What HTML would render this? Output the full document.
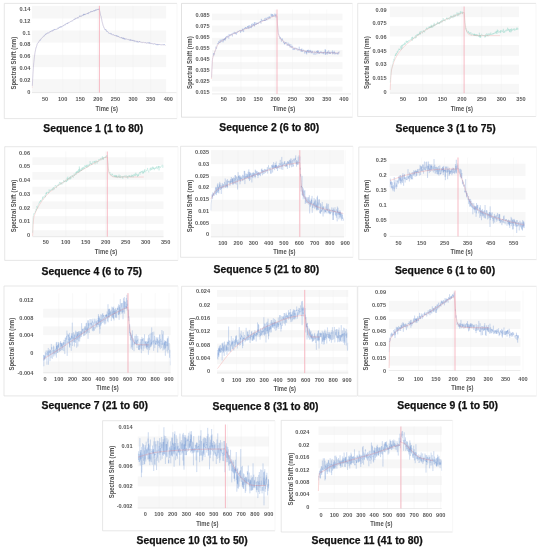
<!DOCTYPE html>
<html><head><meta charset="utf-8"><title>Sequences</title>
<style>
html,body{margin:0;padding:0;background:#fff;}
body{width:540px;height:550px;overflow:hidden;}
svg{display:block;}
.t{font-family:"Liberation Sans", Arial, sans-serif;font-size:5.60px;fill:#595959;font-weight:bold;}
.ti{font-family:"Liberation Sans", Arial, sans-serif;font-size:6.30px;fill:#505050;font-weight:bold;}
.cap{font-family:"Liberation Sans", Arial, sans-serif;font-size:10.7px;font-weight:bold;fill:#111;stroke:#111;stroke-width:0.25px;}
</style></head><body>
<svg width="540" height="550" viewBox="0 0 540 550">
<rect width="540" height="550" fill="#fff"/>
<path d="M4.3 3.4H177.0M4.3 3.4V118.6M4.3 118.6H177.0" fill="none" stroke="#dcdcdc" stroke-width="0.7"/>
<path d="M177.0 3.4V118.6" fill="none" stroke="#f3f3f3" stroke-width="0.7"/>
<rect x="32.0" y="5.80" width="134.2" height="12.70" fill="#f7f7f7"/>
<rect x="32.0" y="30.50" width="134.2" height="12.10" fill="#f7f7f7"/>
<rect x="32.0" y="54.80" width="134.2" height="12.40" fill="#f7f7f7"/>
<rect x="32.0" y="79.20" width="134.2" height="13.40" fill="#f7f7f7"/>
<line x1="62.61" y1="5.8" x2="62.61" y2="92.6" stroke="#f0f0f0" stroke-width="0.4"/>
<line x1="80.23" y1="5.8" x2="80.23" y2="92.6" stroke="#f0f0f0" stroke-width="0.4"/>
<line x1="97.84" y1="5.8" x2="97.84" y2="92.6" stroke="#f0f0f0" stroke-width="0.4"/>
<line x1="115.46" y1="5.8" x2="115.46" y2="92.6" stroke="#f0f0f0" stroke-width="0.4"/>
<line x1="133.07" y1="5.8" x2="133.07" y2="92.6" stroke="#f0f0f0" stroke-width="0.4"/>
<line x1="150.69" y1="5.8" x2="150.69" y2="92.6" stroke="#f0f0f0" stroke-width="0.4"/>
<line x1="32.0" y1="92.60" x2="176.5" y2="92.60" stroke="#d9d9d9" stroke-width="0.5"/>
<text x="30.3" y="11.02" text-anchor="end" class="t">0.14</text>
<text x="30.3" y="22.80" text-anchor="end" class="t">0.12</text>
<text x="30.3" y="34.59" text-anchor="end" class="t">0.1</text>
<text x="30.3" y="46.37" text-anchor="end" class="t">0.08</text>
<text x="30.3" y="58.16" text-anchor="end" class="t">0.06</text>
<text x="30.3" y="69.94" text-anchor="end" class="t">0.04</text>
<text x="30.3" y="81.73" text-anchor="end" class="t">0.02</text>
<text x="30.3" y="93.52" text-anchor="end" class="t">0</text>
<text x="45.00" y="101.22" text-anchor="middle" class="t">50</text>
<text x="62.61" y="101.22" text-anchor="middle" class="t">100</text>
<text x="80.23" y="101.22" text-anchor="middle" class="t">150</text>
<text x="97.84" y="101.22" text-anchor="middle" class="t">200</text>
<text x="115.46" y="101.22" text-anchor="middle" class="t">250</text>
<text x="133.07" y="101.22" text-anchor="middle" class="t">300</text>
<text x="150.69" y="101.22" text-anchor="middle" class="t">350</text>
<text x="168.30" y="101.22" text-anchor="middle" class="t">400</text>
<text x="95.55" y="111.27" class="ti" textLength="22.3" lengthAdjust="spacingAndGlyphs">Time (s)</text>
<text transform="translate(14.20 63.20) rotate(-90)" x="-26.3" y="2.27" class="ti" textLength="52.6" lengthAdjust="spacingAndGlyphs">Spectral Shift (nm)</text>
<path d="M32.30 85.90 L32.60 80.64 L32.90 74.78 L33.20 69.87 L33.50 65.63 L33.80 62.44 L34.10 59.93 L34.40 56.99 L34.70 54.91 L35.00 52.67 L35.30 51.14 L35.60 49.69 L35.90 47.73 L36.20 47.60 L36.50 46.50 L36.80 45.68 L37.10 44.10 L37.40 43.45 L37.70 43.21 L38.00 42.81 L38.30 42.58 L38.60 41.94 L38.90 41.72 L39.20 40.84 L39.50 40.83 L39.80 40.51 L40.10 39.74 L40.40 40.36 L40.70 39.56 L41.00 39.48 L41.30 38.41 L41.60 38.03 L41.90 37.86 L42.20 37.64 L42.50 37.62 L42.80 37.16 L43.10 36.59 L43.40 36.09 L43.70 35.98 L44.00 36.40 L44.30 35.32 L44.60 35.48 L44.90 35.30 L45.20 34.29 L45.50 34.67 L45.80 34.95 L46.10 33.40 L46.40 33.87 L46.70 33.75 L47.00 33.28 L47.30 33.62 L47.60 33.21 L47.90 32.48 L48.20 33.23 L48.50 33.00 L48.80 32.96 L49.10 33.00 L49.40 32.42 L49.70 32.17 L50.00 31.46 L50.30 32.08 L50.60 31.44 L50.90 31.36 L51.20 30.89 L51.50 30.86 L51.80 30.89 L52.10 31.47 L52.40 29.99 L52.70 30.07 L53.00 30.61 L53.30 30.95 L53.60 30.47 L53.90 29.34 L54.20 28.96 L54.50 29.98 L54.80 29.41 L55.10 29.13 L55.40 29.83 L55.70 29.76 L56.00 29.25 L56.30 29.16 L56.60 29.10 L56.90 29.43 L57.20 28.91 L57.50 28.74 L57.80 28.62 L58.10 27.64 L58.40 28.64 L58.70 28.37 L59.00 28.06 L59.30 26.91 L59.60 27.30 L59.90 27.74 L60.20 26.52 L60.50 27.02 L60.80 27.35 L61.10 26.26 L61.40 27.27 L61.70 26.69 L62.00 26.25 L62.30 26.27 L62.60 26.24 L62.90 25.87 L63.20 26.11 L63.50 25.23 L63.80 25.16 L64.10 25.58 L64.40 25.01 L64.70 24.48 L65.00 25.04 L65.30 25.08 L65.60 24.15 L65.90 23.61 L66.20 23.94 L66.50 23.77 L66.80 23.54 L67.10 24.06 L67.40 22.92 L67.70 23.67 L68.00 22.49 L68.30 22.52 L68.60 22.92 L68.90 22.95 L69.20 22.67 L69.50 22.30 L69.80 22.05 L70.10 21.88 L70.40 21.88 L70.70 21.41 L71.00 21.42 L71.30 21.36 L71.60 20.96 L71.90 21.09 L72.20 20.84 L72.50 21.25 L72.80 20.40 L73.10 19.93 L73.40 19.78 L73.70 19.76 L74.00 19.96 L74.30 19.29 L74.60 19.42 L74.90 19.83 L75.20 17.91 L75.50 18.33 L75.80 18.71 L76.10 18.62 L76.40 18.40 L76.70 17.98 L77.00 18.26 L77.30 17.96 L77.60 17.49 L77.90 18.53 L78.20 17.55 L78.50 17.04 L78.80 17.08 L79.10 16.89 L79.40 16.81 L79.70 15.60 L80.00 16.36 L80.30 16.82 L80.60 15.81 L80.90 16.11 L81.20 16.38 L81.50 16.21 L81.80 16.33 L82.10 14.92 L82.40 15.32 L82.70 15.20 L83.00 15.45 L83.30 15.51 L83.60 13.87 L83.90 15.25 L84.20 14.10 L84.50 14.83 L84.80 13.83 L85.10 14.37 L85.40 14.65 L85.70 13.98 L86.00 13.99 L86.30 14.11 L86.60 13.72 L86.90 13.51 L87.20 14.03 L87.50 13.71 L87.80 13.05 L88.10 14.15 L88.40 12.47 L88.70 13.18 L89.00 12.59 L89.30 12.63 L89.60 12.74 L89.90 12.43 L90.20 12.48 L90.50 11.50 L90.80 11.40 L91.10 12.13 L91.40 11.39 L91.70 11.25 L92.00 10.96 L92.30 11.95 L92.60 11.63 L92.90 11.81 L93.20 10.73 L93.50 11.00 L93.80 10.43 L94.10 11.08 L94.40 11.30 L94.70 10.20 L95.00 11.07 L95.30 10.73 L95.60 10.15 L95.90 9.32 L96.20 10.56 L96.50 9.84 L96.80 9.53 L97.10 9.81 L97.40 9.70 L97.70 10.02 L98.00 8.90 L98.30 9.64 L98.60 9.67 L98.90 9.54 L99.20 8.77 M99.30 8.50 L99.60 10.64 L99.90 11.72 L100.20 13.15 L100.50 15.07 L100.80 15.76 L101.10 16.28 L101.40 18.36 L101.70 19.06 L102.00 21.43 L102.30 22.52 L102.60 23.35 L102.90 24.62 L103.20 25.84 L103.50 26.32 L103.80 27.52 L104.10 27.59 L104.40 28.60 L104.70 29.29 L105.00 29.80 L105.30 29.30 L105.60 30.29 L105.90 29.53 L106.20 30.17 L106.50 30.12 L106.80 31.63 L107.10 31.00 L107.40 31.74 L107.70 31.91 L108.00 32.20 L108.30 32.17 L108.60 32.69 L108.90 33.49 L109.20 32.97 L109.50 33.33 L109.80 33.69 L110.10 33.38 L110.40 33.12 L110.70 33.56 L111.00 34.37 L111.30 33.43 L111.60 34.00 L111.90 34.79 L112.20 34.84 L112.50 34.66 L112.80 35.11 L113.10 34.98 L113.40 34.57 L113.70 34.54 L114.00 35.03 L114.30 35.77 L114.60 35.29 L114.90 35.27 L115.20 35.43 L115.50 35.24 L115.80 35.91 L116.10 35.59 L116.40 36.32 L116.70 35.33 L117.00 36.51 L117.30 36.22 L117.60 35.80 L117.90 36.96 L118.20 36.66 L118.50 35.97 L118.80 36.61 L119.10 37.17 L119.40 36.96 L119.70 37.54 L120.00 37.62 L120.30 37.68 L120.60 37.63 L120.90 38.12 L121.20 37.93 L121.50 37.93 L121.80 37.00 L122.10 38.28 L122.40 38.53 L122.70 37.97 L123.00 37.98 L123.30 39.03 L123.60 37.63 L123.90 38.60 L124.20 39.46 L124.50 38.20 L124.80 38.93 L125.10 39.49 L125.40 38.76 L125.70 39.11 L126.00 39.33 L126.30 38.68 L126.60 39.09 L126.90 39.32 L127.20 39.61 L127.50 39.34 L127.80 39.35 L128.10 39.09 L128.40 39.43 L128.70 40.00 L129.00 39.76 L129.30 39.45 L129.60 39.53 L129.90 41.00 L130.20 40.46 L130.50 40.33 L130.80 39.11 L131.10 40.46 L131.40 40.48 L131.70 41.03 L132.00 40.59 L132.30 40.46 L132.60 40.76 L132.90 39.84 L133.20 41.10 L133.50 40.88 L133.80 40.53 L134.10 41.41 L134.40 41.66 L134.70 40.44 L135.00 40.80 L135.30 41.24 L135.60 41.26 L135.90 41.09 L136.20 40.91 L136.50 42.21 L136.80 41.84 L137.10 41.00 L137.40 41.00 L137.70 42.27 L138.00 42.04 L138.30 42.43 L138.60 42.08 L138.90 41.46 L139.20 41.97 L139.50 41.05 L139.80 41.67 L140.10 42.00 L140.40 42.28 L140.70 41.83 L141.00 42.12 L141.30 42.39 L141.60 42.41 L141.90 42.56 L142.20 42.43 L142.50 42.26 L142.80 42.75 L143.10 42.49 L143.40 42.18 L143.70 42.30 L144.00 42.59 L144.30 42.59 L144.60 42.73 L144.90 42.71 L145.20 42.81 L145.50 42.73 L145.80 42.31 L146.10 43.02 L146.40 43.31 L146.70 43.10 L147.00 42.88 L147.30 43.17 L147.60 42.64 L147.90 42.30 L148.20 43.12 L148.50 42.76 L148.80 43.46 L149.10 42.76 L149.40 42.18 L149.70 42.85 L150.00 43.93 L150.30 43.18 L150.60 42.81 L150.90 43.09 L151.20 43.64 L151.50 43.66 L151.80 43.57 L152.10 44.13 L152.40 43.85 L152.70 43.60 L153.00 43.88 L153.30 44.34 L153.60 44.10 L153.90 44.16 L154.20 43.35 L154.50 43.77 L154.80 44.16 L155.10 43.78 L155.40 44.37 L155.70 44.22 L156.00 44.38 L156.30 43.97 L156.60 45.11 L156.90 44.62 L157.20 44.08 L157.50 44.24 L157.80 45.28 L158.10 44.14 L158.40 44.67 L158.70 44.75 L159.00 44.40 L159.30 43.96 L159.60 44.54 L159.90 44.65 L160.20 45.00 L160.50 44.90 L160.80 44.63 L161.10 45.00 L161.40 44.91 L161.70 44.82 L162.00 44.79 L162.30 44.71 L162.60 45.12 L162.90 44.46 L163.20 44.67 L163.50 44.96 L163.80 44.41 L164.10 44.86 L164.40 44.27 L164.70 44.84 L165.00 45.38 L165.30 45.41" fill="none" stroke="#4472c4" stroke-width="0.45" stroke-opacity="0.50" stroke-linejoin="round"/>
<path d="M32.30 88.00 L32.80 77.43 L33.30 68.51 L33.80 62.33 L34.30 57.64 L34.80 53.81 L35.30 50.98 L35.80 48.79 L36.30 46.92 L36.80 45.48 L37.30 44.35 L37.80 43.38 L38.30 42.45 L38.80 41.65 L39.30 40.96 L39.80 40.35 L40.30 39.78 L40.80 39.23 L41.30 38.66 L41.80 38.11 L42.30 37.58 L42.80 37.06 L43.30 36.57 L43.80 36.10 L44.30 35.65 L44.80 35.22 L45.30 34.81 L45.80 34.42 L46.30 34.07 L46.80 33.73 L47.30 33.42 L47.80 33.12 L48.30 32.84 L48.80 32.58 L49.30 32.32 L49.80 32.07 L50.30 31.83 L50.80 31.59 L51.30 31.35 L51.80 31.10 L52.30 30.85 L52.80 30.61 L53.30 30.37 L53.80 30.15 L54.30 29.92 L54.80 29.70 L55.30 29.49 L55.80 29.27 L56.30 29.06 L56.80 28.84 L57.30 28.62 L57.80 28.40 L58.30 28.17 L58.80 27.94 L59.30 27.70 L59.80 27.45 L60.30 27.20 L60.80 26.94 L61.30 26.68 L61.80 26.41 L62.30 26.14 L62.80 25.87 L63.30 25.60 L63.80 25.33 L64.30 25.05 L64.80 24.77 L65.30 24.50 L65.80 24.22 L66.30 23.94 L66.80 23.66 L67.30 23.39 L67.80 23.11 L68.30 22.83 L68.80 22.56 L69.30 22.27 L69.80 21.99 L70.30 21.71 L70.80 21.42 L71.30 21.13 L71.80 20.84 L72.30 20.56 L72.80 20.27 L73.30 19.99 L73.80 19.71 L74.30 19.43 L74.80 19.15 L75.30 18.88 L75.80 18.62 L76.30 18.36 L76.80 18.10 L77.30 17.85 L77.80 17.60 L78.30 17.36 L78.80 17.12 L79.30 16.88 L79.80 16.65 L80.30 16.41 L80.80 16.18 L81.30 15.96 L81.80 15.73 L82.30 15.51 L82.80 15.29 L83.30 15.07 L83.80 14.85 L84.30 14.64 L84.80 14.43 L85.30 14.21 L85.80 14.00 L86.30 13.79 L86.80 13.58 L87.30 13.38 L87.80 13.17 L88.30 12.97 L88.80 12.77 L89.30 12.58 L89.80 12.38 L90.30 12.19 L90.80 12.00 L91.30 11.81 L91.80 11.63 L92.30 11.44 L92.80 11.26 L93.30 11.07 L93.80 10.89 L94.30 10.70 L94.80 10.52 L95.30 10.33 L95.80 10.14 L96.30 9.96 L96.80 9.77 L97.30 9.58 L97.80 9.38 L98.30 9.19 L98.80 8.99 L99.30 8.80 M99.30 8.80 L99.80 11.20 L100.30 13.57 L100.80 15.86 L101.30 18.08 L101.80 20.23 L102.30 22.40 L102.80 24.30 L103.30 25.78 L103.80 26.99 L104.30 28.00 L104.80 28.85 L105.30 29.57 L105.80 30.17 L106.30 30.71 L106.80 31.20 L107.30 31.67 L107.80 32.06 L108.30 32.41 L108.80 32.72 L109.30 33.01 L109.80 33.29 L110.30 33.57 L110.80 33.84 L111.30 34.09 L111.80 34.34 L112.30 34.57 L112.80 34.79 L113.30 35.00 L113.80 35.20 L114.30 35.40 L114.80 35.59 L115.30 35.78 L115.80 35.96 L116.30 36.14 L116.80 36.31 L117.30 36.48 L117.80 36.64 L118.30 36.80 L118.80 36.96 L119.30 37.11 L119.80 37.26 L120.30 37.41 L120.80 37.55 L121.30 37.70 L121.80 37.84 L122.30 37.98 L122.80 38.11 L123.30 38.25 L123.80 38.39 L124.30 38.52 L124.80 38.65 L125.30 38.79 L125.80 38.92 L126.30 39.05 L126.80 39.17 L127.30 39.30 L127.80 39.43 L128.30 39.55 L128.80 39.67 L129.30 39.79 L129.80 39.91 L130.30 40.03 L130.80 40.15 L131.30 40.26 L131.80 40.37 L132.30 40.49 L132.80 40.60 L133.30 40.71 L133.80 40.81 L134.30 40.92 L134.80 41.02 L135.30 41.12 L135.80 41.22 L136.30 41.32 L136.80 41.42 L137.30 41.52 L137.80 41.61 L138.30 41.70 L138.80 41.79 L139.30 41.88 L139.80 41.97 L140.30 42.05 L140.80 42.13 L141.30 42.21 L141.80 42.29 L142.30 42.36 L142.80 42.43 L143.30 42.50 L143.80 42.57 L144.30 42.63 L144.80 42.69 L145.30 42.76 L145.80 42.82 L146.30 42.88 L146.80 42.93 L147.30 42.99 L147.80 43.05 L148.30 43.11 L148.80 43.16 L149.30 43.22 L149.80 43.27 L150.30 43.33 L150.80 43.39 L151.30 43.44 L151.80 43.50 L152.30 43.56 L152.80 43.62 L153.30 43.68 L153.80 43.74 L154.30 43.80 L154.80 43.86 L155.30 43.93 L155.80 43.99 L156.30 44.05 L156.80 44.12 L157.30 44.18 L157.80 44.24 L158.30 44.31 L158.80 44.37 L159.30 44.43 L159.80 44.49 L160.30 44.56 L160.80 44.62 L161.30 44.68 L161.80 44.75 L162.30 44.81 L162.80 44.87 L163.30 44.94 L163.80 45.00 L164.30 45.06 L164.80 45.12 L165.30 45.19" fill="none" stroke="#f07070" stroke-width="0.45" stroke-opacity="0.25"/>
<line x1="99.40" y1="5.8" x2="99.40" y2="92.6" stroke="#f5aab6" stroke-width="0.8"/>
<text x="43.3" y="131.7" class="cap" textLength="100.0" lengthAdjust="spacingAndGlyphs">Sequence 1 (1 to 80)</text>
<path d="M181.5 3.4H352.5M181.5 3.4V117.2M181.5 117.2H352.5" fill="none" stroke="#d6d6d6" stroke-width="0.7"/>
<path d="M352.5 3.4V117.2" fill="none" stroke="#f3f3f3" stroke-width="0.7"/>
<rect x="212.0" y="13.60" width="130.5" height="6.70" fill="#f7f7f7"/>
<rect x="212.0" y="25.60" width="130.5" height="6.70" fill="#f7f7f7"/>
<rect x="212.0" y="37.80" width="130.5" height="6.70" fill="#f7f7f7"/>
<rect x="212.0" y="50.00" width="130.5" height="6.70" fill="#f7f7f7"/>
<rect x="212.0" y="62.20" width="130.5" height="6.70" fill="#f7f7f7"/>
<rect x="212.0" y="74.40" width="130.5" height="6.70" fill="#f7f7f7"/>
<rect x="212.0" y="86.60" width="130.5" height="4.90" fill="#f7f7f7"/>
<line x1="240.93" y1="9.5" x2="240.93" y2="93.9" stroke="#f0f0f0" stroke-width="0.4"/>
<line x1="258.11" y1="9.5" x2="258.11" y2="93.9" stroke="#f0f0f0" stroke-width="0.4"/>
<line x1="275.29" y1="9.5" x2="275.29" y2="93.9" stroke="#f0f0f0" stroke-width="0.4"/>
<line x1="292.46" y1="9.5" x2="292.46" y2="93.9" stroke="#f0f0f0" stroke-width="0.4"/>
<line x1="309.64" y1="9.5" x2="309.64" y2="93.9" stroke="#f0f0f0" stroke-width="0.4"/>
<line x1="326.82" y1="9.5" x2="326.82" y2="93.9" stroke="#f0f0f0" stroke-width="0.4"/>
<line x1="212.0" y1="93.90" x2="351.0" y2="93.90" stroke="#d9d9d9" stroke-width="0.5"/>
<text x="209.5" y="16.52" text-anchor="end" class="t">0.085</text>
<text x="209.5" y="27.52" text-anchor="end" class="t">0.075</text>
<text x="209.5" y="38.52" text-anchor="end" class="t">0.065</text>
<text x="209.5" y="49.52" text-anchor="end" class="t">0.055</text>
<text x="209.5" y="60.52" text-anchor="end" class="t">0.045</text>
<text x="209.5" y="71.52" text-anchor="end" class="t">0.035</text>
<text x="209.5" y="82.52" text-anchor="end" class="t">0.025</text>
<text x="209.5" y="93.52" text-anchor="end" class="t">0.015</text>
<text x="223.75" y="100.52" text-anchor="middle" class="t">50</text>
<text x="240.93" y="100.52" text-anchor="middle" class="t">100</text>
<text x="258.11" y="100.52" text-anchor="middle" class="t">150</text>
<text x="275.29" y="100.52" text-anchor="middle" class="t">200</text>
<text x="292.46" y="100.52" text-anchor="middle" class="t">250</text>
<text x="309.64" y="100.52" text-anchor="middle" class="t">300</text>
<text x="326.82" y="100.52" text-anchor="middle" class="t">350</text>
<text x="344.00" y="100.52" text-anchor="middle" class="t">400</text>
<text x="272.85" y="111.27" class="ti" textLength="22.3" lengthAdjust="spacingAndGlyphs">Time (s)</text>
<text transform="translate(190.00 62.70) rotate(-90)" x="-26.3" y="2.27" class="ti" textLength="52.6" lengthAdjust="spacingAndGlyphs">Spectral Shift (nm)</text>
<path d="M211.50 77.55 L211.72 72.80 L211.94 67.97 L212.16 62.88 L212.38 59.92 L212.60 57.90 L212.82 57.49 L213.04 57.32 L213.26 54.89 L213.48 53.14 L213.70 54.46 L213.92 55.51 L214.14 53.56 L214.36 54.27 L214.58 52.46 L214.80 51.24 L215.02 51.03 L215.24 51.29 L215.46 50.30 L215.68 49.73 L215.90 46.63 L216.12 48.04 L216.34 48.76 L216.56 48.74 L216.78 47.32 L217.00 45.37 L217.22 44.87 L217.44 44.03 L217.66 43.25 L217.88 42.96 L218.10 43.86 L218.32 43.62 L218.54 44.19 L218.76 41.09 L218.98 42.84 L219.20 42.05 L219.42 42.37 L219.64 42.81 L219.86 42.10 L220.08 39.67 L220.30 42.64 L220.52 42.42 L220.74 41.76 L220.96 39.60 L221.18 39.74 L221.40 39.69 L221.62 41.22 L221.84 41.55 L222.06 42.17 L222.28 39.85 L222.50 38.86 L222.72 39.33 L222.94 40.42 L223.16 42.34 L223.38 39.16 L223.60 40.18 L223.82 39.52 L224.04 40.47 L224.26 38.06 L224.48 40.06 L224.70 38.98 L224.92 39.42 L225.14 38.02 L225.36 40.50 L225.58 36.90 L225.80 38.96 L226.02 37.18 L226.24 37.38 L226.46 36.28 L226.68 37.16 L226.90 37.40 L227.12 36.06 L227.34 36.99 L227.56 37.46 L227.78 36.45 L228.00 35.50 L228.22 35.96 L228.44 36.75 L228.66 38.16 L228.88 38.73 L229.10 33.95 L229.32 35.85 L229.54 35.98 L229.76 35.51 L229.98 36.11 L230.20 35.22 L230.42 34.07 L230.64 34.34 L230.86 35.51 L231.08 35.27 L231.30 34.54 L231.52 34.99 L231.74 33.89 L231.96 33.43 L232.18 34.84 L232.40 36.44 L232.62 33.84 L232.84 33.49 L233.06 33.80 L233.28 32.56 L233.50 33.37 L233.72 33.56 L233.94 33.93 L234.16 33.97 L234.38 31.77 L234.60 32.35 L234.82 33.84 L235.04 34.12 L235.26 32.06 L235.48 32.64 L235.70 33.98 L235.92 33.57 L236.14 32.89 L236.36 34.70 L236.58 33.51 L236.80 31.93 L237.02 32.85 L237.24 32.85 L237.46 31.59 L237.68 31.63 L237.90 31.81 L238.12 30.85 L238.34 31.80 L238.56 31.38 L238.78 31.51 L239.00 30.88 L239.22 30.46 L239.44 30.30 L239.66 30.86 L239.88 31.10 L240.10 30.05 L240.32 29.93 L240.54 32.89 L240.76 30.61 L240.98 31.37 L241.20 30.86 L241.42 30.96 L241.64 30.28 L241.86 30.24 L242.08 31.56 L242.30 28.57 L242.52 30.53 L242.74 29.26 L242.96 29.54 L243.18 29.20 L243.40 28.73 L243.62 32.11 L243.84 30.10 L244.06 29.60 L244.28 29.06 L244.50 27.94 L244.72 28.97 L244.94 28.33 L245.16 27.59 L245.38 28.27 L245.60 27.07 L245.82 28.60 L246.04 27.48 L246.26 28.73 L246.48 28.70 L246.70 28.25 L246.92 27.32 L247.14 28.50 L247.36 27.68 L247.58 26.09 L247.80 27.29 L248.02 26.11 L248.24 29.05 L248.46 27.99 L248.68 25.45 L248.90 27.41 L249.12 27.16 L249.34 28.56 L249.56 27.51 L249.78 25.10 L250.00 26.15 L250.22 27.31 L250.44 26.89 L250.66 27.83 L250.88 27.39 L251.10 26.32 L251.32 28.15 L251.54 23.86 L251.76 26.71 L251.98 26.31 L252.20 25.64 L252.42 26.47 L252.64 25.31 L252.86 23.30 L253.08 25.58 L253.30 24.33 L253.52 24.88 L253.74 24.16 L253.96 25.90 L254.18 26.32 L254.40 22.03 L254.62 26.31 L254.84 24.83 L255.06 22.85 L255.28 22.28 L255.50 24.29 L255.72 24.70 L255.94 24.00 L256.16 24.99 L256.38 23.36 L256.60 24.21 L256.82 22.57 L257.04 23.72 L257.26 23.02 L257.48 23.26 L257.70 23.91 L257.92 22.82 L258.14 24.12 L258.36 23.55 L258.58 22.62 L258.80 22.20 L259.02 22.98 L259.24 22.68 L259.46 22.33 L259.68 21.77 L259.90 21.62 L260.12 21.16 L260.34 22.19 L260.56 21.16 L260.78 22.74 L261.00 23.67 L261.22 18.81 L261.44 18.96 L261.66 20.48 L261.88 21.49 L262.10 20.03 L262.32 20.95 L262.54 20.91 L262.76 21.02 L262.98 20.33 L263.20 19.90 L263.42 20.35 L263.64 20.69 L263.86 19.95 L264.08 20.71 L264.30 19.83 L264.52 21.00 L264.74 19.59 L264.96 18.01 L265.18 20.97 L265.40 20.40 L265.62 20.85 L265.84 20.33 L266.06 17.62 L266.28 18.09 L266.50 19.68 L266.72 18.90 L266.94 20.37 L267.16 19.31 L267.38 17.93 L267.60 17.45 L267.82 17.63 L268.04 17.11 L268.26 18.81 L268.48 19.26 L268.70 18.33 L268.92 16.57 L269.14 18.24 L269.36 18.07 L269.58 16.65 L269.80 16.30 L270.02 18.75 L270.24 17.82 L270.46 17.35 L270.68 17.04 L270.90 16.63 L271.12 13.73 L271.34 15.41 L271.56 16.54 L271.78 14.83 L272.00 14.07 L272.22 16.61 L272.44 16.94 L272.66 14.06 L272.88 16.23 L273.10 15.54 L273.32 16.26 L273.54 15.44 L273.76 16.07 L273.98 16.54 L274.20 16.31 L274.42 15.76 L274.64 14.62 L274.86 13.53 L275.08 16.29 L275.30 16.11 L275.52 16.11 L275.74 14.25 L275.96 17.59 L276.18 16.96 L276.40 15.20 L276.62 14.16 L276.84 13.76 M277.00 16.11 L277.22 19.27 L277.44 23.61 L277.66 26.16 L277.88 28.69 L278.10 30.56 L278.32 34.06 L278.54 34.06 L278.76 34.62 L278.98 34.57 L279.20 36.69 L279.42 36.39 L279.64 37.32 L279.86 37.38 L280.08 38.92 L280.30 36.89 L280.52 38.57 L280.74 38.98 L280.96 39.65 L281.18 39.49 L281.40 41.68 L281.62 40.93 L281.84 38.25 L282.06 39.32 L282.28 39.71 L282.50 38.73 L282.72 40.75 L282.94 40.36 L283.16 41.78 L283.38 41.80 L283.60 42.88 L283.82 42.02 L284.04 41.41 L284.26 44.17 L284.48 42.99 L284.70 44.48 L284.92 42.81 L285.14 42.86 L285.36 42.00 L285.58 43.30 L285.80 43.71 L286.02 42.95 L286.24 41.95 L286.46 42.92 L286.68 43.73 L286.90 44.10 L287.12 45.82 L287.34 44.67 L287.56 44.56 L287.78 44.74 L288.00 42.57 L288.22 45.76 L288.44 44.64 L288.66 44.34 L288.88 44.39 L289.10 43.77 L289.32 46.14 L289.54 44.42 L289.76 46.65 L289.98 46.49 L290.20 47.64 L290.42 46.54 L290.64 46.71 L290.86 44.13 L291.08 47.21 L291.30 46.69 L291.52 46.75 L291.74 48.14 L291.96 45.87 L292.18 45.86 L292.40 47.09 L292.62 47.26 L292.84 46.64 L293.06 50.08 L293.28 48.30 L293.50 49.30 L293.72 48.84 L293.94 49.25 L294.16 49.45 L294.38 47.82 L294.60 48.97 L294.82 50.00 L295.04 48.97 L295.26 47.63 L295.48 47.94 L295.70 48.76 L295.92 48.53 L296.14 48.54 L296.36 48.98 L296.58 49.60 L296.80 47.90 L297.02 48.31 L297.24 49.07 L297.46 49.00 L297.68 49.69 L297.90 50.71 L298.12 49.18 L298.34 49.00 L298.56 49.31 L298.78 49.72 L299.00 50.31 L299.22 46.71 L299.44 50.03 L299.66 49.70 L299.88 50.36 L300.10 50.00 L300.32 49.04 L300.54 49.80 L300.76 51.21 L300.98 51.67 L301.20 50.16 L301.42 49.11 L301.64 51.78 L301.86 48.49 L302.08 50.26 L302.30 50.09 L302.52 51.63 L302.74 50.79 L302.96 51.62 L303.18 49.98 L303.40 50.78 L303.62 49.67 L303.84 49.83 L304.06 50.21 L304.28 50.43 L304.50 50.89 L304.72 53.55 L304.94 50.75 L305.16 50.59 L305.38 50.91 L305.60 52.02 L305.82 51.95 L306.04 50.86 L306.26 53.29 L306.48 51.52 L306.70 54.43 L306.92 51.33 L307.14 50.11 L307.36 52.43 L307.58 50.05 L307.80 50.82 L308.02 51.24 L308.24 49.60 L308.46 52.57 L308.68 50.49 L308.90 51.19 L309.12 53.06 L309.34 52.11 L309.56 50.27 L309.78 50.87 L310.00 52.39 L310.22 50.87 L310.44 49.88 L310.66 52.14 L310.88 51.02 L311.10 53.24 L311.32 52.35 L311.54 53.20 L311.76 51.66 L311.98 50.59 L312.20 51.75 L312.42 52.76 L312.64 51.13 L312.86 52.60 L313.08 53.72 L313.30 54.35 L313.52 54.30 L313.74 54.36 L313.96 53.34 L314.18 51.32 L314.40 51.30 L314.62 52.07 L314.84 53.38 L315.06 54.99 L315.28 52.37 L315.50 52.82 L315.72 52.34 L315.94 51.52 L316.16 51.29 L316.38 51.60 L316.60 50.94 L316.82 54.28 L317.04 52.56 L317.26 50.90 L317.48 52.97 L317.70 51.56 L317.92 50.03 L318.14 53.29 L318.36 51.01 L318.58 52.22 L318.80 53.77 L319.02 53.20 L319.24 52.41 L319.46 53.88 L319.68 53.44 L319.90 51.89 L320.12 52.63 L320.34 52.92 L320.56 53.21 L320.78 51.11 L321.00 51.92 L321.22 53.01 L321.44 52.21 L321.66 51.71 L321.88 51.93 L322.10 53.93 L322.32 52.18 L322.54 52.23 L322.76 52.96 L322.98 52.70 L323.20 52.51 L323.42 53.48 L323.64 51.96 L323.86 54.26 L324.08 52.11 L324.30 51.66 L324.52 52.04 L324.74 52.61 L324.96 51.90 L325.18 49.03 L325.40 55.02 L325.62 49.90 L325.84 54.14 L326.06 53.85 L326.28 52.66 L326.50 53.12 L326.72 53.25 L326.94 52.00 L327.16 54.74 L327.38 51.36 L327.60 52.79 L327.82 51.94 L328.04 53.66 L328.26 53.55 L328.48 52.18 L328.70 50.36 L328.92 52.97 L329.14 52.66 L329.36 53.85 L329.58 51.93 L329.80 51.78 L330.02 54.04 L330.24 52.27 L330.46 53.75 L330.68 53.13 L330.90 52.14 L331.12 51.63 L331.34 52.06 L331.56 52.17 L331.78 52.82 L332.00 52.49 L332.22 53.15 L332.44 50.46 L332.66 54.37 L332.88 52.37 L333.10 53.41 L333.32 51.87 L333.54 52.35 L333.76 53.54 L333.98 53.44 L334.20 50.80 L334.42 53.29 L334.64 52.10 L334.86 54.51 L335.08 53.76 L335.30 52.83 L335.52 52.65 L335.74 54.12 L335.96 53.71 L336.18 53.03 L336.40 53.21 L336.62 53.59 L336.84 52.61 L337.06 52.95 L337.28 54.44 L337.50 54.01 L337.72 52.72 L337.94 54.21 L338.16 54.50 L338.38 51.69 L338.60 53.20 L338.82 53.42 L339.04 53.27 L339.26 52.65 L339.48 51.91 L339.70 51.16" fill="none" stroke="#4472c4" stroke-width="0.30" stroke-opacity="0.60" stroke-linejoin="round"/>
<path d="M211.50 79.00 L212.00 67.40 L212.50 59.77 L213.00 56.63 L213.50 55.44 L214.00 54.30 L214.50 52.63 L215.00 51.11 L215.50 49.73 L216.00 48.48 L216.50 47.34 L217.00 46.30 L217.50 45.36 L218.00 44.50 L218.50 43.74 L219.00 43.09 L219.50 42.54 L220.00 42.07 L220.50 41.67 L221.00 41.32 L221.50 41.01 L222.00 40.72 L222.50 40.44 L223.00 40.15 L223.50 39.85 L224.00 39.50 L224.50 39.13 L225.00 38.77 L225.50 38.42 L226.00 38.07 L226.50 37.73 L227.00 37.40 L227.50 37.07 L228.00 36.75 L228.50 36.44 L229.00 36.13 L229.50 35.84 L230.00 35.55 L230.50 35.27 L231.00 35.00 L231.50 34.74 L232.00 34.48 L232.50 34.24 L233.00 33.99 L233.50 33.76 L234.00 33.52 L234.50 33.30 L235.00 33.08 L235.50 32.86 L236.00 32.64 L236.50 32.43 L237.00 32.23 L237.50 32.03 L238.00 31.83 L238.50 31.63 L239.00 31.43 L239.50 31.24 L240.00 31.05 L240.50 30.86 L241.00 30.67 L241.50 30.48 L242.00 30.29 L242.50 30.10 L243.00 29.91 L243.50 29.72 L244.00 29.53 L244.50 29.34 L245.00 29.14 L245.50 28.95 L246.00 28.75 L246.50 28.55 L247.00 28.35 L247.50 28.14 L248.00 27.93 L248.50 27.72 L249.00 27.50 L249.50 27.28 L250.00 27.06 L250.50 26.83 L251.00 26.60 L251.50 26.38 L252.00 26.14 L252.50 25.91 L253.00 25.68 L253.50 25.45 L254.00 25.21 L254.50 24.98 L255.00 24.74 L255.50 24.51 L256.00 24.27 L256.50 24.03 L257.00 23.80 L257.50 23.56 L258.00 23.33 L258.50 23.09 L259.00 22.86 L259.50 22.63 L260.00 22.40 L260.50 22.17 L261.00 21.95 L261.50 21.72 L262.00 21.50 L262.50 21.28 L263.00 21.05 L263.50 20.83 L264.00 20.60 L264.50 20.38 L265.00 20.15 L265.50 19.92 L266.00 19.70 L266.50 19.47 L267.00 19.25 L267.50 19.02 L268.00 18.80 L268.50 18.58 L269.00 18.36 L269.50 18.14 L270.00 17.93 L270.50 17.72 L271.00 17.51 L271.50 17.31 L272.00 17.11 L272.50 16.91 L273.00 16.72 L273.50 16.53 L274.00 16.35 L274.50 16.17 L275.00 16.00 L275.50 15.85 L276.00 15.73 L276.50 15.62 L277.00 15.50 M277.00 15.50 L277.50 25.33 L278.00 31.96 L278.50 34.62 L279.00 36.00 L279.50 37.36 L280.00 38.35 L280.50 39.07 L281.00 39.57 L281.50 39.94 L282.00 40.25 L282.50 40.58 L283.00 41.00 L283.50 41.48 L284.00 41.94 L284.50 42.38 L285.00 42.80 L285.50 43.20 L286.00 43.59 L286.50 43.95 L287.00 44.31 L287.50 44.64 L288.00 44.97 L288.50 45.28 L289.00 45.59 L289.50 45.88 L290.00 46.17 L290.50 46.45 L291.00 46.71 L291.50 46.97 L292.00 47.22 L292.50 47.45 L293.00 47.67 L293.50 47.88 L294.00 48.08 L294.50 48.27 L295.00 48.45 L295.50 48.63 L296.00 48.80 L296.50 48.96 L297.00 49.12 L297.50 49.27 L298.00 49.42 L298.50 49.57 L299.00 49.72 L299.50 49.86 L300.00 50.00 L300.50 50.14 L301.00 50.27 L301.50 50.40 L302.00 50.52 L302.50 50.63 L303.00 50.74 L303.50 50.85 L304.00 50.95 L304.50 51.04 L305.00 51.13 L305.50 51.22 L306.00 51.30 L306.50 51.38 L307.00 51.46 L307.50 51.53 L308.00 51.60 L308.50 51.67 L309.00 51.74 L309.50 51.80 L310.00 51.86 L310.50 51.91 L311.00 51.96 L311.50 52.01 L312.00 52.05 L312.50 52.09 L313.00 52.13 L313.50 52.17 L314.00 52.20 L314.50 52.23 L315.00 52.26 L315.50 52.29 L316.00 52.31 L316.50 52.34 L317.00 52.36 L317.50 52.38 L318.00 52.41 L318.50 52.43 L319.00 52.45 L319.50 52.48 L320.00 52.50 L320.50 52.52 L321.00 52.55 L321.50 52.57 L322.00 52.59 L322.50 52.61 L323.00 52.62 L323.50 52.64 L324.00 52.66 L324.50 52.67 L325.00 52.69 L325.50 52.70 L326.00 52.72 L326.50 52.73 L327.00 52.74 L327.50 52.76 L328.00 52.77 L328.50 52.78 L329.00 52.79 L329.50 52.80 L330.00 52.81 L330.50 52.82 L331.00 52.83 L331.50 52.84 L332.00 52.85 L332.50 52.85 L333.00 52.86 L333.50 52.87 L334.00 52.88 L334.50 52.89 L335.00 52.90 L335.50 52.91 L336.00 52.92 L336.50 52.93 L337.00 52.94 L337.50 52.95 L338.00 52.96 L338.50 52.97 L339.00 52.98 L339.50 52.99" fill="none" stroke="#f07070" stroke-width="0.45" stroke-opacity="0.45"/>
<line x1="277.00" y1="9.5" x2="277.00" y2="93.9" stroke="#f5aab6" stroke-width="0.8"/>
<text x="219.3" y="131.1" class="cap" textLength="99.9" lengthAdjust="spacingAndGlyphs">Sequence 2 (6 to 80)</text>
<path d="M357.7 3.4H536.0M357.7 3.4V116.5M357.7 116.5H536.0" fill="none" stroke="#dcdcdc" stroke-width="0.7"/>
<path d="M536.0 3.4V116.5" fill="none" stroke="#f3f3f3" stroke-width="0.7"/>
<rect x="389.8" y="6.50" width="129.2" height="10.70" fill="#f7f7f7"/>
<rect x="389.8" y="25.80" width="129.2" height="10.70" fill="#f7f7f7"/>
<rect x="389.8" y="45.10" width="129.2" height="10.70" fill="#f7f7f7"/>
<rect x="389.8" y="64.60" width="129.2" height="10.10" fill="#f7f7f7"/>
<rect x="389.8" y="83.80" width="129.2" height="9.40" fill="#f7f7f7"/>
<line x1="422.67" y1="6.5" x2="422.67" y2="93.2" stroke="#f0f0f0" stroke-width="0.4"/>
<line x1="442.33" y1="6.5" x2="442.33" y2="93.2" stroke="#f0f0f0" stroke-width="0.4"/>
<line x1="462.00" y1="6.5" x2="462.00" y2="93.2" stroke="#f0f0f0" stroke-width="0.4"/>
<line x1="481.67" y1="6.5" x2="481.67" y2="93.2" stroke="#f0f0f0" stroke-width="0.4"/>
<line x1="501.33" y1="6.5" x2="501.33" y2="93.2" stroke="#f0f0f0" stroke-width="0.4"/>
<line x1="389.8" y1="93.20" x2="519.0" y2="93.20" stroke="#d9d9d9" stroke-width="0.5"/>
<text x="386.5" y="11.52" text-anchor="end" class="t">0.09</text>
<text x="386.5" y="25.18" text-anchor="end" class="t">0.075</text>
<text x="386.5" y="38.85" text-anchor="end" class="t">0.06</text>
<text x="386.5" y="52.52" text-anchor="end" class="t">0.045</text>
<text x="386.5" y="66.18" text-anchor="end" class="t">0.03</text>
<text x="386.5" y="79.85" text-anchor="end" class="t">0.015</text>
<text x="386.5" y="93.52" text-anchor="end" class="t">0</text>
<text x="403.00" y="101.02" text-anchor="middle" class="t">50</text>
<text x="422.67" y="101.02" text-anchor="middle" class="t">100</text>
<text x="442.33" y="101.02" text-anchor="middle" class="t">150</text>
<text x="462.00" y="101.02" text-anchor="middle" class="t">200</text>
<text x="481.67" y="101.02" text-anchor="middle" class="t">250</text>
<text x="501.33" y="101.02" text-anchor="middle" class="t">300</text>
<text x="521.00" y="101.02" text-anchor="middle" class="t">350</text>
<text x="450.65" y="111.27" class="ti" textLength="22.3" lengthAdjust="spacingAndGlyphs">Time (s)</text>
<text transform="translate(367.00 62.70) rotate(-90)" x="-26.3" y="2.27" class="ti" textLength="52.6" lengthAdjust="spacingAndGlyphs">Spectral Shift (nm)</text>
<path d="M390.20 82.59 L390.45 79.33 L390.70 75.66 L390.95 74.99 L391.20 71.06 L391.45 69.42 L391.70 68.83 L391.95 68.06 L392.20 66.38 L392.45 65.83 L392.70 64.00 L392.95 63.49 L393.20 61.16 L393.45 61.48 L393.70 59.43 L393.95 59.44 L394.20 60.46 L394.45 57.77 L394.70 58.13 L394.95 55.82 L395.20 55.24 L395.45 56.03 L395.70 53.86 L395.95 55.62 L396.20 52.98 L396.45 54.19 L396.70 53.27 L396.95 53.42 L397.20 51.30 L397.45 52.71 L397.70 51.52 L397.95 50.55 L398.20 51.50 L398.45 50.65 L398.70 49.53 L398.95 48.51 L399.20 50.02 L399.45 48.95 L399.70 49.66 L399.95 49.87 L400.20 50.20 L400.45 48.28 L400.70 46.22 L400.95 47.48 L401.20 47.86 L401.45 49.41 L401.70 44.96 L401.95 48.17 L402.20 48.43 L402.45 46.48 L402.70 44.75 L402.95 45.85 L403.20 44.32 L403.45 44.04 L403.70 44.70 L403.95 43.80 L404.20 44.58 L404.45 44.61 L404.70 42.54 L404.95 44.61 L405.20 43.49 L405.45 44.26 L405.70 43.50 L405.95 42.40 L406.20 40.67 L406.45 42.47 L406.70 42.33 L406.95 41.32 L407.20 42.82 L407.45 41.00 L407.70 41.49 L407.95 42.41 L408.20 41.73 L408.45 40.47 L408.70 40.95 L408.95 41.30 L409.20 40.00 L409.45 39.94 L409.70 40.39 L409.95 40.36 L410.20 40.51 L410.45 40.22 L410.70 39.05 L410.95 38.84 L411.20 39.05 L411.45 39.66 L411.70 37.31 L411.95 39.03 L412.20 40.96 L412.45 36.73 L412.70 38.54 L412.95 37.55 L413.20 38.87 L413.45 38.64 L413.70 38.15 L413.95 38.32 L414.20 37.53 L414.45 36.87 L414.70 36.76 L414.95 37.38 L415.20 38.50 L415.45 35.32 L415.70 35.79 L415.95 36.61 L416.20 38.04 L416.45 35.67 L416.70 36.00 L416.95 34.19 L417.20 35.63 L417.45 34.64 L417.70 34.54 L417.95 35.16 L418.20 33.78 L418.45 35.25 L418.70 34.12 L418.95 34.23 L419.20 33.85 L419.45 32.62 L419.70 34.55 L419.95 31.47 L420.20 33.28 L420.45 34.46 L420.70 31.64 L420.95 31.27 L421.20 30.82 L421.45 32.20 L421.70 31.76 L421.95 31.71 L422.20 32.47 L422.45 33.49 L422.70 32.67 L422.95 30.77 L423.20 31.19 L423.45 31.60 L423.70 30.17 L423.95 30.90 L424.20 32.11 L424.45 31.52 L424.70 32.30 L424.95 30.46 L425.20 29.89 L425.45 29.65 L425.70 29.64 L425.95 30.21 L426.20 29.06 L426.45 27.72 L426.70 29.00 L426.95 29.07 L427.20 27.76 L427.45 29.38 L427.70 29.06 L427.95 29.06 L428.20 28.31 L428.45 28.13 L428.70 26.74 L428.95 26.58 L429.20 28.23 L429.45 26.70 L429.70 27.64 L429.95 26.63 L430.20 27.79 L430.45 26.33 L430.70 27.65 L430.95 27.56 L431.20 24.72 L431.45 27.40 L431.70 25.77 L431.95 27.77 L432.20 25.30 L432.45 27.06 L432.70 27.45 L432.95 26.99 L433.20 26.32 L433.45 24.48 L433.70 26.59 L433.95 25.76 L434.20 22.86 L434.45 25.93 L434.70 24.56 L434.95 25.23 L435.20 24.78 L435.45 25.44 L435.70 24.35 L435.95 24.42 L436.20 24.71 L436.45 23.55 L436.70 24.64 L436.95 23.82 L437.20 23.15 L437.45 21.72 L437.70 24.10 L437.95 22.87 L438.20 23.45 L438.45 22.49 L438.70 23.34 L438.95 24.08 L439.20 22.92 L439.45 22.10 L439.70 24.11 L439.95 22.31 L440.20 22.67 L440.45 21.03 L440.70 22.25 L440.95 22.47 L441.20 22.63 L441.45 20.43 L441.70 20.21 L441.95 22.40 L442.20 20.63 L442.45 21.30 L442.70 20.52 L442.95 20.89 L443.20 18.16 L443.45 19.89 L443.70 20.75 L443.95 20.37 L444.20 20.90 L444.45 19.33 L444.70 20.60 L444.95 20.80 L445.20 21.27 L445.45 20.16 L445.70 19.45 L445.95 18.76 L446.20 18.52 L446.45 18.07 L446.70 19.05 L446.95 17.44 L447.20 19.50 L447.45 19.54 L447.70 18.44 L447.95 18.44 L448.20 18.73 L448.45 17.79 L448.70 18.75 L448.95 19.02 L449.20 19.81 L449.45 17.38 L449.70 17.87 L449.95 18.45 L450.20 18.93 L450.45 18.64 L450.70 15.84 L450.95 17.31 L451.20 15.81 L451.45 17.55 L451.70 17.68 L451.95 16.48 L452.20 15.86 L452.45 17.22 L452.70 17.59 L452.95 18.18 L453.20 16.72 L453.45 14.71 L453.70 16.19 L453.95 17.30 L454.20 15.62 L454.45 15.64 L454.70 16.61 L454.95 14.39 L455.20 13.99 L455.45 16.46 L455.70 16.05 L455.95 15.45 L456.20 14.78 L456.45 14.81 L456.70 14.44 L456.95 12.38 L457.20 13.75 L457.45 16.14 L457.70 14.92 L457.95 12.79 L458.20 13.50 L458.45 12.87 L458.70 15.84 L458.95 14.35 L459.20 13.80 L459.45 13.32 L459.70 14.20 L459.95 14.54 L460.20 11.57 L460.45 13.64 L460.70 11.30 L460.95 11.27 L461.20 12.02 L461.45 12.73 L461.70 13.18 L461.95 12.51 L462.20 11.50 L462.45 14.11 L462.70 12.59 L462.95 12.69 L463.20 12.66 L463.45 13.16 L463.70 12.64 L463.95 12.26 M464.10 12.71 L464.35 12.64 L464.60 16.96 L464.85 22.67 L465.10 23.20 L465.35 25.13 L465.60 26.42 L465.85 29.38 L466.10 28.52 L466.35 29.71 L466.60 31.06 L466.85 30.41 L467.10 31.76 L467.35 32.10 L467.60 32.06 L467.85 31.72 L468.10 33.14 L468.35 30.94 L468.60 31.70 L468.85 33.09 L469.10 33.21 L469.35 33.96 L469.60 32.45 L469.85 33.48 L470.10 34.20 L470.35 33.14 L470.60 32.85 L470.85 32.05 L471.10 35.39 L471.35 35.43 L471.60 34.33 L471.85 33.82 L472.10 33.14 L472.35 34.20 L472.60 34.32 L472.85 34.85 L473.10 34.54 L473.35 34.03 L473.60 35.44 L473.85 35.56 L474.10 33.53 L474.35 35.53 L474.60 33.88 L474.85 35.77 L475.10 34.90 L475.35 34.03 L475.60 35.76 L475.85 34.84 L476.10 35.59 L476.35 34.76 L476.60 34.36 L476.85 36.15 L477.10 34.19 L477.35 35.69 L477.60 35.29 L477.85 35.59 L478.10 36.07 L478.35 35.73 L478.60 36.66 L478.85 35.48 L479.10 36.32 L479.35 32.72 L479.60 37.34 L479.85 35.08 L480.10 35.46 L480.35 37.92 L480.60 35.07 L480.85 37.23 L481.10 35.87 L481.35 33.85 L481.60 33.93 L481.85 34.44 L482.10 34.46 L482.35 35.49 L482.60 35.16 L482.85 35.79 L483.10 35.69 L483.35 36.10 L483.60 35.46 L483.85 35.85 L484.10 35.50 L484.35 35.05 L484.60 35.83 L484.85 37.58 L485.10 36.22 L485.35 37.10 L485.60 34.30 L485.85 36.34 L486.10 35.86 L486.35 36.11 L486.60 34.72 L486.85 33.13 L487.10 34.91 L487.35 36.09 L487.60 34.33 L487.85 34.68 L488.10 36.39 L488.35 34.76 L488.60 33.97 L488.85 33.29 L489.10 35.05 L489.35 34.74 L489.60 35.43 L489.85 33.58 L490.10 34.11 L490.35 34.94 L490.60 33.74 L490.85 32.44 L491.10 34.35 L491.35 34.88 L491.60 34.13 L491.85 34.34 L492.10 34.93 L492.35 34.69 L492.60 33.50 L492.85 34.11 L493.10 33.27 L493.35 34.26 L493.60 33.13 L493.85 32.97 L494.10 33.91 L494.35 33.64 L494.60 32.63 L494.85 33.21 L495.10 33.02 L495.35 31.65 L495.60 32.40 L495.85 31.94 L496.10 33.81 L496.35 30.82 L496.60 32.35 L496.85 31.50 L497.10 33.70 L497.35 29.52 L497.60 31.92 L497.85 31.27 L498.10 30.19 L498.35 30.91 L498.60 32.78 L498.85 32.44 L499.10 32.47 L499.35 31.35 L499.60 31.40 L499.85 32.07 L500.10 31.44 L500.35 33.08 L500.60 30.02 L500.85 32.41 L501.10 31.59 L501.35 30.66 L501.60 30.54 L501.85 31.20 L502.10 30.50 L502.35 32.18 L502.60 31.95 L502.85 30.86 L503.10 31.12 L503.35 28.84 L503.60 32.98 L503.85 32.24 L504.10 32.60 L504.35 30.82 L504.60 32.33 L504.85 32.41 L505.10 32.14 L505.35 30.63 L505.60 30.13 L505.85 30.29 L506.10 31.49 L506.35 29.48 L506.60 30.50 L506.85 30.60 L507.10 30.54 L507.35 30.51 L507.60 27.68 L507.85 29.93 L508.10 31.02 L508.35 28.77 L508.60 30.01 L508.85 29.51 L509.10 30.69 L509.35 30.49 L509.60 32.00 L509.85 29.00 L510.10 32.37 L510.35 29.58 L510.60 29.65 L510.85 28.90 L511.10 32.28 L511.35 31.83 L511.60 28.45 L511.85 30.63 L512.10 29.99 L512.35 30.47 L512.60 29.31 L512.85 28.96 L513.10 29.54 L513.35 28.95 L513.60 28.95 L513.85 30.31 L514.10 28.22 L514.35 28.58 L514.60 29.95 L514.85 30.84 L515.10 29.79 L515.35 29.26 L515.60 29.39 L515.85 29.94 L516.10 29.56 L516.35 28.29 L516.60 29.80 L516.85 27.86 L517.10 27.37 L517.35 29.43 L517.60 29.55 L517.85 28.16 L518.10 29.42 L518.35 29.14" fill="none" stroke="#5ec2ae" stroke-width="0.35" stroke-opacity="0.55" stroke-linejoin="round"/>
<path d="M390.20 90.00 L390.70 79.82 L391.20 72.86 L391.70 69.27 L392.20 67.32 L392.70 65.97 L393.20 64.27 L393.70 62.64 L394.20 61.24 L394.70 60.02 L395.20 58.94 L395.70 57.95 L396.20 57.00 L396.70 56.08 L397.20 55.23 L397.70 54.42 L398.20 53.67 L398.70 52.95 L399.20 52.28 L399.70 51.64 L400.20 51.03 L400.70 50.45 L401.20 49.89 L401.70 49.34 L402.20 48.81 L402.70 48.28 L403.20 47.76 L403.70 47.24 L404.20 46.71 L404.70 46.18 L405.20 45.67 L405.70 45.18 L406.20 44.70 L406.70 44.24 L407.20 43.80 L407.70 43.36 L408.20 42.94 L408.70 42.53 L409.20 42.12 L409.70 41.72 L410.20 41.33 L410.70 40.93 L411.20 40.54 L411.70 40.14 L412.20 39.74 L412.70 39.34 L413.20 38.94 L413.70 38.54 L414.20 38.14 L414.70 37.74 L415.20 37.35 L415.70 36.97 L416.20 36.58 L416.70 36.20 L417.20 35.82 L417.70 35.45 L418.20 35.08 L418.70 34.72 L419.20 34.35 L419.70 34.00 L420.20 33.65 L420.70 33.30 L421.20 32.96 L421.70 32.62 L422.20 32.29 L422.70 31.96 L423.20 31.64 L423.70 31.32 L424.20 31.00 L424.70 30.69 L425.20 30.39 L425.70 30.08 L426.20 29.78 L426.70 29.48 L427.20 29.19 L427.70 28.89 L428.20 28.60 L428.70 28.31 L429.20 28.03 L429.70 27.75 L430.20 27.47 L430.70 27.20 L431.20 26.93 L431.70 26.66 L432.20 26.40 L432.70 26.14 L433.20 25.88 L433.70 25.62 L434.20 25.37 L434.70 25.11 L435.20 24.86 L435.70 24.61 L436.20 24.35 L436.70 24.10 L437.20 23.85 L437.70 23.60 L438.20 23.35 L438.70 23.09 L439.20 22.84 L439.70 22.60 L440.20 22.35 L440.70 22.10 L441.20 21.86 L441.70 21.61 L442.20 21.37 L442.70 21.13 L443.20 20.89 L443.70 20.65 L444.20 20.41 L444.70 20.18 L445.20 19.95 L445.70 19.71 L446.20 19.48 L446.70 19.26 L447.20 19.03 L447.70 18.80 L448.20 18.58 L448.70 18.35 L449.20 18.13 L449.70 17.91 L450.20 17.69 L450.70 17.48 L451.20 17.26 L451.70 17.05 L452.20 16.84 L452.70 16.63 L453.20 16.42 L453.70 16.22 L454.20 16.02 L454.70 15.82 L455.20 15.62 L455.70 15.43 L456.20 15.23 L456.70 15.04 L457.20 14.86 L457.70 14.67 L458.20 14.48 L458.70 14.30 L459.20 14.11 L459.70 13.93 L460.20 13.74 L460.70 13.56 L461.20 13.38 L461.70 13.19 L462.20 13.01 L462.70 12.82 L463.20 12.64 L463.70 12.45 M464.10 12.60 L464.60 18.16 L465.10 23.63 L465.60 27.64 L466.10 30.04 L466.60 31.47 L467.10 32.37 L467.60 33.16 L468.10 33.83 L468.60 34.29 L469.10 34.59 L469.60 34.76 L470.10 34.86 L470.60 34.93 L471.10 35.02 L471.60 35.11 L472.10 35.19 L472.60 35.27 L473.10 35.33 L473.60 35.38 L474.10 35.43 L474.60 35.47 L475.10 35.50 L475.60 35.53 L476.10 35.55 L476.60 35.57 L477.10 35.58 L477.60 35.59 L478.10 35.59 L478.60 35.60 L479.10 35.60 L479.60 35.60 L480.10 35.60 L480.60 35.60 L481.10 35.60 L481.60 35.60 L482.10 35.60 L482.60 35.60 L483.10 35.60 L483.60 35.60 L484.10 35.60 L484.60 35.60 L485.10 35.60 L485.60 35.60 L486.10 35.60 L486.60 35.60 L487.10 35.60 L487.60 35.60 L488.10 35.60 L488.60 35.60 L489.10 35.60 L489.60 35.60 L490.10 35.60 L490.60 35.60 L491.10 35.60 L491.60 35.60 L492.10 35.60 L492.60 35.60 L493.10 35.60 L493.60 35.60 L494.10 35.60 L494.60 35.60 L495.10 35.60 L495.60 35.60 L496.10 35.60 L496.60 35.60 L497.10 35.60 L497.60 35.60 L498.10 35.60 L498.60 35.60 L499.10 35.60 L499.60 35.60 L500.10 35.60" fill="none" stroke="#f07070" stroke-width="0.45" stroke-opacity="0.50"/>
<line x1="464.10" y1="6.5" x2="464.10" y2="93.2" stroke="#f5aab6" stroke-width="0.8"/>
<text x="395.6" y="131.5" class="cap" textLength="100.0" lengthAdjust="spacingAndGlyphs">Sequence 3 (1 to 75)</text>
<path d="M4.7 146.7H178.0M4.7 146.7V260.4M4.7 260.4H178.0" fill="none" stroke="#dcdcdc" stroke-width="0.7"/>
<path d="M178.0 146.7V260.4" fill="none" stroke="#f3f3f3" stroke-width="0.7"/>
<rect x="32.4" y="157.30" width="131.1" height="7.70" fill="#f7f7f7"/>
<rect x="32.4" y="172.00" width="131.1" height="7.70" fill="#f7f7f7"/>
<rect x="32.4" y="186.70" width="131.1" height="7.70" fill="#f7f7f7"/>
<rect x="32.4" y="201.40" width="131.1" height="7.70" fill="#f7f7f7"/>
<rect x="32.4" y="216.20" width="131.1" height="7.60" fill="#f7f7f7"/>
<rect x="32.4" y="230.30" width="131.1" height="6.40" fill="#f7f7f7"/>
<line x1="65.77" y1="151.5" x2="65.77" y2="236.7" stroke="#f0f0f0" stroke-width="0.4"/>
<line x1="85.73" y1="151.5" x2="85.73" y2="236.7" stroke="#f0f0f0" stroke-width="0.4"/>
<line x1="105.70" y1="151.5" x2="105.70" y2="236.7" stroke="#f0f0f0" stroke-width="0.4"/>
<line x1="125.67" y1="151.5" x2="125.67" y2="236.7" stroke="#f0f0f0" stroke-width="0.4"/>
<line x1="145.63" y1="151.5" x2="145.63" y2="236.7" stroke="#f0f0f0" stroke-width="0.4"/>
<line x1="32.4" y1="236.70" x2="163.5" y2="236.70" stroke="#d9d9d9" stroke-width="0.5"/>
<text x="30.0" y="154.72" text-anchor="end" class="t">0.06</text>
<text x="30.0" y="168.43" text-anchor="end" class="t">0.05</text>
<text x="30.0" y="182.15" text-anchor="end" class="t">0.04</text>
<text x="30.0" y="195.87" text-anchor="end" class="t">0.03</text>
<text x="30.0" y="209.58" text-anchor="end" class="t">0.02</text>
<text x="30.0" y="223.30" text-anchor="end" class="t">0.01</text>
<text x="30.0" y="237.02" text-anchor="end" class="t">0</text>
<text x="45.80" y="244.22" text-anchor="middle" class="t">50</text>
<text x="65.77" y="244.22" text-anchor="middle" class="t">100</text>
<text x="85.73" y="244.22" text-anchor="middle" class="t">150</text>
<text x="105.70" y="244.22" text-anchor="middle" class="t">200</text>
<text x="125.67" y="244.22" text-anchor="middle" class="t">250</text>
<text x="145.63" y="244.22" text-anchor="middle" class="t">300</text>
<text x="165.60" y="244.22" text-anchor="middle" class="t">350</text>
<text x="94.85" y="254.47" class="ti" textLength="22.3" lengthAdjust="spacingAndGlyphs">Time (s)</text>
<text transform="translate(13.50 206.00) rotate(-90)" x="-26.3" y="2.27" class="ti" textLength="52.6" lengthAdjust="spacingAndGlyphs">Spectral Shift (nm)</text>
<path d="M32.60 232.87 L32.85 222.93 L33.10 217.92 L33.35 216.32 L33.60 214.43 L33.85 213.44 L34.10 214.35 L34.35 214.05 L34.60 213.17 L34.85 212.88 L35.10 212.97 L35.35 210.86 L35.60 211.44 L35.85 211.11 L36.10 209.00 L36.35 210.32 L36.60 208.15 L36.85 206.06 L37.10 207.10 L37.35 207.43 L37.60 208.44 L37.85 205.63 L38.10 205.66 L38.35 204.60 L38.60 204.42 L38.85 202.91 L39.10 203.17 L39.35 203.10 L39.60 201.44 L39.85 202.62 L40.10 202.16 L40.35 201.45 L40.60 200.15 L40.85 201.87 L41.10 200.12 L41.35 200.40 L41.60 199.99 L41.85 200.14 L42.10 199.29 L42.35 198.98 L42.60 197.20 L42.85 199.61 L43.10 196.27 L43.35 196.92 L43.60 197.10 L43.85 197.26 L44.10 197.80 L44.35 196.94 L44.60 196.85 L44.85 195.35 L45.10 195.27 L45.35 197.15 L45.60 195.82 L45.85 193.30 L46.10 194.20 L46.35 192.23 L46.60 194.34 L46.85 192.42 L47.10 191.83 L47.35 192.32 L47.60 192.30 L47.85 192.38 L48.10 192.89 L48.35 193.24 L48.60 191.93 L48.85 192.96 L49.10 189.33 L49.35 191.61 L49.60 191.05 L49.85 190.46 L50.10 190.27 L50.35 190.41 L50.60 191.02 L50.85 189.87 L51.10 189.36 L51.35 190.18 L51.60 189.55 L51.85 189.23 L52.10 189.53 L52.35 188.25 L52.60 188.29 L52.85 190.44 L53.10 188.34 L53.35 187.09 L53.60 188.21 L53.85 187.73 L54.10 189.67 L54.35 187.78 L54.60 187.18 L54.85 186.40 L55.10 185.54 L55.35 185.83 L55.60 186.03 L55.85 185.13 L56.10 187.18 L56.35 188.07 L56.60 186.21 L56.85 186.29 L57.10 185.94 L57.35 185.38 L57.60 185.41 L57.85 185.92 L58.10 184.36 L58.35 184.30 L58.60 185.43 L58.85 185.23 L59.10 183.81 L59.35 182.84 L59.60 182.10 L59.85 182.09 L60.10 184.93 L60.35 182.82 L60.60 183.29 L60.85 182.57 L61.10 183.52 L61.35 182.44 L61.60 183.36 L61.85 184.68 L62.10 183.04 L62.35 182.63 L62.60 182.99 L62.85 182.73 L63.10 183.35 L63.35 182.31 L63.60 180.63 L63.85 179.99 L64.10 181.95 L64.35 181.50 L64.60 182.26 L64.85 181.37 L65.10 182.01 L65.35 179.97 L65.60 179.78 L65.85 180.26 L66.10 181.54 L66.35 180.87 L66.60 182.07 L66.85 178.95 L67.10 177.76 L67.35 181.09 L67.60 179.58 L67.85 176.62 L68.10 180.41 L68.35 178.16 L68.60 178.78 L68.85 178.33 L69.10 178.66 L69.35 178.54 L69.60 176.87 L69.85 179.85 L70.10 179.11 L70.35 177.73 L70.60 176.01 L70.85 179.10 L71.10 177.64 L71.35 177.28 L71.60 177.13 L71.85 176.43 L72.10 175.12 L72.35 176.53 L72.60 175.50 L72.85 176.81 L73.10 177.76 L73.35 177.61 L73.60 176.31 L73.85 175.75 L74.10 173.38 L74.35 175.32 L74.60 176.03 L74.85 175.03 L75.10 174.55 L75.35 174.31 L75.60 172.77 L75.85 172.28 L76.10 174.78 L76.35 171.68 L76.60 173.15 L76.85 171.26 L77.10 170.99 L77.35 172.80 L77.60 171.79 L77.85 170.63 L78.10 172.97 L78.35 170.67 L78.60 169.27 L78.85 172.62 L79.10 171.15 L79.35 166.44 L79.60 171.58 L79.85 168.62 L80.10 171.49 L80.35 170.73 L80.60 170.37 L80.85 169.55 L81.10 170.93 L81.35 169.70 L81.60 170.73 L81.85 167.97 L82.10 169.72 L82.35 167.27 L82.60 169.36 L82.85 169.41 L83.10 169.71 L83.35 166.87 L83.60 167.61 L83.85 169.12 L84.10 167.31 L84.35 167.80 L84.60 168.65 L84.85 165.09 L85.10 166.92 L85.35 166.44 L85.60 165.79 L85.85 167.24 L86.10 166.47 L86.35 166.65 L86.60 164.93 L86.85 167.91 L87.10 164.92 L87.35 164.64 L87.60 165.05 L87.85 167.19 L88.10 165.32 L88.35 166.29 L88.60 165.51 L88.85 165.33 L89.10 164.14 L89.35 165.81 L89.60 164.26 L89.85 164.53 L90.10 161.00 L90.35 163.89 L90.60 163.82 L90.85 163.26 L91.10 163.89 L91.35 164.95 L91.60 163.47 L91.85 163.05 L92.10 164.56 L92.35 162.72 L92.60 161.55 L92.85 162.36 L93.10 162.23 L93.35 162.65 L93.60 162.23 L93.85 161.81 L94.10 160.88 L94.35 162.67 L94.60 161.20 L94.85 163.14 L95.10 164.39 L95.35 162.56 L95.60 160.71 L95.85 162.00 L96.10 162.13 L96.35 161.62 L96.60 160.63 L96.85 161.06 L97.10 163.67 L97.35 161.43 L97.60 161.65 L97.85 161.91 L98.10 161.38 L98.35 161.47 L98.60 161.51 L98.85 159.08 L99.10 160.20 L99.35 159.95 L99.60 159.75 L99.85 159.53 L100.10 159.10 L100.35 158.50 L100.60 158.15 L100.85 160.27 L101.10 160.27 L101.35 158.34 L101.60 158.46 L101.85 158.38 L102.10 158.24 L102.35 156.36 L102.60 159.44 L102.85 157.97 L103.10 157.58 L103.35 159.87 L103.60 157.60 L103.85 157.16 L104.10 157.98 L104.35 157.42 L104.60 157.20 L104.85 156.93 L105.10 157.13 L105.35 157.65 L105.60 156.33 L105.85 157.39 L106.10 157.15 L106.35 157.05 L106.60 156.21 L106.85 155.00 L107.10 156.54 M107.30 155.69 L107.55 160.09 L107.80 162.81 L108.05 164.80 L108.30 168.14 L108.55 169.41 L108.80 171.65 L109.05 171.82 L109.30 173.19 L109.55 172.88 L109.80 172.47 L110.05 172.29 L110.30 172.72 L110.55 174.75 L110.80 174.31 L111.05 175.65 L111.30 175.54 L111.55 175.35 L111.80 173.73 L112.05 173.96 L112.30 174.63 L112.55 173.77 L112.80 176.68 L113.05 176.07 L113.30 176.35 L113.55 175.59 L113.80 176.08 L114.05 176.32 L114.30 176.82 L114.55 175.41 L114.80 176.97 L115.05 174.91 L115.30 177.17 L115.55 176.91 L115.80 175.51 L116.05 177.36 L116.30 175.09 L116.55 177.18 L116.80 175.80 L117.05 176.86 L117.30 177.82 L117.55 178.09 L117.80 176.84 L118.05 175.83 L118.30 176.96 L118.55 176.72 L118.80 177.32 L119.05 174.49 L119.30 177.67 L119.55 176.68 L119.80 177.37 L120.05 176.95 L120.30 175.33 L120.55 177.54 L120.80 178.16 L121.05 176.79 L121.30 176.46 L121.55 176.47 L121.80 176.96 L122.05 177.44 L122.30 176.25 L122.55 176.16 L122.80 178.87 L123.05 176.69 L123.30 176.26 L123.55 177.05 L123.80 176.79 L124.05 177.16 L124.30 175.53 L124.55 175.77 L124.80 176.44 L125.05 176.96 L125.30 177.30 L125.55 177.15 L125.80 176.49 L126.05 174.96 L126.30 177.12 L126.55 177.04 L126.80 177.58 L127.05 176.80 L127.30 176.80 L127.55 175.97 L127.80 178.71 L128.05 176.93 L128.30 176.26 L128.55 175.66 L128.80 175.55 L129.05 176.98 L129.30 175.64 L129.55 176.54 L129.80 175.24 L130.05 176.25 L130.30 177.07 L130.55 177.28 L130.80 176.07 L131.05 176.07 L131.30 176.86 L131.55 174.72 L131.80 175.42 L132.05 177.35 L132.30 175.05 L132.55 175.52 L132.80 174.88 L133.05 176.87 L133.30 177.03 L133.55 177.16 L133.80 174.18 L134.05 175.22 L134.30 175.82 L134.55 174.75 L134.80 175.15 L135.05 173.64 L135.30 175.88 L135.55 176.06 L135.80 172.67 L136.05 174.03 L136.30 174.29 L136.55 175.25 L136.80 173.87 L137.05 174.79 L137.30 174.80 L137.55 176.94 L137.80 174.74 L138.05 175.77 L138.30 174.44 L138.55 175.89 L138.80 173.55 L139.05 173.33 L139.30 173.01 L139.55 172.31 L139.80 173.76 L140.05 174.60 L140.30 171.92 L140.55 172.93 L140.80 173.03 L141.05 170.95 L141.30 171.25 L141.55 172.14 L141.80 172.07 L142.05 171.11 L142.30 173.42 L142.55 173.41 L142.80 170.51 L143.05 172.23 L143.30 173.54 L143.55 171.65 L143.80 173.16 L144.05 171.59 L144.30 170.30 L144.55 172.04 L144.80 169.03 L145.05 170.72 L145.30 171.74 L145.55 172.28 L145.80 171.92 L146.05 171.53 L146.30 170.14 L146.55 170.09 L146.80 170.95 L147.05 170.65 L147.30 169.71 L147.55 167.96 L147.80 169.75 L148.05 170.26 L148.30 171.47 L148.55 171.57 L148.80 172.38 L149.05 171.29 L149.30 169.77 L149.55 170.00 L149.80 169.31 L150.05 168.41 L150.30 167.96 L150.55 170.58 L150.80 169.61 L151.05 167.44 L151.30 169.66 L151.55 168.87 L151.80 168.81 L152.05 169.85 L152.30 167.65 L152.55 168.36 L152.80 166.59 L153.05 168.49 L153.30 167.72 L153.55 168.97 L153.80 167.52 L154.05 169.29 L154.30 170.17 L154.55 168.43 L154.80 167.95 L155.05 168.78 L155.30 167.72 L155.55 167.54 L155.80 168.75 L156.05 167.54 L156.30 167.86 L156.55 166.39 L156.80 168.15 L157.05 167.75 L157.30 168.71 L157.55 169.18 L157.80 168.30 L158.05 166.14 L158.30 167.84 L158.55 165.96 L158.80 167.05 L159.05 170.44 L159.30 167.01 L159.55 166.12 L159.80 166.65 L160.05 166.89 L160.30 167.92 L160.55 166.67 L160.80 166.41 L161.05 166.64 L161.30 166.77 L161.55 166.18 L161.80 165.42 L162.05 165.42 L162.30 164.80 L162.55 165.18 L162.80 167.76 L163.05 165.89 L163.30 165.46" fill="none" stroke="#5ec2ae" stroke-width="0.35" stroke-opacity="0.55" stroke-linejoin="round"/>
<path d="M32.60 236.00 L33.10 225.22 L33.60 218.98 L34.10 216.27 L34.60 215.04 L35.10 213.66 L35.60 212.15 L36.10 210.90 L36.60 209.84 L37.10 208.91 L37.60 208.04 L38.10 207.18 L38.60 206.29 L39.10 205.44 L39.60 204.61 L40.10 203.81 L40.60 203.04 L41.10 202.29 L41.60 201.56 L42.10 200.86 L42.60 200.18 L43.10 199.51 L43.60 198.87 L44.10 198.24 L44.60 197.62 L45.10 197.02 L45.60 196.43 L46.10 195.85 L46.60 195.27 L47.10 194.72 L47.60 194.20 L48.10 193.69 L48.60 193.20 L49.10 192.73 L49.60 192.28 L50.10 191.84 L50.60 191.42 L51.10 191.00 L51.60 190.59 L52.10 190.19 L52.60 189.79 L53.10 189.40 L53.60 189.01 L54.10 188.62 L54.60 188.22 L55.10 187.83 L55.60 187.45 L56.10 187.08 L56.60 186.72 L57.10 186.36 L57.60 186.01 L58.10 185.66 L58.60 185.32 L59.10 184.98 L59.60 184.65 L60.10 184.32 L60.60 183.99 L61.10 183.66 L61.60 183.33 L62.10 183.00 L62.60 182.67 L63.10 182.34 L63.60 182.01 L64.10 181.69 L64.60 181.37 L65.10 181.05 L65.60 180.73 L66.10 180.42 L66.60 180.11 L67.10 179.79 L67.60 179.48 L68.10 179.17 L68.60 178.86 L69.10 178.55 L69.60 178.23 L70.10 177.91 L70.60 177.59 L71.10 177.27 L71.60 176.94 L72.10 176.62 L72.60 176.29 L73.10 175.96 L73.60 175.62 L74.10 175.29 L74.60 174.95 L75.10 174.62 L75.60 174.29 L76.10 173.95 L76.60 173.62 L77.10 173.29 L77.60 172.97 L78.10 172.64 L78.60 172.32 L79.10 172.00 L79.60 171.68 L80.10 171.37 L80.60 171.05 L81.10 170.74 L81.60 170.43 L82.10 170.12 L82.60 169.81 L83.10 169.50 L83.60 169.20 L84.10 168.90 L84.60 168.59 L85.10 168.30 L85.60 168.00 L86.10 167.70 L86.60 167.41 L87.10 167.12 L87.60 166.83 L88.10 166.54 L88.60 166.26 L89.10 165.97 L89.60 165.69 L90.10 165.41 L90.60 165.14 L91.10 164.86 L91.60 164.59 L92.10 164.32 L92.60 164.05 L93.10 163.78 L93.60 163.51 L94.10 163.24 L94.60 162.98 L95.10 162.71 L95.60 162.45 L96.10 162.18 L96.60 161.91 L97.10 161.63 L97.60 161.36 L98.10 161.08 L98.60 160.80 L99.10 160.53 L99.60 160.25 L100.10 159.98 L100.60 159.71 L101.10 159.44 L101.60 159.18 L102.10 158.93 L102.60 158.68 L103.10 158.44 L103.60 158.21 L104.10 157.99 L104.60 157.78 L105.10 157.58 L105.60 157.40 L106.10 157.26 L106.60 157.15 L107.10 157.05 M107.30 157.00 L107.80 162.92 L108.30 168.41 L108.80 171.70 L109.30 173.42 L109.80 174.26 L110.30 174.76 L110.80 175.37 L111.30 175.89 L111.80 176.28 L112.30 176.57 L112.80 176.77 L113.30 176.89 L113.80 176.96 L114.30 176.99 L114.80 177.00 L115.30 177.00 L115.80 177.00 L116.30 177.00 L116.80 177.00 L117.30 177.00 L117.80 177.00 L118.30 177.00 L118.80 177.00 L119.30 177.00 L119.80 177.00 L120.30 177.00 L120.80 177.00 L121.30 177.00 L121.80 177.00 L122.30 177.00 L122.80 177.00 L123.30 177.00 L123.80 177.00 L124.30 177.00 L124.80 177.00 L125.30 177.00 L125.80 177.00 L126.30 177.00 L126.80 177.00 L127.30 177.00 L127.80 177.00 L128.30 177.00 L128.80 177.00 L129.30 177.00 L129.80 177.00 L130.30 177.00 L130.80 177.00 L131.30 177.00 L131.80 177.00 L132.30 177.00 L132.80 177.00 L133.30 177.00 L133.80 177.00 L134.30 177.00 L134.80 177.00 L135.30 177.00 L135.80 177.00 L136.30 177.00 L136.80 177.00 L137.30 177.00 L137.80 177.00 L138.30 177.00 L138.80 177.00 L139.30 177.00 L139.80 177.00 L140.30 177.00 L140.80 177.00 L141.30 177.00 L141.80 177.00 L142.30 177.00 L142.80 177.00 L143.30 177.00 L143.80 177.00" fill="none" stroke="#f07070" stroke-width="0.45" stroke-opacity="0.50"/>
<line x1="107.30" y1="151.5" x2="107.30" y2="236.7" stroke="#f5aab6" stroke-width="0.8"/>
<text x="41.6" y="275.1" class="cap" textLength="100.3" lengthAdjust="spacingAndGlyphs">Sequence 4 (6 to 75)</text>
<path d="M180.6 146.3H353.0M180.6 146.3V257.3M180.6 257.3H353.0" fill="none" stroke="#dcdcdc" stroke-width="0.7"/>
<path d="M353.0 146.3V257.3" fill="none" stroke="#f3f3f3" stroke-width="0.7"/>
<rect x="210.9" y="150.20" width="133.2" height="14.00" fill="#f7f7f7"/>
<rect x="210.9" y="176.30" width="133.2" height="11.70" fill="#f7f7f7"/>
<rect x="210.9" y="199.70" width="133.2" height="11.70" fill="#f7f7f7"/>
<rect x="210.9" y="224.00" width="133.2" height="12.90" fill="#f7f7f7"/>
<line x1="222.80" y1="150.2" x2="222.80" y2="236.9" stroke="#f0f0f0" stroke-width="0.4"/>
<line x1="238.10" y1="150.2" x2="238.10" y2="236.9" stroke="#f0f0f0" stroke-width="0.4"/>
<line x1="253.40" y1="150.2" x2="253.40" y2="236.9" stroke="#f0f0f0" stroke-width="0.4"/>
<line x1="268.70" y1="150.2" x2="268.70" y2="236.9" stroke="#f0f0f0" stroke-width="0.4"/>
<line x1="284.00" y1="150.2" x2="284.00" y2="236.9" stroke="#f0f0f0" stroke-width="0.4"/>
<line x1="299.30" y1="150.2" x2="299.30" y2="236.9" stroke="#f0f0f0" stroke-width="0.4"/>
<line x1="314.60" y1="150.2" x2="314.60" y2="236.9" stroke="#f0f0f0" stroke-width="0.4"/>
<line x1="329.90" y1="150.2" x2="329.90" y2="236.9" stroke="#f0f0f0" stroke-width="0.4"/>
<line x1="345.20" y1="150.2" x2="345.20" y2="236.9" stroke="#f0f0f0" stroke-width="0.4"/>
<line x1="210.9" y1="236.90" x2="344.1" y2="236.90" stroke="#d9d9d9" stroke-width="0.5"/>
<text x="209.1" y="154.32" text-anchor="end" class="t">0.035</text>
<text x="209.1" y="166.03" text-anchor="end" class="t">0.03</text>
<text x="209.1" y="177.74" text-anchor="end" class="t">0.025</text>
<text x="209.1" y="189.46" text-anchor="end" class="t">0.02</text>
<text x="209.1" y="201.17" text-anchor="end" class="t">0.015</text>
<text x="209.1" y="212.89" text-anchor="end" class="t">0.01</text>
<text x="209.1" y="224.60" text-anchor="end" class="t">0.005</text>
<text x="209.1" y="236.32" text-anchor="end" class="t">0</text>
<text x="222.80" y="244.72" text-anchor="middle" class="t">100</text>
<text x="238.10" y="244.72" text-anchor="middle" class="t">200</text>
<text x="253.40" y="244.72" text-anchor="middle" class="t">300</text>
<text x="268.70" y="244.72" text-anchor="middle" class="t">400</text>
<text x="284.00" y="244.72" text-anchor="middle" class="t">500</text>
<text x="299.30" y="244.72" text-anchor="middle" class="t">600</text>
<text x="314.60" y="244.72" text-anchor="middle" class="t">700</text>
<text x="329.90" y="244.72" text-anchor="middle" class="t">800</text>
<text x="345.20" y="244.72" text-anchor="middle" class="t">900</text>
<text x="273.25" y="254.17" class="ti" textLength="22.3" lengthAdjust="spacingAndGlyphs">Time (s)</text>
<text transform="translate(189.50 206.00) rotate(-90)" x="-26.3" y="2.27" class="ti" textLength="52.6" lengthAdjust="spacingAndGlyphs">Spectral Shift (nm)</text>
<path d="M210.90 210.53 L211.07 204.32 L211.24 202.57 L211.41 202.09 L211.58 200.84 L211.75 197.18 L211.92 194.55 L212.09 195.03 L212.26 197.11 L212.43 194.70 L212.60 198.91 L212.77 193.65 L212.94 192.27 L213.11 195.45 L213.28 192.98 L213.45 195.23 L213.62 195.55 L213.79 193.97 L213.96 193.47 L214.13 195.81 L214.30 194.75 L214.47 192.60 L214.64 190.85 L214.81 190.71 L214.98 193.57 L215.15 194.12 L215.32 188.80 L215.49 189.00 L215.66 186.89 L215.83 194.24 L216.00 188.21 L216.17 191.97 L216.34 195.12 L216.51 187.20 L216.68 192.60 L216.85 192.32 L217.02 192.78 L217.19 186.52 L217.36 184.59 L217.53 192.19 L217.70 187.95 L217.87 183.22 L218.04 190.29 L218.21 192.81 L218.38 186.73 L218.55 190.98 L218.72 186.80 L218.89 193.51 L219.06 188.74 L219.23 184.49 L219.40 185.26 L219.57 187.31 L219.74 181.90 L219.91 189.37 L220.08 183.17 L220.25 188.50 L220.42 189.94 L220.59 188.59 L220.76 186.33 L220.93 185.56 L221.10 184.95 L221.27 194.01 L221.44 187.45 L221.61 188.82 L221.78 186.21 L221.95 188.26 L222.12 186.50 L222.29 182.95 L222.46 187.80 L222.63 187.42 L222.80 185.93 L222.97 184.28 L223.14 187.24 L223.31 186.32 L223.48 184.35 L223.65 185.64 L223.82 188.30 L223.99 188.29 L224.16 185.59 L224.33 184.04 L224.50 181.91 L224.67 184.38 L224.84 186.29 L225.01 186.75 L225.18 178.48 L225.35 179.08 L225.52 187.91 L225.69 186.16 L225.86 186.00 L226.03 183.73 L226.20 186.96 L226.37 186.85 L226.54 180.36 L226.71 181.42 L226.88 186.39 L227.05 184.56 L227.22 188.25 L227.39 179.13 L227.56 187.09 L227.73 181.64 L227.90 181.14 L228.07 180.73 L228.24 181.90 L228.41 181.61 L228.58 181.50 L228.75 181.07 L228.92 183.19 L229.09 181.23 L229.26 180.86 L229.43 181.08 L229.60 181.65 L229.77 181.73 L229.94 185.89 L230.11 180.71 L230.28 184.25 L230.45 180.59 L230.62 178.97 L230.79 182.90 L230.96 180.60 L231.13 182.45 L231.30 177.01 L231.47 178.33 L231.64 181.33 L231.81 182.37 L231.98 180.62 L232.15 178.91 L232.32 184.21 L232.49 178.24 L232.66 182.69 L232.83 178.44 L233.00 185.07 L233.17 180.53 L233.34 180.46 L233.51 177.52 L233.68 184.08 L233.85 181.59 L234.02 180.95 L234.19 180.29 L234.36 180.36 L234.53 178.40 L234.70 178.13 L234.87 183.29 L235.04 175.27 L235.21 183.81 L235.38 175.13 L235.55 179.86 L235.72 179.54 L235.89 180.10 L236.06 180.49 L236.23 184.59 L236.40 181.73 L236.57 176.28 L236.74 178.52 L236.91 179.06 L237.08 177.20 L237.25 181.66 L237.42 178.98 L237.59 189.49 L237.76 185.69 L237.93 178.31 L238.10 172.13 L238.27 176.76 L238.44 180.69 L238.61 175.71 L238.78 177.66 L238.95 175.96 L239.12 179.64 L239.29 176.69 L239.46 179.09 L239.63 180.49 L239.80 174.96 L239.97 184.31 L240.14 180.94 L240.31 178.84 L240.48 177.58 L240.65 181.79 L240.82 176.46 L240.99 179.54 L241.16 176.50 L241.33 178.95 L241.50 178.05 L241.67 178.39 L241.84 179.29 L242.01 179.85 L242.18 180.62 L242.35 179.86 L242.52 175.12 L242.69 174.74 L242.86 181.16 L243.03 176.96 L243.20 175.43 L243.37 175.59 L243.54 177.20 L243.71 176.80 L243.88 179.81 L244.05 177.17 L244.22 170.83 L244.39 175.39 L244.56 179.29 L244.73 170.91 L244.90 184.10 L245.07 178.45 L245.24 177.57 L245.41 176.25 L245.58 178.51 L245.75 173.95 L245.92 173.47 L246.09 177.70 L246.26 178.81 L246.43 176.31 L246.60 177.22 L246.77 173.86 L246.94 178.00 L247.11 177.35 L247.28 175.62 L247.45 178.37 L247.62 174.09 L247.79 177.09 L247.96 175.73 L248.13 171.78 L248.30 179.13 L248.47 178.65 L248.64 178.17 L248.81 169.39 L248.98 179.16 L249.15 175.21 L249.32 171.85 L249.49 181.05 L249.66 173.77 L249.83 176.53 L250.00 172.11 L250.17 179.74 L250.34 177.92 L250.51 175.97 L250.68 172.91 L250.85 175.20 L251.02 173.24 L251.19 173.11 L251.36 177.22 L251.53 176.58 L251.70 174.72 L251.87 182.49 L252.04 175.83 L252.21 174.85 L252.38 177.12 L252.55 173.05 L252.72 175.24 L252.89 178.14 L253.06 172.25 L253.23 175.51 L253.40 175.96 L253.57 172.61 L253.74 175.76 L253.91 175.61 L254.08 173.62 L254.25 176.93 L254.42 175.62 L254.59 173.07 L254.76 174.09 L254.93 173.91 L255.10 178.30 L255.27 169.60 L255.44 176.22 L255.61 176.95 L255.78 170.42 L255.95 170.56 L256.12 172.03 L256.29 172.87 L256.46 171.34 L256.63 175.03 L256.80 173.20 L256.97 175.07 L257.14 174.80 L257.31 171.23 L257.48 175.80 L257.65 173.49 L257.82 172.73 L257.99 178.12 L258.16 174.97 L258.33 172.03 L258.50 172.72 L258.67 175.39 L258.84 172.52 L259.01 175.49 L259.18 172.40 L259.35 174.46 L259.52 174.92 L259.69 173.69 L259.86 174.44 L260.03 172.61 L260.20 173.45 L260.37 173.83 L260.54 176.19 L260.71 172.43 L260.88 172.83 L261.05 174.04 L261.22 171.86 L261.39 169.25 L261.56 170.57 L261.73 172.88 L261.90 168.48 L262.07 171.37 L262.24 170.05 L262.41 175.32 L262.58 170.93 L262.75 170.36 L262.92 172.48 L263.09 172.32 L263.26 169.91 L263.43 174.12 L263.60 173.29 L263.77 170.99 L263.94 171.64 L264.11 170.68 L264.28 170.37 L264.45 168.88 L264.62 173.60 L264.79 173.05 L264.96 170.31 L265.13 169.68 L265.30 171.06 L265.47 172.82 L265.64 172.56 L265.81 169.32 L265.98 170.88 L266.15 169.50 L266.32 171.58 L266.49 171.56 L266.66 171.52 L266.83 170.54 L267.00 169.90 L267.17 170.84 L267.34 167.11 L267.51 169.93 L267.68 173.59 L267.85 169.00 L268.02 168.93 L268.19 168.81 L268.36 168.18 L268.53 165.25 L268.70 169.08 L268.87 168.81 L269.04 170.17 L269.21 170.10 L269.38 170.88 L269.55 167.84 L269.72 168.20 L269.89 169.06 L270.06 168.29 L270.23 167.41 L270.40 168.63 L270.57 170.16 L270.74 173.61 L270.91 168.69 L271.08 173.59 L271.25 171.61 L271.42 166.24 L271.59 165.13 L271.76 165.06 L271.93 167.71 L272.10 165.99 L272.27 166.24 L272.44 164.59 L272.61 172.50 L272.78 165.92 L272.95 168.77 L273.12 164.82 L273.29 168.67 L273.46 163.07 L273.63 162.11 L273.80 166.41 L273.97 167.86 L274.14 165.69 L274.31 168.16 L274.48 169.70 L274.65 170.17 L274.82 165.28 L274.99 168.01 L275.16 163.10 L275.33 168.12 L275.50 164.91 L275.67 168.03 L275.84 165.11 L276.01 166.92 L276.18 161.54 L276.35 168.65 L276.52 164.92 L276.69 168.44 L276.86 168.93 L277.03 166.02 L277.20 166.68 L277.37 168.36 L277.54 170.93 L277.71 166.51 L277.88 167.99 L278.05 168.16 L278.22 164.92 L278.39 167.33 L278.56 168.08 L278.73 168.10 L278.90 165.66 L279.07 166.90 L279.24 163.03 L279.41 165.79 L279.58 166.19 L279.75 166.03 L279.92 168.88 L280.09 162.91 L280.26 159.90 L280.43 165.18 L280.60 164.69 L280.77 163.34 L280.94 167.08 L281.11 165.09 L281.28 167.50 L281.45 169.44 L281.62 163.95 L281.79 156.92 L281.96 165.61 L282.13 161.80 L282.30 166.63 L282.47 165.35 L282.64 164.70 L282.81 169.91 L282.98 163.82 L283.15 164.57 L283.32 164.83 L283.49 163.94 L283.66 163.63 L283.83 162.73 L284.00 164.34 L284.17 166.13 L284.34 161.67 L284.51 164.00 L284.68 161.43 L284.85 160.97 L285.02 162.80 L285.19 166.48 L285.36 166.80 L285.53 164.52 L285.70 163.18 L285.87 163.87 L286.04 166.66 L286.21 165.21 L286.38 166.23 L286.55 163.30 L286.72 166.54 L286.89 162.48 L287.06 165.62 L287.23 165.61 L287.40 168.95 L287.57 161.48 L287.74 161.00 L287.91 164.10 L288.08 161.35 L288.25 163.92 L288.42 162.00 L288.59 161.93 L288.76 163.40 L288.93 163.79 L289.10 162.99 L289.27 160.30 L289.44 167.90 L289.61 166.13 L289.78 164.69 L289.95 159.85 L290.12 165.54 L290.29 159.62 L290.46 158.52 L290.63 163.57 L290.80 160.89 L290.97 161.87 L291.14 164.99 L291.31 164.85 L291.48 167.25 L291.65 160.52 L291.82 158.54 L291.99 164.99 L292.16 163.73 L292.33 161.23 L292.50 160.04 L292.67 161.96 L292.84 166.96 L293.01 164.52 L293.18 165.26 L293.35 166.37 L293.52 159.43 L293.69 159.51 L293.86 158.47 L294.03 161.31 L294.20 159.13 L294.37 158.70 L294.54 159.47 L294.71 162.18 L294.88 162.97 L295.05 162.61 L295.22 159.81 L295.39 157.83 L295.56 160.03 L295.73 155.39 L295.90 161.53 L296.07 164.41 L296.24 162.14 L296.41 160.03 L296.58 166.65 L296.75 161.77 L296.92 164.27 L297.09 164.29 L297.26 160.77 L297.43 163.16 L297.60 164.87 L297.77 162.87 L297.94 160.54 L298.11 156.60 L298.28 164.59 L298.45 161.47 L298.62 160.33 L298.79 159.85 L298.96 159.29 L299.13 155.19 L299.30 163.19 L299.47 161.76 L299.64 163.51 M299.80 160.57 L299.97 156.56 L300.14 169.69 L300.31 167.74 L300.48 176.56 L300.65 173.96 L300.82 187.13 L300.99 191.51 L301.16 185.87 L301.33 187.39 L301.50 186.21 L301.67 186.76 L301.84 182.71 L302.01 175.90 L302.18 195.13 L302.35 187.08 L302.52 187.15 L302.69 195.91 L302.86 190.35 L303.03 192.31 L303.20 199.34 L303.37 188.41 L303.54 193.86 L303.71 197.37 L303.88 196.70 L304.05 194.60 L304.22 190.65 L304.39 195.59 L304.56 199.16 L304.73 195.02 L304.90 190.20 L305.07 193.97 L305.24 203.99 L305.41 199.90 L305.58 196.60 L305.75 202.48 L305.92 197.64 L306.09 197.60 L306.26 198.32 L306.43 200.49 L306.60 200.75 L306.77 203.03 L306.94 199.18 L307.11 197.07 L307.28 203.51 L307.45 201.56 L307.62 200.06 L307.79 198.51 L307.96 199.15 L308.13 201.18 L308.30 203.03 L308.47 201.93 L308.64 197.06 L308.81 204.58 L308.98 201.33 L309.15 200.63 L309.32 195.24 L309.49 200.88 L309.66 213.39 L309.83 200.58 L310.00 202.33 L310.17 202.59 L310.34 206.89 L310.51 201.55 L310.68 204.33 L310.85 205.63 L311.02 201.21 L311.19 198.50 L311.36 204.41 L311.53 199.78 L311.70 203.44 L311.87 202.02 L312.04 195.89 L312.21 212.87 L312.38 204.65 L312.55 208.09 L312.72 207.73 L312.89 203.28 L313.06 203.23 L313.23 202.72 L313.40 205.25 L313.57 203.91 L313.74 203.13 L313.91 207.56 L314.08 198.11 L314.25 205.49 L314.42 201.48 L314.59 205.35 L314.76 208.80 L314.93 202.22 L315.10 200.61 L315.27 200.74 L315.44 199.30 L315.61 207.55 L315.78 200.64 L315.95 206.78 L316.12 203.63 L316.29 207.41 L316.46 209.66 L316.63 204.87 L316.80 210.47 L316.97 197.30 L317.14 199.02 L317.31 208.78 L317.48 195.73 L317.65 210.17 L317.82 206.94 L317.99 202.44 L318.16 204.43 L318.33 210.03 L318.50 207.97 L318.67 205.93 L318.84 199.52 L319.01 204.78 L319.18 203.66 L319.35 199.34 L319.52 211.80 L319.69 213.15 L319.86 212.25 L320.03 211.90 L320.20 210.71 L320.37 213.45 L320.54 203.06 L320.71 213.70 L320.88 204.75 L321.05 204.24 L321.22 208.27 L321.39 208.52 L321.56 212.00 L321.73 210.09 L321.90 211.30 L322.07 209.70 L322.24 201.91 L322.41 207.74 L322.58 210.08 L322.75 206.95 L322.92 212.58 L323.09 216.47 L323.26 205.98 L323.43 209.27 L323.60 209.01 L323.77 207.39 L323.94 206.71 L324.11 212.55 L324.28 213.45 L324.45 211.89 L324.62 209.10 L324.79 210.16 L324.96 211.47 L325.13 210.20 L325.30 211.79 L325.47 210.50 L325.64 212.20 L325.81 208.58 L325.98 206.41 L326.15 213.41 L326.32 206.73 L326.49 204.75 L326.66 203.89 L326.83 203.14 L327.00 210.61 L327.17 204.35 L327.34 210.23 L327.51 210.69 L327.68 208.72 L327.85 212.22 L328.02 213.43 L328.19 212.97 L328.36 203.83 L328.53 211.28 L328.70 212.50 L328.87 211.46 L329.04 210.97 L329.21 213.55 L329.38 208.78 L329.55 211.11 L329.72 213.57 L329.89 209.71 L330.06 214.43 L330.23 212.30 L330.40 213.82 L330.57 213.14 L330.74 211.48 L330.91 209.60 L331.08 213.17 L331.25 212.61 L331.42 210.25 L331.59 207.99 L331.76 207.46 L331.93 207.35 L332.10 211.02 L332.27 210.62 L332.44 210.51 L332.61 209.96 L332.78 219.99 L332.95 209.68 L333.12 215.31 L333.29 207.67 L333.46 219.89 L333.63 212.52 L333.80 212.87 L333.97 209.36 L334.14 212.17 L334.31 211.85 L334.48 210.50 L334.65 211.74 L334.82 211.44 L334.99 207.20 L335.16 212.91 L335.33 214.91 L335.50 210.71 L335.67 213.29 L335.84 215.98 L336.01 215.60 L336.18 212.34 L336.35 217.67 L336.52 209.35 L336.69 209.95 L336.86 211.85 L337.03 216.02 L337.20 221.37 L337.37 206.52 L337.54 212.39 L337.71 210.60 L337.88 214.73 L338.05 207.76 L338.22 212.93 L338.39 214.41 L338.56 212.49 L338.73 211.59 L338.90 219.34 L339.07 211.76 L339.24 213.92 L339.41 214.74 L339.58 212.02 L339.75 217.71 L339.92 210.29 L340.09 214.92 L340.26 211.39 L340.43 216.67 L340.60 212.23 L340.77 213.04 L340.94 218.59 L341.11 213.44 L341.28 214.50 L341.45 220.49 L341.62 214.24 L341.79 213.38 L341.96 212.88 L342.13 216.63 L342.30 218.72 L342.47 214.57 L342.64 218.70 L342.81 218.03 L342.98 217.74 L343.15 220.84 L343.32 219.98 L343.49 218.70" fill="none" stroke="#4472c4" stroke-width="0.25" stroke-opacity="0.60" stroke-linejoin="round"/>
<path d="M210.90 199.00 L211.40 198.14 L211.90 197.24 L212.40 196.31 L212.90 195.39 L213.40 194.47 L213.90 193.59 L214.40 192.77 L214.90 192.01 L215.40 191.35 L215.90 190.79 L216.40 190.29 L216.90 189.83 L217.40 189.42 L217.90 189.05 L218.40 188.71 L218.90 188.41 L219.40 188.13 L219.90 187.88 L220.40 187.66 L220.90 187.45 L221.40 187.26 L221.90 187.08 L222.40 186.92 L222.90 186.76 L223.40 186.60 L223.90 186.44 L224.40 186.28 L224.90 186.12 L225.40 185.94 L225.90 185.75 L226.40 185.54 L226.90 185.33 L227.40 185.11 L227.90 184.90 L228.40 184.69 L228.90 184.49 L229.40 184.29 L229.90 184.09 L230.40 183.90 L230.90 183.71 L231.40 183.52 L231.90 183.33 L232.40 183.14 L232.90 182.96 L233.40 182.78 L233.90 182.60 L234.40 182.42 L234.90 182.24 L235.40 182.07 L235.90 181.89 L236.40 181.72 L236.90 181.55 L237.40 181.38 L237.90 181.20 L238.40 181.03 L238.90 180.86 L239.40 180.69 L239.90 180.52 L240.40 180.34 L240.90 180.17 L241.40 180.00 L241.90 179.82 L242.40 179.65 L242.90 179.47 L243.40 179.29 L243.90 179.11 L244.40 178.93 L244.90 178.75 L245.40 178.56 L245.90 178.38 L246.40 178.19 L246.90 178.00 L247.40 177.81 L247.90 177.62 L248.40 177.43 L248.90 177.23 L249.40 177.04 L249.90 176.85 L250.40 176.65 L250.90 176.46 L251.40 176.26 L251.90 176.07 L252.40 175.87 L252.90 175.67 L253.40 175.48 L253.90 175.28 L254.40 175.09 L254.90 174.89 L255.40 174.70 L255.90 174.50 L256.40 174.31 L256.90 174.11 L257.40 173.92 L257.90 173.73 L258.40 173.53 L258.90 173.34 L259.40 173.15 L259.90 172.96 L260.40 172.78 L260.90 172.59 L261.40 172.40 L261.90 172.22 L262.40 172.04 L262.90 171.86 L263.40 171.68 L263.90 171.50 L264.40 171.32 L264.90 171.15 L265.40 170.97 L265.90 170.80 L266.40 170.63 L266.90 170.47 L267.40 170.30 L267.90 170.14 L268.40 169.97 L268.90 169.81 L269.40 169.65 L269.90 169.49 L270.40 169.33 L270.90 169.17 L271.40 169.02 L271.90 168.86 L272.40 168.71 L272.90 168.55 L273.40 168.40 L273.90 168.25 L274.40 168.10 L274.90 167.95 L275.40 167.81 L275.90 167.66 L276.40 167.51 L276.90 167.37 L277.40 167.23 L277.90 167.09 L278.40 166.95 L278.90 166.81 L279.40 166.67 L279.90 166.54 L280.40 166.41 L280.90 166.27 L281.40 166.14 L281.90 166.01 L282.40 165.88 L282.90 165.76 L283.40 165.63 L283.90 165.51 L284.40 165.39 L284.90 165.27 L285.40 165.15 L285.90 165.03 L286.40 164.92 L286.90 164.81 L287.40 164.70 L287.90 164.59 L288.40 164.49 L288.90 164.39 L289.40 164.30 L289.90 164.20 L290.40 164.11 L290.90 164.02 L291.40 163.93 L291.90 163.84 L292.40 163.76 L292.90 163.67 L293.40 163.59 L293.90 163.51 L294.40 163.42 L294.90 163.34 L295.40 163.26 L295.90 163.17 L296.40 163.09 L296.90 163.01 L297.40 162.92 L297.90 162.84 L298.40 162.75 L298.90 162.66 L299.40 162.57 M299.80 162.50 L300.30 171.39 L300.80 179.63 L301.30 184.77 L301.80 188.53 L302.30 191.36 L302.80 193.43 L303.30 194.91 L303.80 195.96 L304.30 196.75 L304.80 197.45 L305.30 198.22 L305.80 199.22 L306.30 200.20 L306.80 201.01 L307.30 201.68 L307.80 202.21 L308.30 202.64 L308.80 202.97 L309.30 203.24 L309.80 203.45 L310.30 203.63 L310.80 203.80 L311.30 203.98 L311.80 204.19 L312.30 204.44 L312.80 204.73 L313.30 205.01 L313.80 205.28 L314.30 205.53 L314.80 205.77 L315.30 206.00 L315.80 206.22 L316.30 206.43 L316.80 206.63 L317.30 206.82 L317.80 207.00 L318.30 207.18 L318.80 207.34 L319.30 207.51 L319.80 207.67 L320.30 207.82 L320.80 207.97 L321.30 208.12 L321.80 208.26 L322.30 208.40 L322.80 208.54 L323.30 208.68 L323.80 208.82 L324.30 208.96 L324.80 209.11 L325.30 209.25 L325.80 209.40 L326.30 209.55 L326.80 209.69 L327.30 209.83 L327.80 209.97 L328.30 210.10 L328.80 210.23 L329.30 210.36 L329.80 210.49 L330.30 210.61 L330.80 210.73 L331.30 210.85 L331.80 210.97 L332.30 211.08 L332.80 211.19 L333.30 211.30 L333.80 211.41 L334.30 211.52 L334.80 211.63 L335.30 211.74 L335.80 211.84 L336.30 211.95 L336.80 212.05 L337.30 212.16 L337.80 212.26 L338.30 212.37 L338.80 212.47 L339.30 212.58 L339.80 212.68 L340.30 212.79 L340.80 212.90 L341.30 213.01 L341.80 213.12 L342.30 213.23 L342.80 213.34 L343.30 213.45" fill="none" stroke="#f07070" stroke-width="0.45" stroke-opacity="0.60"/>
<line x1="299.80" y1="150.2" x2="299.80" y2="236.9" stroke="#f5aab6" stroke-width="0.8"/>
<text x="213.6" y="273.3" class="cap" textLength="105.6" lengthAdjust="spacingAndGlyphs">Sequence 5 (21 to 80)</text>
<path d="M358.8 147.0H536.5M358.8 147.0V259.6M358.8 259.6H536.5" fill="none" stroke="#dcdcdc" stroke-width="0.7"/>
<path d="M536.5 147.0V259.6" fill="none" stroke="#f3f3f3" stroke-width="0.7"/>
<rect x="389.6" y="163.70" width="135.9" height="12.30" fill="#f7f7f7"/>
<rect x="389.6" y="187.80" width="135.9" height="11.80" fill="#f7f7f7"/>
<rect x="389.6" y="212.00" width="135.9" height="12.00" fill="#f7f7f7"/>
<line x1="421.60" y1="157.5" x2="421.60" y2="236.4" stroke="#f0f0f0" stroke-width="0.4"/>
<line x1="444.60" y1="157.5" x2="444.60" y2="236.4" stroke="#f0f0f0" stroke-width="0.4"/>
<line x1="467.60" y1="157.5" x2="467.60" y2="236.4" stroke="#f0f0f0" stroke-width="0.4"/>
<line x1="490.60" y1="157.5" x2="490.60" y2="236.4" stroke="#f0f0f0" stroke-width="0.4"/>
<line x1="513.60" y1="157.5" x2="513.60" y2="236.4" stroke="#f0f0f0" stroke-width="0.4"/>
<line x1="389.6" y1="236.40" x2="525.5" y2="236.40" stroke="#d9d9d9" stroke-width="0.5"/>
<text x="386.7" y="162.02" text-anchor="end" class="t">0.25</text>
<text x="386.7" y="177.02" text-anchor="end" class="t">0.2</text>
<text x="386.7" y="192.02" text-anchor="end" class="t">0.15</text>
<text x="386.7" y="207.02" text-anchor="end" class="t">0.1</text>
<text x="386.7" y="222.02" text-anchor="end" class="t">0.05</text>
<text x="386.7" y="237.02" text-anchor="end" class="t">0</text>
<text x="398.60" y="245.12" text-anchor="middle" class="t">50</text>
<text x="421.60" y="245.12" text-anchor="middle" class="t">150</text>
<text x="444.60" y="245.12" text-anchor="middle" class="t">250</text>
<text x="467.60" y="245.12" text-anchor="middle" class="t">350</text>
<text x="490.60" y="245.12" text-anchor="middle" class="t">450</text>
<text x="513.60" y="245.12" text-anchor="middle" class="t">550</text>
<text x="450.45" y="254.27" class="ti" textLength="22.3" lengthAdjust="spacingAndGlyphs">Time (s)</text>
<text transform="translate(367.10 206.00) rotate(-90)" x="-26.3" y="2.27" class="ti" textLength="52.6" lengthAdjust="spacingAndGlyphs">Spectral Shift (nm)</text>
<path d="M390.00 187.42 L390.17 183.78 L390.34 178.58 L390.51 183.79 L390.68 181.48 L390.85 184.99 L391.02 182.15 L391.19 188.40 L391.36 183.58 L391.53 181.44 L391.70 187.97 L391.87 187.85 L392.04 186.08 L392.21 187.52 L392.38 182.28 L392.55 189.52 L392.72 188.49 L392.89 187.03 L393.06 191.22 L393.23 187.45 L393.40 185.26 L393.57 185.56 L393.74 187.42 L393.91 186.66 L394.08 189.25 L394.25 177.05 L394.42 191.63 L394.59 182.43 L394.76 182.77 L394.93 184.56 L395.10 184.67 L395.27 185.41 L395.44 187.41 L395.61 186.15 L395.78 185.07 L395.95 179.73 L396.12 185.85 L396.29 188.92 L396.46 185.45 L396.63 186.27 L396.80 183.38 L396.97 187.18 L397.14 180.93 L397.31 181.31 L397.48 182.47 L397.65 179.98 L397.82 180.32 L397.99 180.88 L398.16 184.15 L398.33 183.43 L398.50 178.13 L398.67 176.60 L398.84 181.10 L399.01 182.71 L399.18 176.28 L399.35 176.69 L399.52 179.23 L399.69 178.47 L399.86 180.75 L400.03 175.18 L400.20 180.54 L400.37 177.69 L400.54 183.11 L400.71 175.19 L400.88 183.12 L401.05 184.44 L401.22 179.90 L401.39 180.65 L401.56 176.66 L401.73 182.41 L401.90 180.00 L402.07 179.77 L402.24 179.04 L402.41 182.91 L402.58 174.92 L402.75 179.52 L402.92 173.25 L403.09 180.78 L403.26 181.04 L403.43 180.47 L403.60 185.79 L403.77 180.32 L403.94 175.03 L404.11 179.27 L404.28 178.47 L404.45 173.93 L404.62 177.43 L404.79 179.00 L404.96 177.18 L405.13 182.49 L405.30 179.52 L405.47 178.72 L405.64 178.77 L405.81 179.33 L405.98 177.16 L406.15 178.93 L406.32 179.22 L406.49 179.00 L406.66 180.00 L406.83 175.83 L407.00 176.72 L407.17 180.17 L407.34 178.44 L407.51 178.43 L407.68 178.03 L407.85 174.86 L408.02 169.17 L408.19 178.41 L408.36 176.11 L408.53 178.16 L408.70 177.68 L408.87 179.06 L409.04 176.15 L409.21 176.23 L409.38 181.49 L409.55 172.45 L409.72 177.01 L409.89 174.22 L410.06 174.46 L410.23 177.93 L410.40 178.08 L410.57 174.30 L410.74 175.72 L410.91 173.63 L411.08 179.67 L411.25 175.15 L411.42 175.24 L411.59 179.03 L411.76 177.30 L411.93 177.46 L412.10 172.14 L412.27 179.02 L412.44 178.73 L412.61 179.41 L412.78 174.14 L412.95 173.85 L413.12 172.15 L413.29 174.99 L413.46 175.48 L413.63 172.84 L413.80 170.21 L413.97 175.34 L414.14 174.76 L414.31 174.20 L414.48 171.12 L414.65 174.21 L414.82 172.13 L414.99 176.80 L415.16 176.69 L415.33 170.67 L415.50 171.96 L415.67 172.40 L415.84 169.87 L416.01 172.38 L416.18 171.71 L416.35 170.97 L416.52 176.26 L416.69 171.24 L416.86 175.55 L417.03 172.79 L417.20 170.89 L417.37 172.30 L417.54 172.28 L417.71 169.20 L417.88 172.04 L418.05 169.61 L418.22 168.90 L418.39 172.15 L418.56 171.66 L418.73 173.00 L418.90 172.05 L419.07 173.70 L419.24 174.62 L419.41 175.57 L419.58 170.83 L419.75 168.68 L419.92 170.48 L420.09 164.84 L420.26 170.13 L420.43 170.43 L420.60 175.05 L420.77 165.92 L420.94 168.28 L421.11 169.02 L421.28 166.34 L421.45 171.03 L421.62 166.59 L421.79 170.76 L421.96 171.57 L422.13 169.22 L422.30 169.24 L422.47 171.01 L422.64 164.47 L422.81 165.52 L422.98 168.06 L423.15 164.55 L423.32 168.05 L423.49 173.62 L423.66 171.29 L423.83 167.64 L424.00 169.70 L424.17 164.78 L424.34 162.66 L424.51 161.53 L424.68 168.45 L424.85 170.09 L425.02 166.70 L425.19 166.80 L425.36 169.73 L425.53 169.10 L425.70 169.40 L425.87 170.89 L426.04 161.91 L426.21 168.65 L426.38 166.87 L426.55 167.27 L426.72 166.00 L426.89 161.54 L427.06 165.84 L427.23 169.08 L427.40 170.95 L427.57 177.91 L427.74 165.69 L427.91 170.82 L428.08 165.90 L428.25 168.79 L428.42 167.28 L428.59 161.54 L428.76 170.59 L428.93 164.15 L429.10 164.48 L429.27 173.11 L429.44 168.35 L429.61 168.99 L429.78 170.08 L429.95 168.19 L430.12 164.19 L430.29 171.98 L430.46 171.15 L430.63 166.21 L430.80 165.10 L430.97 170.13 L431.14 166.04 L431.31 169.69 L431.48 165.81 L431.65 167.35 L431.82 164.28 L431.99 171.26 L432.16 167.80 L432.33 166.52 L432.50 166.76 L432.67 168.52 L432.84 169.18 L433.01 168.99 L433.18 168.33 L433.35 172.42 L433.52 169.83 L433.69 166.26 L433.86 168.38 L434.03 159.12 L434.20 168.79 L434.37 169.07 L434.54 169.92 L434.71 171.08 L434.88 164.72 L435.05 173.48 L435.22 170.15 L435.39 166.97 L435.56 168.25 L435.73 168.95 L435.90 171.72 L436.07 173.74 L436.24 167.47 L436.41 166.78 L436.58 169.85 L436.75 171.75 L436.92 171.88 L437.09 166.95 L437.26 174.23 L437.43 167.66 L437.60 170.52 L437.77 170.82 L437.94 174.30 L438.11 169.81 L438.28 174.37 L438.45 169.93 L438.62 166.02 L438.79 168.08 L438.96 175.65 L439.13 168.30 L439.30 168.52 L439.47 171.47 L439.64 171.21 L439.81 165.42 L439.98 168.32 L440.15 174.15 L440.32 173.00 L440.49 174.55 L440.66 171.23 L440.83 169.80 L441.00 172.95 L441.17 173.92 L441.34 168.06 L441.51 169.02 L441.68 170.68 L441.85 169.32 L442.02 172.48 L442.19 168.55 L442.36 170.15 L442.53 166.91 L442.70 170.36 L442.87 168.94 L443.04 166.73 L443.21 175.03 L443.38 167.78 L443.55 172.35 L443.72 165.88 L443.89 172.32 L444.06 169.65 L444.23 171.19 L444.40 170.63 L444.57 170.25 L444.74 170.97 L444.91 169.71 L445.08 176.86 L445.25 170.20 L445.42 180.16 L445.59 166.77 L445.76 171.98 L445.93 170.50 L446.10 166.22 L446.27 167.18 L446.44 168.28 L446.61 167.42 L446.78 172.90 L446.95 170.36 L447.12 171.35 L447.29 172.34 L447.46 168.79 L447.63 179.28 L447.80 166.64 L447.97 166.68 L448.14 169.29 L448.31 171.95 L448.48 169.82 L448.65 169.11 L448.82 171.38 L448.99 174.71 L449.16 176.01 L449.33 167.89 L449.50 174.64 L449.67 170.23 L449.84 173.89 L450.01 171.22 L450.18 170.68 L450.35 172.47 L450.52 171.13 L450.69 173.88 L450.86 171.89 L451.03 169.34 L451.20 169.20 L451.37 172.28 L451.54 170.59 L451.71 168.78 L451.88 175.29 L452.05 170.56 L452.22 172.35 L452.39 173.56 L452.56 169.20 L452.73 170.10 L452.90 167.67 L453.07 171.10 L453.24 173.08 L453.41 172.77 L453.58 167.99 L453.75 169.46 L453.92 173.08 L454.09 172.34 L454.26 168.79 L454.43 170.90 L454.60 172.50 L454.77 174.09 L454.94 171.23 L455.11 172.63 L455.28 170.36 L455.45 164.20 L455.62 171.21 L455.79 170.48 L455.96 166.05 L456.13 172.53 L456.30 159.72 L456.47 172.34 L456.64 173.42 L456.81 169.29 L456.98 168.52 L457.15 165.28 L457.32 167.99 L457.49 168.98 L457.66 163.13 M457.70 164.53 L457.87 164.49 L458.04 166.43 L458.21 169.29 L458.38 168.95 L458.55 169.40 L458.72 167.85 L458.89 172.72 L459.06 172.33 L459.23 171.34 L459.40 169.79 L459.57 169.15 L459.74 173.46 L459.91 173.44 L460.08 174.39 L460.25 177.16 L460.42 176.44 L460.59 168.84 L460.76 174.94 L460.93 175.11 L461.10 178.55 L461.27 169.75 L461.44 178.06 L461.61 177.47 L461.78 174.12 L461.95 173.00 L462.12 180.11 L462.29 181.80 L462.46 183.78 L462.63 179.92 L462.80 184.49 L462.97 184.11 L463.14 184.07 L463.31 181.73 L463.48 185.03 L463.65 186.71 L463.82 185.26 L463.99 185.93 L464.16 186.17 L464.33 184.53 L464.50 185.03 L464.67 192.28 L464.84 191.53 L465.01 191.89 L465.18 190.65 L465.35 192.47 L465.52 185.96 L465.69 179.16 L465.86 188.40 L466.03 191.97 L466.20 193.71 L466.37 191.18 L466.54 197.32 L466.71 193.36 L466.88 196.45 L467.05 192.91 L467.22 195.27 L467.39 195.38 L467.56 195.21 L467.73 198.88 L467.90 198.76 L468.07 200.08 L468.24 199.69 L468.41 198.93 L468.58 196.01 L468.75 204.08 L468.92 198.78 L469.09 199.77 L469.26 202.41 L469.43 199.08 L469.60 204.08 L469.77 206.76 L469.94 200.94 L470.11 203.66 L470.28 205.64 L470.45 201.69 L470.62 198.94 L470.79 206.33 L470.96 202.43 L471.13 200.76 L471.30 206.71 L471.47 204.40 L471.64 203.07 L471.81 204.24 L471.98 207.63 L472.15 206.05 L472.32 207.59 L472.49 204.31 L472.66 202.86 L472.83 214.35 L473.00 207.45 L473.17 207.02 L473.34 209.22 L473.51 206.80 L473.68 204.20 L473.85 203.27 L474.02 207.83 L474.19 209.53 L474.36 205.72 L474.53 209.55 L474.70 207.78 L474.87 212.66 L475.04 205.90 L475.21 210.54 L475.38 206.80 L475.55 207.73 L475.72 209.70 L475.89 206.08 L476.06 216.81 L476.23 210.88 L476.40 213.39 L476.57 203.02 L476.74 210.65 L476.91 206.56 L477.08 208.03 L477.25 208.45 L477.42 205.00 L477.59 210.74 L477.76 204.78 L477.93 205.18 L478.10 209.82 L478.27 210.66 L478.44 213.34 L478.61 212.51 L478.78 210.93 L478.95 209.30 L479.12 208.71 L479.29 208.94 L479.46 208.79 L479.63 207.19 L479.80 217.83 L479.97 208.00 L480.14 212.33 L480.31 205.20 L480.48 212.91 L480.65 216.10 L480.82 211.26 L480.99 213.53 L481.16 210.44 L481.33 217.22 L481.50 220.20 L481.67 210.09 L481.84 212.21 L482.01 213.96 L482.18 212.28 L482.35 208.96 L482.52 216.34 L482.69 211.22 L482.86 214.60 L483.03 212.61 L483.20 213.98 L483.37 215.85 L483.54 215.56 L483.71 210.76 L483.88 217.63 L484.05 215.65 L484.22 212.70 L484.39 211.43 L484.56 210.23 L484.73 214.08 L484.90 218.23 L485.07 205.03 L485.24 216.81 L485.41 218.48 L485.58 216.35 L485.75 213.11 L485.92 213.88 L486.09 215.36 L486.26 211.44 L486.43 211.52 L486.60 210.04 L486.77 213.64 L486.94 210.47 L487.11 214.13 L487.28 216.41 L487.45 219.41 L487.62 213.10 L487.79 214.41 L487.96 216.28 L488.13 213.65 L488.30 214.73 L488.47 218.47 L488.64 217.13 L488.81 213.97 L488.98 215.40 L489.15 215.14 L489.32 212.11 L489.49 217.65 L489.66 212.33 L489.83 217.50 L490.00 226.99 L490.17 206.33 L490.34 220.18 L490.51 215.00 L490.68 212.54 L490.85 217.81 L491.02 217.30 L491.19 213.97 L491.36 215.91 L491.53 216.75 L491.70 217.78 L491.87 212.78 L492.04 213.43 L492.21 212.41 L492.38 217.95 L492.55 219.02 L492.72 216.48 L492.89 217.18 L493.06 221.19 L493.23 218.57 L493.40 223.63 L493.57 216.77 L493.74 217.43 L493.91 219.23 L494.08 215.84 L494.25 217.19 L494.42 213.89 L494.59 221.04 L494.76 222.59 L494.93 218.25 L495.10 216.23 L495.27 218.41 L495.44 216.95 L495.61 215.56 L495.78 218.41 L495.95 218.03 L496.12 218.29 L496.29 219.89 L496.46 215.46 L496.63 221.56 L496.80 221.63 L496.97 219.38 L497.14 214.72 L497.31 215.61 L497.48 212.94 L497.65 216.04 L497.82 220.36 L497.99 220.50 L498.16 216.91 L498.33 217.38 L498.50 218.13 L498.67 216.11 L498.84 214.43 L499.01 213.93 L499.18 220.98 L499.35 214.50 L499.52 221.20 L499.69 214.14 L499.86 215.84 L500.03 223.07 L500.20 222.25 L500.37 218.72 L500.54 221.32 L500.71 222.66 L500.88 220.80 L501.05 220.14 L501.22 221.56 L501.39 219.71 L501.56 219.77 L501.73 220.02 L501.90 225.15 L502.07 220.70 L502.24 218.94 L502.41 219.39 L502.58 220.03 L502.75 219.04 L502.92 222.46 L503.09 220.57 L503.26 222.84 L503.43 220.17 L503.60 216.36 L503.77 220.41 L503.94 218.28 L504.11 215.46 L504.28 218.84 L504.45 218.76 L504.62 219.67 L504.79 222.78 L504.96 221.85 L505.13 224.33 L505.30 221.05 L505.47 219.44 L505.64 221.10 L505.81 220.65 L505.98 219.20 L506.15 220.69 L506.32 220.58 L506.49 219.15 L506.66 219.78 L506.83 220.13 L507.00 225.71 L507.17 221.74 L507.34 220.13 L507.51 221.92 L507.68 221.20 L507.85 222.59 L508.02 223.89 L508.19 223.85 L508.36 223.83 L508.53 219.61 L508.70 223.59 L508.87 220.14 L509.04 225.20 L509.21 221.95 L509.38 225.54 L509.55 221.51 L509.72 227.91 L509.89 220.17 L510.06 220.56 L510.23 223.41 L510.40 223.89 L510.57 223.34 L510.74 222.43 L510.91 223.78 L511.08 216.88 L511.25 226.20 L511.42 225.31 L511.59 224.53 L511.76 218.29 L511.93 223.18 L512.10 223.03 L512.27 224.07 L512.44 219.78 L512.61 221.17 L512.78 229.54 L512.95 220.37 L513.12 229.20 L513.29 219.39 L513.46 222.08 L513.63 225.24 L513.80 224.97 L513.97 225.97 L514.14 218.88 L514.31 222.85 L514.48 223.13 L514.65 219.90 L514.82 222.31 L514.99 221.16 L515.16 223.32 L515.33 224.68 L515.50 221.78 L515.67 226.37 L515.84 222.14 L516.01 223.95 L516.18 226.60 L516.35 226.78 L516.52 220.25 L516.69 232.97 L516.86 227.42 L517.03 224.97 L517.20 225.90 L517.37 220.15 L517.54 225.15 L517.71 226.57 L517.88 226.08 L518.05 225.95 L518.22 224.81 L518.39 222.16 L518.56 225.59 L518.73 222.94 L518.90 222.40 L519.07 226.99 L519.24 230.49 L519.41 227.57 L519.58 224.57 L519.75 224.56 L519.92 220.67 L520.09 226.32 L520.26 223.46 L520.43 223.96 L520.60 227.26 L520.77 227.16 L520.94 221.83 L521.11 223.45 L521.28 224.38 L521.45 227.49 L521.62 228.62 L521.79 222.84 L521.96 229.73 L522.13 225.01 L522.30 225.62 L522.47 230.57 L522.64 220.15 L522.81 223.92 L522.98 226.65 L523.15 222.21 L523.32 227.50 L523.49 225.88 L523.66 220.87 L523.83 226.08 L524.00 222.34 L524.17 228.08 L524.34 223.90" fill="none" stroke="#4472c4" stroke-width="0.25" stroke-opacity="0.60" stroke-linejoin="round"/>
<path d="M390.00 180.60 L390.50 180.42 L391.00 180.24 L391.50 180.05 L392.00 179.87 L392.50 179.69 L393.00 179.50 L393.50 179.32 L394.00 179.13 L394.50 178.95 L395.00 178.76 L395.50 178.58 L396.00 178.40 L396.50 178.22 L397.00 178.04 L397.50 177.86 L398.00 177.68 L398.50 177.51 L399.00 177.34 L399.50 177.17 L400.00 177.00 L400.50 176.84 L401.00 176.67 L401.50 176.51 L402.00 176.35 L402.50 176.19 L403.00 176.03 L403.50 175.87 L404.00 175.71 L404.50 175.56 L405.00 175.40 L405.50 175.25 L406.00 175.10 L406.50 174.96 L407.00 174.81 L407.50 174.67 L408.00 174.53 L408.50 174.39 L409.00 174.26 L409.50 174.13 L410.00 174.00 L410.50 173.88 L411.00 173.75 L411.50 173.64 L412.00 173.52 L412.50 173.41 L413.00 173.30 L413.50 173.19 L414.00 173.08 L414.50 172.98 L415.00 172.87 L415.50 172.77 L416.00 172.67 L416.50 172.58 L417.00 172.48 L417.50 172.38 L418.00 172.29 L418.50 172.20 L419.00 172.10 L419.50 172.01 L420.00 171.92 L420.50 171.82 L421.00 171.73 L421.50 171.64 L422.00 171.54 L422.50 171.45 L423.00 171.36 L423.50 171.26 L424.00 171.17 L424.50 171.08 L425.00 170.99 L425.50 170.90 L426.00 170.81 L426.50 170.73 L427.00 170.65 L427.50 170.56 L428.00 170.49 L428.50 170.41 L429.00 170.34 L429.50 170.27 L430.00 170.20 L430.50 170.14 L431.00 170.08 L431.50 170.02 L432.00 169.96 L432.50 169.90 L433.00 169.85 L433.50 169.80 L434.00 169.75 L434.50 169.70 L435.00 169.66 L435.50 169.62 L436.00 169.57 L436.50 169.53 L437.00 169.50 L437.50 169.46 L438.00 169.42 L438.50 169.39 L439.00 169.36 L439.50 169.33 L440.00 169.30 L440.50 169.27 L441.00 169.25 L441.50 169.22 L442.00 169.20 L442.50 169.18 L443.00 169.16 L443.50 169.14 L444.00 169.13 L444.50 169.11 L445.00 169.10 L445.50 169.09 L446.00 169.08 L446.50 169.07 L447.00 169.06 L447.50 169.05 L448.00 169.04 L448.50 169.03 L449.00 169.02 L449.50 169.02 L450.00 169.01 L450.50 169.00 L451.00 169.00 L451.50 168.99 L452.00 168.99 L452.50 168.98 L453.00 168.98 L453.50 168.97 L454.00 168.96 L454.50 168.96 L455.00 168.95 L455.50 168.94 L456.00 168.93 L456.50 168.92 L457.00 168.91 L457.50 168.90 M457.70 168.90 L458.20 170.03 L458.70 171.15 L459.20 172.26 L459.70 173.38 L460.20 174.54 L460.70 175.74 L461.20 177.02 L461.70 178.35 L462.20 179.73 L462.70 181.15 L463.20 182.61 L463.70 184.10 L464.20 185.62 L464.70 187.25 L465.20 188.96 L465.70 190.67 L466.20 192.34 L466.70 193.89 L467.20 195.26 L467.70 196.51 L468.20 197.69 L468.70 198.81 L469.20 199.85 L469.70 200.83 L470.20 201.74 L470.70 202.60 L471.20 203.40 L471.70 204.14 L472.20 204.82 L472.70 205.44 L473.20 205.99 L473.70 206.50 L474.20 206.96 L474.70 207.39 L475.20 207.78 L475.70 208.15 L476.20 208.51 L476.70 208.86 L477.20 209.21 L477.70 209.57 L478.20 209.92 L478.70 210.24 L479.20 210.55 L479.70 210.84 L480.20 211.12 L480.70 211.39 L481.20 211.64 L481.70 211.89 L482.20 212.12 L482.70 212.36 L483.20 212.59 L483.70 212.81 L484.20 213.04 L484.70 213.27 L485.20 213.50 L485.70 213.73 L486.20 213.96 L486.70 214.19 L487.20 214.41 L487.70 214.63 L488.20 214.85 L488.70 215.06 L489.20 215.27 L489.70 215.48 L490.20 215.69 L490.70 215.89 L491.20 216.08 L491.70 216.28 L492.20 216.47 L492.70 216.66 L493.20 216.84 L493.70 217.02 L494.20 217.20 L494.70 217.37 L495.20 217.54 L495.70 217.71 L496.20 217.87 L496.70 218.03 L497.20 218.18 L497.70 218.33 L498.20 218.48 L498.70 218.62 L499.20 218.77 L499.70 218.91 L500.20 219.05 L500.70 219.19 L501.20 219.32 L501.70 219.46 L502.20 219.59 L502.70 219.73 L503.20 219.86 L503.70 220.00 L504.20 220.14 L504.70 220.27 L505.20 220.41 L505.70 220.55 L506.20 220.68 L506.70 220.82 L507.20 220.95 L507.70 221.08 L508.20 221.22 L508.70 221.35 L509.20 221.48 L509.70 221.61 L510.20 221.74 L510.70 221.86 L511.20 221.99 L511.70 222.12 L512.20 222.24 L512.70 222.37 L513.20 222.49 L513.70 222.61 L514.20 222.74 L514.70 222.86 L515.20 222.98 L515.70 223.09 L516.20 223.21 L516.70 223.33 L517.20 223.44 L517.70 223.55 L518.20 223.66 L518.70 223.77 L519.20 223.88 L519.70 223.99 L520.20 224.10 L520.70 224.20 L521.20 224.31 L521.70 224.42 L522.20 224.52 L522.70 224.63 L523.20 224.74 L523.70 224.85 L524.20 224.96" fill="none" stroke="#f07070" stroke-width="0.45" stroke-opacity="0.60"/>
<line x1="458.00" y1="157.5" x2="458.00" y2="236.4" stroke="#f5aab6" stroke-width="0.8"/>
<text x="394.9" y="273.9" class="cap" textLength="100.2" lengthAdjust="spacingAndGlyphs">Sequence 6 (1 to 60)</text>
<path d="M4.0 286.0H178.0M4.0 286.0V395.9M4.0 395.9H178.0" fill="none" stroke="#dcdcdc" stroke-width="0.7"/>
<path d="M178.0 286.0V395.9" fill="none" stroke="#f3f3f3" stroke-width="0.7"/>
<rect x="43.2" y="308.78" width="127.5" height="8.78" fill="#f7f7f7"/>
<rect x="43.2" y="326.35" width="127.5" height="8.78" fill="#f7f7f7"/>
<rect x="43.2" y="343.92" width="127.5" height="8.78" fill="#f7f7f7"/>
<rect x="43.2" y="361.48" width="127.5" height="11.32" fill="#f7f7f7"/>
<line x1="58.78" y1="293.2" x2="58.78" y2="372.8" stroke="#f0f0f0" stroke-width="0.4"/>
<line x1="72.56" y1="293.2" x2="72.56" y2="372.8" stroke="#f0f0f0" stroke-width="0.4"/>
<line x1="86.33" y1="293.2" x2="86.33" y2="372.8" stroke="#f0f0f0" stroke-width="0.4"/>
<line x1="100.11" y1="293.2" x2="100.11" y2="372.8" stroke="#f0f0f0" stroke-width="0.4"/>
<line x1="113.89" y1="293.2" x2="113.89" y2="372.8" stroke="#f0f0f0" stroke-width="0.4"/>
<line x1="127.67" y1="293.2" x2="127.67" y2="372.8" stroke="#f0f0f0" stroke-width="0.4"/>
<line x1="141.44" y1="293.2" x2="141.44" y2="372.8" stroke="#f0f0f0" stroke-width="0.4"/>
<line x1="155.22" y1="293.2" x2="155.22" y2="372.8" stroke="#f0f0f0" stroke-width="0.4"/>
<line x1="169.00" y1="293.2" x2="169.00" y2="372.8" stroke="#f0f0f0" stroke-width="0.4"/>
<line x1="43.2" y1="372.80" x2="170.7" y2="372.80" stroke="#d9d9d9" stroke-width="0.5"/>
<text x="33.3" y="302.02" text-anchor="end" class="t">0.012</text>
<text x="33.3" y="319.58" text-anchor="end" class="t">0.008</text>
<text x="33.3" y="337.15" text-anchor="end" class="t">0.004</text>
<text x="33.3" y="354.72" text-anchor="end" class="t">0</text>
<text x="33.3" y="374.62" text-anchor="end" class="t">-0.004</text>
<text x="45.00" y="380.72" text-anchor="middle" class="t">0</text>
<text x="58.78" y="380.72" text-anchor="middle" class="t">100</text>
<text x="72.56" y="380.72" text-anchor="middle" class="t">200</text>
<text x="86.33" y="380.72" text-anchor="middle" class="t">300</text>
<text x="100.11" y="380.72" text-anchor="middle" class="t">400</text>
<text x="113.89" y="380.72" text-anchor="middle" class="t">500</text>
<text x="127.67" y="380.72" text-anchor="middle" class="t">600</text>
<text x="141.44" y="380.72" text-anchor="middle" class="t">700</text>
<text x="155.22" y="380.72" text-anchor="middle" class="t">800</text>
<text x="169.00" y="380.72" text-anchor="middle" class="t">900</text>
<text x="96.35" y="390.17" class="ti" textLength="22.3" lengthAdjust="spacingAndGlyphs">Time (s)</text>
<text transform="translate(12.00 344.20) rotate(-90)" x="-26.3" y="2.27" class="ti" textLength="52.6" lengthAdjust="spacingAndGlyphs">Spectral Shift (nm)</text>
<path d="M43.50 360.76 L43.65 354.87 L43.80 366.26 L43.95 362.88 L44.10 355.06 L44.25 360.37 L44.40 356.40 L44.55 355.72 L44.70 359.42 L44.85 357.24 L45.00 356.27 L45.15 359.31 L45.30 352.31 L45.45 357.44 L45.60 355.18 L45.75 353.81 L45.90 353.28 L46.05 350.52 L46.20 354.44 L46.35 353.44 L46.50 354.28 L46.65 355.43 L46.80 358.96 L46.95 364.67 L47.10 354.80 L47.25 350.51 L47.40 355.55 L47.55 355.58 L47.70 351.95 L47.85 351.66 L48.00 355.38 L48.15 354.31 L48.30 347.94 L48.45 364.75 L48.60 356.65 L48.75 350.50 L48.90 356.66 L49.05 355.72 L49.20 350.88 L49.35 350.67 L49.50 351.60 L49.65 352.91 L49.80 349.16 L49.95 361.18 L50.10 360.37 L50.25 353.04 L50.40 351.16 L50.55 350.01 L50.70 354.67 L50.85 350.65 L51.00 350.47 L51.15 358.15 L51.30 343.86 L51.45 349.67 L51.60 349.42 L51.75 347.08 L51.90 348.39 L52.05 347.87 L52.20 356.90 L52.35 358.84 L52.50 354.45 L52.65 351.39 L52.80 351.23 L52.95 350.00 L53.10 351.06 L53.25 354.30 L53.40 345.62 L53.55 349.57 L53.70 356.54 L53.85 348.46 L54.00 346.53 L54.15 349.70 L54.30 352.11 L54.45 354.07 L54.60 352.68 L54.75 350.00 L54.90 353.23 L55.05 355.51 L55.20 350.56 L55.35 348.65 L55.50 351.24 L55.65 351.38 L55.80 353.73 L55.95 353.44 L56.10 351.67 L56.25 342.43 L56.40 357.66 L56.55 345.95 L56.70 348.99 L56.85 341.89 L57.00 351.41 L57.15 347.71 L57.30 345.75 L57.45 353.00 L57.60 345.01 L57.75 346.41 L57.90 352.36 L58.05 352.94 L58.20 345.53 L58.35 342.00 L58.50 347.46 L58.65 343.88 L58.80 347.50 L58.95 342.73 L59.10 349.43 L59.25 348.77 L59.40 352.08 L59.55 349.20 L59.70 348.76 L59.85 347.65 L60.00 350.89 L60.15 348.24 L60.30 342.59 L60.45 343.80 L60.60 341.10 L60.75 351.18 L60.90 342.90 L61.05 346.99 L61.20 343.15 L61.35 346.12 L61.50 343.50 L61.65 349.98 L61.80 348.72 L61.95 346.46 L62.10 342.71 L62.25 346.38 L62.40 350.38 L62.55 344.38 L62.70 347.76 L62.85 343.61 L63.00 344.01 L63.15 342.65 L63.30 342.45 L63.45 345.03 L63.60 342.14 L63.75 351.09 L63.90 339.79 L64.05 340.29 L64.20 342.87 L64.35 343.44 L64.50 342.64 L64.65 347.79 L64.80 354.05 L64.95 340.29 L65.10 341.18 L65.25 337.58 L65.40 345.98 L65.55 342.55 L65.70 339.66 L65.85 337.73 L66.00 340.40 L66.15 344.04 L66.30 342.23 L66.45 335.91 L66.60 337.34 L66.75 339.74 L66.90 330.61 L67.05 341.29 L67.20 355.85 L67.35 341.60 L67.50 341.85 L67.65 342.62 L67.80 342.92 L67.95 333.65 L68.10 336.87 L68.25 334.58 L68.40 342.16 L68.55 343.12 L68.70 334.76 L68.85 339.65 L69.00 338.85 L69.15 344.01 L69.30 337.10 L69.45 346.90 L69.60 332.87 L69.75 347.89 L69.90 343.46 L70.05 345.26 L70.20 340.00 L70.35 337.81 L70.50 339.81 L70.65 338.26 L70.80 339.12 L70.95 342.12 L71.10 335.50 L71.25 350.81 L71.40 340.35 L71.55 333.29 L71.70 338.09 L71.85 335.89 L72.00 339.10 L72.15 333.87 L72.30 322.61 L72.45 346.01 L72.60 336.57 L72.75 333.43 L72.90 333.31 L73.05 340.25 L73.20 342.18 L73.35 337.49 L73.50 338.83 L73.65 332.13 L73.80 341.72 L73.95 342.29 L74.10 339.19 L74.25 334.88 L74.40 346.48 L74.55 339.31 L74.70 333.61 L74.85 341.86 L75.00 336.68 L75.15 334.97 L75.30 339.02 L75.45 338.21 L75.60 343.02 L75.75 330.59 L75.90 334.72 L76.05 331.74 L76.20 336.69 L76.35 335.85 L76.50 337.17 L76.65 347.68 L76.80 334.84 L76.95 339.97 L77.10 332.03 L77.25 339.37 L77.40 333.91 L77.55 335.92 L77.70 332.15 L77.85 346.49 L78.00 340.62 L78.15 331.60 L78.30 333.77 L78.45 336.36 L78.60 341.39 L78.75 331.18 L78.90 338.13 L79.05 338.31 L79.20 333.22 L79.35 334.93 L79.50 337.87 L79.65 341.49 L79.80 331.22 L79.95 337.07 L80.10 338.51 L80.25 331.90 L80.40 331.06 L80.55 335.41 L80.70 336.81 L80.85 335.01 L81.00 333.00 L81.15 332.06 L81.30 334.07 L81.45 336.74 L81.60 323.15 L81.75 334.75 L81.90 331.18 L82.05 333.97 L82.20 329.88 L82.35 329.24 L82.50 328.86 L82.65 330.98 L82.80 328.80 L82.95 332.24 L83.10 332.61 L83.25 329.27 L83.40 328.52 L83.55 335.20 L83.70 336.11 L83.85 333.08 L84.00 332.69 L84.15 331.26 L84.30 335.70 L84.45 328.56 L84.60 326.38 L84.75 332.87 L84.90 327.77 L85.05 330.73 L85.20 335.19 L85.35 330.83 L85.50 326.32 L85.65 330.00 L85.80 328.18 L85.95 325.35 L86.10 323.21 L86.25 325.66 L86.40 333.37 L86.55 333.89 L86.70 322.77 L86.85 333.18 L87.00 328.52 L87.15 330.23 L87.30 327.49 L87.45 329.76 L87.60 330.21 L87.75 332.37 L87.90 320.36 L88.05 338.87 L88.20 320.42 L88.35 328.63 L88.50 327.95 L88.65 324.55 L88.80 322.90 L88.95 325.80 L89.10 323.54 L89.25 333.01 L89.40 329.06 L89.55 328.81 L89.70 326.83 L89.85 321.54 L90.00 319.08 L90.15 323.51 L90.30 322.93 L90.45 324.21 L90.60 329.09 L90.75 329.13 L90.90 322.95 L91.05 324.80 L91.20 319.18 L91.35 324.92 L91.50 322.62 L91.65 328.19 L91.80 325.67 L91.95 326.18 L92.10 324.51 L92.25 329.38 L92.40 330.75 L92.55 320.75 L92.70 322.94 L92.85 318.70 L93.00 325.55 L93.15 331.36 L93.30 328.42 L93.45 327.85 L93.60 322.49 L93.75 324.92 L93.90 330.42 L94.05 327.02 L94.20 330.79 L94.35 318.61 L94.50 320.64 L94.65 321.79 L94.80 323.51 L94.95 321.78 L95.10 320.61 L95.25 322.01 L95.40 325.82 L95.55 328.65 L95.70 326.33 L95.85 322.11 L96.00 318.62 L96.15 325.66 L96.30 324.67 L96.45 323.12 L96.60 320.85 L96.75 327.36 L96.90 322.30 L97.05 327.26 L97.20 323.87 L97.35 324.56 L97.50 323.30 L97.65 324.07 L97.80 320.06 L97.95 325.03 L98.10 318.04 L98.25 322.20 L98.40 314.08 L98.55 325.20 L98.70 315.82 L98.85 320.37 L99.00 326.25 L99.15 326.86 L99.30 316.60 L99.45 322.00 L99.60 317.92 L99.75 333.65 L99.90 324.30 L100.05 329.25 L100.20 319.18 L100.35 324.52 L100.50 323.21 L100.65 314.37 L100.80 325.85 L100.95 322.05 L101.10 319.19 L101.25 319.47 L101.40 324.32 L101.55 322.10 L101.70 314.92 L101.85 319.79 L102.00 321.21 L102.15 316.71 L102.30 314.04 L102.45 322.97 L102.60 317.46 L102.75 313.00 L102.90 314.24 L103.05 315.17 L103.20 316.58 L103.35 316.85 L103.50 314.92 L103.65 321.67 L103.80 317.69 L103.95 323.37 L104.10 315.06 L104.25 317.74 L104.40 317.09 L104.55 317.58 L104.70 323.76 L104.85 324.55 L105.00 319.43 L105.15 320.61 L105.30 317.88 L105.45 316.63 L105.60 314.97 L105.75 323.63 L105.90 314.93 L106.05 316.92 L106.20 313.94 L106.35 316.02 L106.50 314.55 L106.65 317.45 L106.80 315.35 L106.95 318.94 L107.10 311.44 L107.25 315.40 L107.40 321.35 L107.55 319.61 L107.70 319.30 L107.85 312.44 L108.00 304.26 L108.15 322.33 L108.30 313.92 L108.45 309.30 L108.60 314.70 L108.75 317.36 L108.90 313.04 L109.05 317.75 L109.20 308.66 L109.35 316.79 L109.50 308.95 L109.65 314.46 L109.80 313.57 L109.95 311.27 L110.10 311.41 L110.25 313.44 L110.40 315.54 L110.55 311.47 L110.70 315.40 L110.85 314.07 L111.00 309.87 L111.15 312.60 L111.30 321.07 L111.45 318.42 L111.60 311.41 L111.75 309.13 L111.90 306.68 L112.05 313.13 L112.20 316.80 L112.35 311.91 L112.50 317.77 L112.65 307.45 L112.80 311.69 L112.95 311.83 L113.10 311.07 L113.25 318.65 L113.40 307.90 L113.55 318.60 L113.70 306.57 L113.85 310.10 L114.00 320.47 L114.15 312.87 L114.30 313.66 L114.45 310.65 L114.60 313.86 L114.75 308.99 L114.90 313.93 L115.05 312.56 L115.20 310.69 L115.35 314.46 L115.50 317.73 L115.65 307.88 L115.80 309.83 L115.95 316.24 L116.10 317.21 L116.25 309.77 L116.40 313.74 L116.55 313.62 L116.70 318.15 L116.85 310.46 L117.00 311.14 L117.15 311.71 L117.30 307.76 L117.45 310.21 L117.60 308.13 L117.75 308.81 L117.90 309.60 L118.05 306.38 L118.20 314.38 L118.35 311.32 L118.50 315.06 L118.65 304.28 L118.80 307.76 L118.95 310.15 L119.10 319.83 L119.25 309.65 L119.40 305.05 L119.55 313.68 L119.70 306.75 L119.85 314.66 L120.00 309.64 L120.15 308.58 L120.30 299.02 L120.45 311.72 L120.60 308.88 L120.75 309.04 L120.90 308.80 L121.05 312.20 L121.20 303.23 L121.35 307.55 L121.50 303.19 L121.65 306.58 L121.80 313.77 L121.95 313.24 L122.10 308.25 L122.25 311.81 L122.40 306.80 L122.55 302.92 L122.70 313.19 L122.85 310.44 L123.00 319.28 L123.15 313.89 L123.30 310.44 L123.45 298.25 L123.60 306.88 L123.75 311.92 L123.90 303.98 L124.05 301.11 L124.20 308.70 L124.35 297.04 L124.50 312.18 L124.65 313.68 L124.80 302.75 L124.95 301.35 L125.10 308.89 L125.25 302.58 L125.40 301.98 L125.55 303.51 L125.70 307.36 L125.85 306.34 L126.00 309.03 L126.15 307.34 L126.30 298.02 L126.45 308.71 L126.60 306.26 L126.75 307.65 L126.90 294.87 L127.05 310.61 L127.20 303.62 L127.35 306.07 L127.50 300.15 L127.65 304.30 M127.70 303.98 L127.85 307.59 L128.00 310.65 L128.15 310.57 L128.30 317.88 L128.45 315.84 L128.60 309.66 L128.75 321.06 L128.90 316.23 L129.05 320.09 L129.20 320.96 L129.35 324.49 L129.50 333.23 L129.65 324.30 L129.80 325.72 L129.95 331.67 L130.10 335.96 L130.25 331.96 L130.40 337.53 L130.55 340.26 L130.70 333.01 L130.85 338.17 L131.00 342.11 L131.15 348.63 L131.30 338.71 L131.45 335.30 L131.60 337.63 L131.75 337.30 L131.90 347.16 L132.05 334.38 L132.20 340.62 L132.35 330.30 L132.50 349.94 L132.65 341.74 L132.80 340.22 L132.95 345.34 L133.10 341.19 L133.25 341.46 L133.40 338.49 L133.55 338.47 L133.70 340.35 L133.85 341.13 L134.00 351.26 L134.15 346.04 L134.30 345.80 L134.45 342.00 L134.60 344.53 L134.75 335.74 L134.90 343.99 L135.05 342.54 L135.20 339.67 L135.35 342.33 L135.50 342.61 L135.65 343.03 L135.80 343.84 L135.95 336.04 L136.10 344.44 L136.25 334.33 L136.40 343.24 L136.55 340.50 L136.70 344.73 L136.85 343.32 L137.00 348.04 L137.15 343.46 L137.30 343.96 L137.45 340.11 L137.60 341.28 L137.75 335.91 L137.90 343.33 L138.05 338.70 L138.20 345.37 L138.35 344.65 L138.50 349.76 L138.65 345.75 L138.80 345.60 L138.95 349.92 L139.10 344.64 L139.25 348.92 L139.40 348.60 L139.55 350.24 L139.70 345.41 L139.85 346.68 L140.00 342.42 L140.15 348.59 L140.30 339.08 L140.45 341.40 L140.60 343.91 L140.75 344.10 L140.90 345.33 L141.05 345.36 L141.20 344.53 L141.35 353.15 L141.50 339.21 L141.65 349.39 L141.80 340.97 L141.95 336.93 L142.10 342.97 L142.25 345.93 L142.40 339.21 L142.55 340.75 L142.70 338.35 L142.85 344.96 L143.00 350.09 L143.15 350.97 L143.30 346.42 L143.45 344.00 L143.60 338.23 L143.75 339.65 L143.90 345.59 L144.05 348.68 L144.20 345.32 L144.35 342.58 L144.50 334.34 L144.65 339.81 L144.80 343.35 L144.95 346.33 L145.10 341.20 L145.25 345.25 L145.40 341.46 L145.55 343.28 L145.70 342.57 L145.85 341.85 L146.00 348.21 L146.15 343.43 L146.30 345.18 L146.45 347.17 L146.60 341.17 L146.75 348.78 L146.90 344.22 L147.05 343.22 L147.20 349.83 L147.35 341.82 L147.50 347.22 L147.65 341.84 L147.80 342.81 L147.95 338.41 L148.10 342.58 L148.25 341.19 L148.40 354.73 L148.55 334.87 L148.70 344.36 L148.85 348.22 L149.00 343.80 L149.15 340.53 L149.30 337.74 L149.45 345.90 L149.60 350.17 L149.75 343.10 L149.90 333.87 L150.05 343.37 L150.20 347.42 L150.35 343.77 L150.50 346.58 L150.65 345.78 L150.80 339.61 L150.95 344.22 L151.10 332.78 L151.25 344.29 L151.40 342.21 L151.55 346.46 L151.70 327.35 L151.85 343.16 L152.00 345.15 L152.15 341.27 L152.30 338.06 L152.45 332.18 L152.60 342.24 L152.75 343.66 L152.90 341.48 L153.05 342.01 L153.20 340.72 L153.35 340.20 L153.50 341.35 L153.65 350.81 L153.80 331.71 L153.95 343.53 L154.10 343.06 L154.25 341.13 L154.40 340.99 L154.55 335.85 L154.70 338.12 L154.85 348.16 L155.00 339.57 L155.15 342.96 L155.30 344.76 L155.45 343.25 L155.60 343.98 L155.75 340.83 L155.90 344.89 L156.05 344.42 L156.20 337.17 L156.35 342.20 L156.50 341.46 L156.65 341.80 L156.80 342.63 L156.95 344.61 L157.10 338.24 L157.25 343.59 L157.40 339.24 L157.55 341.72 L157.70 352.48 L157.85 337.21 L158.00 339.65 L158.15 343.43 L158.30 345.49 L158.45 346.05 L158.60 340.76 L158.75 343.07 L158.90 343.07 L159.05 340.07 L159.20 347.86 L159.35 342.91 L159.50 334.64 L159.65 346.63 L159.80 342.70 L159.95 343.74 L160.10 334.57 L160.25 349.26 L160.40 347.14 L160.55 343.57 L160.70 338.85 L160.85 340.54 L161.00 341.88 L161.15 340.76 L161.30 342.14 L161.45 348.15 L161.60 343.96 L161.75 341.13 L161.90 329.98 L162.05 344.87 L162.20 343.12 L162.35 344.71 L162.50 334.49 L162.65 342.30 L162.80 342.06 L162.95 350.58 L163.10 346.79 L163.25 331.21 L163.40 337.79 L163.55 338.48 L163.70 343.86 L163.85 348.51 L164.00 342.91 L164.15 349.93 L164.30 348.01 L164.45 341.87 L164.60 345.37 L164.75 340.15 L164.90 348.68 L165.05 342.72 L165.20 341.29 L165.35 355.80 L165.50 341.22 L165.65 348.18 L165.80 341.16 L165.95 341.07 L166.10 340.74 L166.25 342.94 L166.40 341.72 L166.55 345.95 L166.70 346.38 L166.85 342.59 L167.00 351.35 L167.15 345.01 L167.30 338.36 L167.45 346.06 L167.60 345.35 L167.75 338.34 L167.90 353.38 L168.05 347.28 L168.20 336.33 L168.35 341.90 L168.50 344.32 L168.65 349.87 L168.80 349.75 L168.95 346.77 L169.10 343.03 L169.25 348.04 L169.40 350.10 L169.55 350.91 L169.70 357.77 L169.85 349.79 L170.00 357.63 L170.15 357.70 L170.30 365.17 L170.45 364.97" fill="none" stroke="#4472c4" stroke-width="0.25" stroke-opacity="0.55" stroke-linejoin="round"/>
<path d="M43.50 359.00 L44.00 358.69 L44.50 358.38 L45.00 358.07 L45.50 357.75 L46.00 357.44 L46.50 357.13 L47.00 356.82 L47.50 356.51 L48.00 356.21 L48.50 355.90 L49.00 355.59 L49.50 355.28 L50.00 354.97 L50.50 354.66 L51.00 354.35 L51.50 354.04 L52.00 353.73 L52.50 353.42 L53.00 353.10 L53.50 352.79 L54.00 352.48 L54.50 352.17 L55.00 351.85 L55.50 351.54 L56.00 351.22 L56.50 350.91 L57.00 350.59 L57.50 350.27 L58.00 349.95 L58.50 349.63 L59.00 349.31 L59.50 348.98 L60.00 348.66 L60.50 348.34 L61.00 348.01 L61.50 347.69 L62.00 347.36 L62.50 347.03 L63.00 346.71 L63.50 346.38 L64.00 346.05 L64.50 345.72 L65.00 345.39 L65.50 345.06 L66.00 344.73 L66.50 344.40 L67.00 344.07 L67.50 343.73 L68.00 343.40 L68.50 343.07 L69.00 342.73 L69.50 342.40 L70.00 342.07 L70.50 341.73 L71.00 341.40 L71.50 341.06 L72.00 340.72 L72.50 340.39 L73.00 340.05 L73.50 339.71 L74.00 339.38 L74.50 339.04 L75.00 338.70 L75.50 338.36 L76.00 338.03 L76.50 337.68 L77.00 337.34 L77.50 337.00 L78.00 336.65 L78.50 336.31 L79.00 335.96 L79.50 335.61 L80.00 335.27 L80.50 334.92 L81.00 334.57 L81.50 334.22 L82.00 333.87 L82.50 333.52 L83.00 333.17 L83.50 332.82 L84.00 332.47 L84.50 332.12 L85.00 331.77 L85.50 331.42 L86.00 331.08 L86.50 330.73 L87.00 330.38 L87.50 330.04 L88.00 329.69 L88.50 329.35 L89.00 329.01 L89.50 328.67 L90.00 328.33 L90.50 328.00 L91.00 327.66 L91.50 327.33 L92.00 327.00 L92.50 326.67 L93.00 326.34 L93.50 326.01 L94.00 325.68 L94.50 325.35 L95.00 325.02 L95.50 324.70 L96.00 324.37 L96.50 324.04 L97.00 323.72 L97.50 323.39 L98.00 323.06 L98.50 322.74 L99.00 322.42 L99.50 322.10 L100.00 321.78 L100.50 321.46 L101.00 321.14 L101.50 320.82 L102.00 320.51 L102.50 320.20 L103.00 319.89 L103.50 319.58 L104.00 319.27 L104.50 318.97 L105.00 318.66 L105.50 318.36 L106.00 318.06 L106.50 317.77 L107.00 317.48 L107.50 317.19 L108.00 316.90 L108.50 316.61 L109.00 316.33 L109.50 316.05 L110.00 315.78 L110.50 315.51 L111.00 315.24 L111.50 314.97 L112.00 314.70 L112.50 314.44 L113.00 314.18 L113.50 313.93 L114.00 313.67 L114.50 313.42 L115.00 313.17 L115.50 312.92 L116.00 312.67 L116.50 312.43 L117.00 312.18 L117.50 311.94 L118.00 311.69 L118.50 311.45 L119.00 311.21 L119.50 310.97 L120.00 310.73 L120.50 310.49 L121.00 310.25 L121.50 310.01 L122.00 309.77 L122.50 309.53 L123.00 309.29 L123.50 309.05 L124.00 308.81 L124.50 308.57 L125.00 308.33 L125.50 308.09 L126.00 307.84 L126.50 307.60 L127.00 307.35 L127.50 307.10 M127.70 307.00 L128.20 312.28 L128.70 317.82 L129.20 323.13 L129.70 327.76 L130.20 331.26 L130.70 333.84 L131.20 335.76 L131.70 337.19 L132.20 338.33 L132.70 339.36 L133.20 340.43 L133.70 341.42 L134.20 342.26 L134.70 342.97 L135.20 343.54 L135.70 343.97 L136.20 344.28 L136.70 344.46 L137.20 344.51 L137.70 344.55 L138.20 344.58 L138.70 344.61 L139.20 344.64 L139.70 344.66 L140.20 344.68 L140.70 344.70 L141.20 344.71 L141.70 344.73 L142.20 344.74 L142.70 344.75 L143.20 344.76 L143.70 344.77 L144.20 344.78 L144.70 344.78 L145.20 344.78 L145.70 344.79 L146.20 344.79 L146.70 344.79 L147.20 344.79 L147.70 344.80 L148.20 344.80 L148.70 344.80" fill="none" stroke="#f07070" stroke-width="0.45" stroke-opacity="0.60"/>
<line x1="128.00" y1="293.2" x2="128.00" y2="372.8" stroke="#f5aab6" stroke-width="0.8"/>
<text x="41.6" y="409.0" class="cap" textLength="106.4" lengthAdjust="spacingAndGlyphs">Sequence 7 (21 to 60)</text>
<path d="M181.6 286.3H357.0M181.6 286.3V396.0M181.6 396.0H357.0" fill="none" stroke="#dcdcdc" stroke-width="0.7"/>
<path d="M357.0 286.3V396.0" fill="none" stroke="#f3f3f3" stroke-width="0.7"/>
<rect x="217.0" y="290.00" width="131.3" height="6.80" fill="#f7f7f7"/>
<rect x="217.0" y="303.30" width="131.3" height="6.80" fill="#f7f7f7"/>
<rect x="217.0" y="316.80" width="131.3" height="7.20" fill="#f7f7f7"/>
<rect x="217.0" y="330.20" width="131.3" height="7.20" fill="#f7f7f7"/>
<rect x="217.0" y="343.60" width="131.3" height="7.20" fill="#f7f7f7"/>
<rect x="217.0" y="357.00" width="131.3" height="7.20" fill="#f7f7f7"/>
<rect x="217.0" y="370.40" width="131.3" height="2.70" fill="#f7f7f7"/>
<line x1="236.60" y1="289.9" x2="236.60" y2="373.1" stroke="#f0f0f0" stroke-width="0.4"/>
<line x1="250.40" y1="289.9" x2="250.40" y2="373.1" stroke="#f0f0f0" stroke-width="0.4"/>
<line x1="264.20" y1="289.9" x2="264.20" y2="373.1" stroke="#f0f0f0" stroke-width="0.4"/>
<line x1="278.00" y1="289.9" x2="278.00" y2="373.1" stroke="#f0f0f0" stroke-width="0.4"/>
<line x1="291.80" y1="289.9" x2="291.80" y2="373.1" stroke="#f0f0f0" stroke-width="0.4"/>
<line x1="305.60" y1="289.9" x2="305.60" y2="373.1" stroke="#f0f0f0" stroke-width="0.4"/>
<line x1="319.40" y1="289.9" x2="319.40" y2="373.1" stroke="#f0f0f0" stroke-width="0.4"/>
<line x1="333.20" y1="289.9" x2="333.20" y2="373.1" stroke="#f0f0f0" stroke-width="0.4"/>
<line x1="347.00" y1="289.9" x2="347.00" y2="373.1" stroke="#f0f0f0" stroke-width="0.4"/>
<line x1="217.0" y1="373.10" x2="348.3" y2="373.10" stroke="#d9d9d9" stroke-width="0.5"/>
<text x="210.0" y="293.32" text-anchor="end" class="t">0.024</text>
<text x="210.0" y="306.62" text-anchor="end" class="t">0.02</text>
<text x="210.0" y="319.92" text-anchor="end" class="t">0.016</text>
<text x="210.0" y="333.22" text-anchor="end" class="t">0.012</text>
<text x="210.0" y="346.52" text-anchor="end" class="t">0.008</text>
<text x="210.0" y="359.82" text-anchor="end" class="t">0.004</text>
<text x="210.0" y="373.12" text-anchor="end" class="t">0</text>
<text x="222.80" y="381.62" text-anchor="middle" class="t">0</text>
<text x="236.60" y="381.62" text-anchor="middle" class="t">100</text>
<text x="250.40" y="381.62" text-anchor="middle" class="t">200</text>
<text x="264.20" y="381.62" text-anchor="middle" class="t">300</text>
<text x="278.00" y="381.62" text-anchor="middle" class="t">400</text>
<text x="291.80" y="381.62" text-anchor="middle" class="t">500</text>
<text x="305.60" y="381.62" text-anchor="middle" class="t">600</text>
<text x="319.40" y="381.62" text-anchor="middle" class="t">700</text>
<text x="333.20" y="381.62" text-anchor="middle" class="t">800</text>
<text x="347.00" y="381.62" text-anchor="middle" class="t">900</text>
<text x="273.75" y="390.57" class="ti" textLength="22.3" lengthAdjust="spacingAndGlyphs">Time (s)</text>
<text transform="translate(191.40 344.20) rotate(-90)" x="-26.3" y="2.27" class="ti" textLength="52.6" lengthAdjust="spacingAndGlyphs">Spectral Shift (nm)</text>
<path d="M217.50 358.71 L217.65 351.09 L217.80 350.03 L217.95 359.55 L218.10 352.73 L218.25 354.89 L218.40 356.78 L218.55 348.07 L218.70 354.91 L218.85 348.80 L219.00 356.65 L219.15 346.58 L219.30 351.65 L219.45 348.26 L219.60 351.11 L219.75 345.65 L219.90 352.93 L220.05 349.64 L220.20 352.56 L220.35 344.95 L220.50 349.52 L220.65 352.41 L220.80 352.01 L220.95 347.96 L221.10 348.38 L221.25 352.32 L221.40 347.97 L221.55 349.23 L221.70 350.18 L221.85 349.85 L222.00 343.22 L222.15 360.54 L222.30 349.41 L222.45 346.39 L222.60 343.59 L222.75 349.35 L222.90 351.03 L223.05 342.41 L223.20 352.91 L223.35 346.53 L223.50 347.88 L223.65 352.02 L223.80 345.37 L223.95 347.99 L224.10 353.08 L224.25 355.88 L224.40 350.06 L224.55 341.56 L224.70 350.69 L224.85 347.60 L225.00 344.87 L225.15 346.05 L225.30 346.07 L225.45 347.41 L225.60 351.68 L225.75 348.83 L225.90 347.51 L226.05 347.04 L226.20 344.22 L226.35 350.53 L226.50 345.48 L226.65 350.58 L226.80 346.79 L226.95 354.77 L227.10 345.40 L227.25 341.66 L227.40 345.29 L227.55 343.85 L227.70 341.89 L227.85 350.28 L228.00 347.28 L228.15 351.57 L228.30 342.25 L228.45 343.70 L228.60 326.47 L228.75 345.47 L228.90 340.26 L229.05 343.27 L229.20 351.53 L229.35 343.98 L229.50 344.27 L229.65 340.90 L229.80 341.54 L229.95 341.29 L230.10 341.82 L230.25 350.81 L230.40 345.94 L230.55 344.64 L230.70 351.98 L230.85 348.43 L231.00 347.06 L231.15 341.10 L231.30 336.09 L231.45 346.40 L231.60 342.36 L231.75 344.41 L231.90 345.18 L232.05 340.58 L232.20 341.07 L232.35 349.27 L232.50 342.20 L232.65 343.74 L232.80 340.86 L232.95 349.05 L233.10 338.29 L233.25 343.06 L233.40 344.54 L233.55 346.32 L233.70 346.66 L233.85 350.54 L234.00 341.51 L234.15 342.73 L234.30 341.05 L234.45 340.70 L234.60 340.07 L234.75 346.60 L234.90 341.69 L235.05 346.47 L235.20 346.97 L235.35 338.88 L235.50 344.52 L235.65 336.34 L235.80 342.28 L235.95 336.64 L236.10 335.47 L236.25 342.51 L236.40 341.73 L236.55 335.50 L236.70 343.02 L236.85 342.86 L237.00 344.32 L237.15 340.17 L237.30 348.49 L237.45 342.59 L237.60 341.89 L237.75 344.86 L237.90 343.33 L238.05 344.58 L238.20 339.41 L238.35 343.29 L238.50 344.15 L238.65 344.60 L238.80 341.93 L238.95 343.69 L239.10 341.68 L239.25 327.11 L239.40 342.11 L239.55 345.54 L239.70 344.16 L239.85 342.55 L240.00 341.22 L240.15 342.61 L240.30 333.52 L240.45 345.18 L240.60 337.24 L240.75 339.41 L240.90 337.98 L241.05 339.48 L241.20 330.82 L241.35 333.27 L241.50 336.77 L241.65 335.04 L241.80 337.69 L241.95 336.05 L242.10 343.68 L242.25 339.32 L242.40 341.04 L242.55 348.19 L242.70 337.44 L242.85 340.15 L243.00 345.84 L243.15 332.15 L243.30 340.63 L243.45 339.92 L243.60 338.01 L243.75 339.15 L243.90 337.45 L244.05 338.95 L244.20 337.72 L244.35 338.85 L244.50 334.88 L244.65 336.28 L244.80 340.02 L244.95 339.03 L245.10 342.22 L245.25 338.63 L245.40 340.75 L245.55 336.94 L245.70 336.33 L245.85 336.34 L246.00 334.62 L246.15 327.80 L246.30 340.54 L246.45 339.52 L246.60 337.84 L246.75 336.83 L246.90 340.23 L247.05 339.72 L247.20 335.98 L247.35 331.58 L247.50 340.51 L247.65 339.36 L247.80 331.51 L247.95 336.10 L248.10 334.52 L248.25 339.83 L248.40 334.59 L248.55 337.24 L248.70 336.92 L248.85 340.19 L249.00 340.03 L249.15 336.84 L249.30 329.88 L249.45 337.65 L249.60 337.06 L249.75 339.36 L249.90 340.18 L250.05 342.94 L250.20 337.42 L250.35 335.37 L250.50 338.59 L250.65 334.42 L250.80 340.20 L250.95 335.74 L251.10 335.47 L251.25 335.25 L251.40 331.56 L251.55 336.99 L251.70 336.20 L251.85 331.31 L252.00 335.28 L252.15 340.84 L252.30 335.61 L252.45 338.61 L252.60 340.73 L252.75 337.64 L252.90 334.50 L253.05 333.07 L253.20 340.38 L253.35 335.23 L253.50 338.51 L253.65 332.46 L253.80 339.38 L253.95 336.96 L254.10 334.11 L254.25 339.75 L254.40 332.67 L254.55 334.35 L254.70 335.12 L254.85 330.31 L255.00 336.54 L255.15 335.19 L255.30 334.51 L255.45 335.80 L255.60 335.31 L255.75 334.19 L255.90 331.86 L256.05 336.34 L256.20 341.53 L256.35 333.09 L256.50 336.29 L256.65 332.97 L256.80 334.57 L256.95 331.90 L257.10 333.88 L257.25 333.68 L257.40 335.09 L257.55 322.46 L257.70 332.12 L257.85 329.55 L258.00 336.59 L258.15 329.36 L258.30 333.32 L258.45 324.06 L258.60 330.53 L258.75 324.71 L258.90 328.61 L259.05 332.66 L259.20 331.03 L259.35 332.81 L259.50 332.16 L259.65 333.09 L259.80 336.78 L259.95 333.40 L260.10 339.67 L260.25 329.90 L260.40 334.47 L260.55 335.97 L260.70 328.10 L260.85 331.78 L261.00 333.88 L261.15 334.74 L261.30 330.70 L261.45 330.39 L261.60 330.93 L261.75 335.40 L261.90 331.03 L262.05 335.45 L262.20 328.86 L262.35 329.68 L262.50 327.78 L262.65 333.22 L262.80 331.21 L262.95 331.84 L263.10 330.19 L263.25 332.01 L263.40 327.46 L263.55 326.54 L263.70 334.82 L263.85 317.24 L264.00 326.43 L264.15 328.37 L264.30 328.30 L264.45 335.74 L264.60 323.44 L264.75 334.48 L264.90 329.23 L265.05 328.17 L265.20 330.08 L265.35 323.67 L265.50 334.26 L265.65 331.56 L265.80 326.71 L265.95 342.47 L266.10 337.02 L266.25 328.65 L266.40 326.83 L266.55 322.60 L266.70 331.39 L266.85 327.38 L267.00 325.92 L267.15 334.03 L267.30 321.70 L267.45 325.54 L267.60 331.17 L267.75 324.36 L267.90 332.96 L268.05 318.64 L268.20 331.17 L268.35 331.12 L268.50 339.29 L268.65 327.23 L268.80 336.08 L268.95 332.53 L269.10 323.13 L269.25 326.08 L269.40 329.90 L269.55 327.33 L269.70 331.62 L269.85 325.10 L270.00 328.33 L270.15 332.51 L270.30 326.07 L270.45 327.99 L270.60 329.57 L270.75 322.60 L270.90 328.98 L271.05 321.90 L271.20 320.13 L271.35 332.37 L271.50 323.48 L271.65 321.86 L271.80 320.23 L271.95 320.56 L272.10 326.53 L272.25 322.35 L272.40 327.84 L272.55 322.94 L272.70 327.20 L272.85 324.53 L273.00 325.89 L273.15 324.94 L273.30 318.15 L273.45 326.03 L273.60 327.76 L273.75 327.54 L273.90 322.81 L274.05 325.71 L274.20 321.82 L274.35 329.19 L274.50 319.36 L274.65 318.95 L274.80 326.07 L274.95 322.17 L275.10 322.17 L275.25 326.39 L275.40 330.66 L275.55 319.93 L275.70 324.23 L275.85 324.70 L276.00 326.01 L276.15 327.68 L276.30 321.94 L276.45 325.36 L276.60 330.32 L276.75 324.77 L276.90 322.98 L277.05 326.16 L277.20 328.34 L277.35 322.36 L277.50 322.55 L277.65 326.67 L277.80 321.92 L277.95 322.21 L278.10 325.00 L278.25 317.50 L278.40 326.78 L278.55 323.54 L278.70 325.87 L278.85 329.03 L279.00 324.09 L279.15 321.63 L279.30 322.39 L279.45 320.28 L279.60 315.05 L279.75 318.54 L279.90 325.25 L280.05 325.18 L280.20 318.80 L280.35 315.29 L280.50 324.97 L280.65 324.88 L280.80 322.87 L280.95 331.48 L281.10 325.01 L281.25 328.97 L281.40 321.37 L281.55 318.72 L281.70 319.67 L281.85 315.95 L282.00 321.10 L282.15 323.15 L282.30 325.96 L282.45 320.47 L282.60 318.07 L282.75 316.83 L282.90 319.23 L283.05 320.31 L283.20 323.30 L283.35 315.95 L283.50 318.97 L283.65 317.70 L283.80 317.67 L283.95 320.02 L284.10 313.03 L284.25 314.49 L284.40 323.25 L284.55 323.70 L284.70 318.36 L284.85 313.13 L285.00 316.46 L285.15 320.77 L285.30 325.50 L285.45 320.29 L285.60 316.19 L285.75 322.54 L285.90 320.78 L286.05 314.33 L286.20 317.10 L286.35 312.63 L286.50 319.88 L286.65 322.94 L286.80 318.80 L286.95 316.30 L287.10 316.82 L287.25 315.11 L287.40 318.38 L287.55 315.43 L287.70 315.12 L287.85 318.43 L288.00 316.45 L288.15 316.96 L288.30 317.74 L288.45 310.13 L288.60 319.68 L288.75 313.48 L288.90 312.61 L289.05 314.86 L289.20 313.50 L289.35 313.92 L289.50 312.28 L289.65 318.41 L289.80 318.74 L289.95 314.97 L290.10 317.31 L290.25 309.99 L290.40 309.05 L290.55 319.47 L290.70 312.09 L290.85 322.16 L291.00 316.34 L291.15 314.50 L291.30 315.92 L291.45 314.38 L291.60 316.71 L291.75 314.87 L291.90 321.69 L292.05 314.78 L292.20 313.46 L292.35 312.24 L292.50 314.02 L292.65 320.37 L292.80 310.72 L292.95 315.24 L293.10 316.33 L293.25 315.05 L293.40 309.25 L293.55 318.96 L293.70 317.88 L293.85 310.31 L294.00 310.78 L294.15 319.74 L294.30 312.94 L294.45 318.82 L294.60 309.73 L294.75 312.56 L294.90 314.81 L295.05 310.32 L295.20 310.08 L295.35 317.82 L295.50 315.13 L295.65 313.32 L295.80 319.27 L295.95 316.86 L296.10 314.55 L296.25 309.97 L296.40 310.38 L296.55 311.07 L296.70 306.49 L296.85 310.58 L297.00 309.61 L297.15 316.73 L297.30 314.57 L297.45 318.58 L297.60 312.37 L297.75 314.89 L297.90 314.65 L298.05 309.62 L298.20 315.34 L298.35 314.90 L298.50 310.38 L298.65 311.10 L298.80 307.85 L298.95 308.47 L299.10 310.90 L299.25 314.53 L299.40 311.82 L299.55 308.27 L299.70 312.57 L299.85 310.92 L300.00 312.48 L300.15 315.11 L300.30 312.72 L300.45 305.36 L300.60 307.42 L300.75 311.91 L300.90 312.13 L301.05 311.57 L301.20 310.76 L301.35 309.72 L301.50 307.23 L301.65 301.47 L301.80 316.48 L301.95 307.94 L302.10 325.16 L302.25 306.84 L302.40 300.92 L302.55 308.47 L302.70 314.16 L302.85 308.63 L303.00 310.70 L303.15 306.71 L303.30 316.65 L303.45 312.49 L303.60 313.83 L303.75 307.88 L303.90 309.51 L304.05 310.56 L304.20 312.22 L304.35 312.14 L304.50 312.36 M304.50 305.40 L304.65 306.84 L304.80 313.80 L304.95 315.30 L305.10 308.08 L305.25 317.43 L305.40 319.42 L305.55 314.72 L305.70 332.49 L305.85 323.67 L306.00 317.19 L306.15 322.53 L306.30 327.30 L306.45 323.86 L306.60 327.10 L306.75 327.13 L306.90 323.30 L307.05 339.50 L307.20 330.12 L307.35 322.85 L307.50 335.23 L307.65 326.07 L307.80 327.35 L307.95 330.40 L308.10 334.34 L308.25 336.33 L308.40 337.65 L308.55 334.92 L308.70 334.98 L308.85 331.30 L309.00 327.86 L309.15 331.54 L309.30 339.69 L309.45 329.00 L309.60 331.91 L309.75 334.41 L309.90 334.26 L310.05 330.38 L310.20 339.52 L310.35 332.30 L310.50 332.75 L310.65 337.46 L310.80 337.02 L310.95 331.50 L311.10 330.91 L311.25 338.52 L311.40 334.05 L311.55 338.33 L311.70 335.71 L311.85 339.38 L312.00 335.00 L312.15 335.74 L312.30 342.15 L312.45 333.66 L312.60 336.06 L312.75 341.11 L312.90 337.44 L313.05 339.42 L313.20 341.16 L313.35 340.11 L313.50 339.60 L313.65 335.98 L313.80 340.53 L313.95 338.01 L314.10 337.48 L314.25 334.21 L314.40 339.16 L314.55 339.63 L314.70 332.86 L314.85 336.68 L315.00 336.35 L315.15 338.68 L315.30 339.09 L315.45 336.41 L315.60 335.70 L315.75 343.04 L315.90 337.36 L316.05 341.00 L316.20 343.87 L316.35 349.80 L316.50 339.08 L316.65 336.84 L316.80 337.21 L316.95 334.39 L317.10 334.52 L317.25 340.40 L317.40 336.25 L317.55 333.34 L317.70 338.68 L317.85 341.05 L318.00 336.45 L318.15 331.02 L318.30 340.02 L318.45 334.94 L318.60 330.22 L318.75 341.41 L318.90 336.13 L319.05 348.52 L319.20 336.86 L319.35 340.30 L319.50 337.16 L319.65 334.81 L319.80 333.00 L319.95 337.08 L320.10 332.56 L320.25 332.56 L320.40 336.89 L320.55 336.43 L320.70 333.39 L320.85 335.05 L321.00 333.50 L321.15 337.31 L321.30 333.10 L321.45 335.89 L321.60 336.06 L321.75 343.81 L321.90 339.68 L322.05 335.61 L322.20 330.79 L322.35 341.95 L322.50 341.48 L322.65 337.44 L322.80 340.81 L322.95 332.45 L323.10 336.79 L323.25 344.51 L323.40 335.30 L323.55 332.82 L323.70 339.86 L323.85 334.71 L324.00 341.74 L324.15 331.13 L324.30 336.64 L324.45 344.27 L324.60 336.63 L324.75 340.16 L324.90 329.57 L325.05 331.76 L325.20 340.14 L325.35 333.24 L325.50 338.03 L325.65 337.07 L325.80 335.24 L325.95 331.36 L326.10 334.35 L326.25 338.82 L326.40 333.68 L326.55 336.22 L326.70 343.48 L326.85 342.87 L327.00 334.40 L327.15 335.99 L327.30 337.35 L327.45 327.45 L327.60 329.68 L327.75 334.66 L327.90 334.25 L328.05 334.91 L328.20 332.53 L328.35 332.12 L328.50 338.22 L328.65 334.49 L328.80 338.29 L328.95 337.09 L329.10 334.15 L329.25 338.44 L329.40 332.56 L329.55 341.23 L329.70 340.15 L329.85 339.79 L330.00 331.82 L330.15 338.90 L330.30 337.49 L330.45 335.01 L330.60 339.76 L330.75 337.83 L330.90 333.30 L331.05 336.91 L331.20 337.36 L331.35 342.75 L331.50 340.99 L331.65 332.11 L331.80 333.68 L331.95 330.27 L332.10 340.12 L332.25 331.79 L332.40 327.26 L332.55 333.79 L332.70 337.32 L332.85 337.45 L333.00 339.73 L333.15 336.09 L333.30 334.00 L333.45 332.43 L333.60 331.37 L333.75 334.71 L333.90 338.90 L334.05 336.72 L334.20 332.18 L334.35 326.95 L334.50 337.98 L334.65 338.13 L334.80 342.45 L334.95 341.08 L335.10 337.52 L335.25 334.60 L335.40 329.67 L335.55 334.71 L335.70 334.99 L335.85 332.15 L336.00 335.79 L336.15 335.90 L336.30 333.80 L336.45 329.18 L336.60 336.84 L336.75 337.87 L336.90 333.26 L337.05 329.09 L337.20 337.67 L337.35 335.49 L337.50 339.95 L337.65 342.29 L337.80 336.23 L337.95 338.43 L338.10 331.80 L338.25 329.65 L338.40 329.80 L338.55 338.23 L338.70 331.87 L338.85 341.77 L339.00 327.55 L339.15 328.16 L339.30 335.19 L339.45 335.63 L339.60 335.15 L339.75 342.17 L339.90 335.41 L340.05 340.62 L340.20 335.23 L340.35 339.93 L340.50 340.88 L340.65 340.42 L340.80 334.91 L340.95 340.04 L341.10 341.78 L341.25 325.21 L341.40 337.37 L341.55 337.50 L341.70 334.57 L341.85 335.61 L342.00 336.95 L342.15 334.10 L342.30 341.50 L342.45 330.42 L342.60 335.30 L342.75 334.64 L342.90 333.57 L343.05 335.64 L343.20 333.56 L343.35 342.75 L343.50 341.19 L343.65 327.71 L343.80 338.02 L343.95 338.44 L344.10 341.40 L344.25 337.21 L344.40 332.81 L344.55 344.77 L344.70 328.34 L344.85 332.52 L345.00 342.78 L345.15 333.89 L345.30 331.14 L345.45 331.38 L345.60 331.53 L345.75 335.77 L345.90 335.40 L346.05 334.07 L346.20 345.52 L346.35 328.88 L346.50 337.80 L346.65 337.78 L346.80 334.82 L346.95 332.68 L347.10 345.84 L347.25 347.94 L347.40 349.28 L347.55 350.56 L347.70 342.66" fill="none" stroke="#4472c4" stroke-width="0.25" stroke-opacity="0.55" stroke-linejoin="round"/>
<path d="M217.50 368.60 L218.00 367.95 L218.50 367.30 L219.00 366.64 L219.50 365.98 L220.00 365.31 L220.50 364.64 L221.00 363.97 L221.50 363.29 L222.00 362.62 L222.50 361.94 L223.00 361.27 L223.50 360.60 L224.00 359.94 L224.50 359.28 L225.00 358.62 L225.50 357.97 L226.00 357.33 L226.50 356.70 L227.00 356.07 L227.50 355.46 L228.00 354.86 L228.50 354.27 L229.00 353.69 L229.50 353.13 L230.00 352.58 L230.50 352.04 L231.00 351.51 L231.50 350.99 L232.00 350.47 L232.50 349.96 L233.00 349.46 L233.50 348.96 L234.00 348.47 L234.50 347.99 L235.00 347.51 L235.50 347.04 L236.00 346.57 L236.50 346.11 L237.00 345.66 L237.50 345.21 L238.00 344.77 L238.50 344.33 L239.00 343.90 L239.50 343.47 L240.00 343.05 L240.50 342.63 L241.00 342.21 L241.50 341.81 L242.00 341.40 L242.50 341.00 L243.00 340.60 L243.50 340.21 L244.00 339.82 L244.50 339.44 L245.00 339.05 L245.50 338.68 L246.00 338.30 L246.50 337.93 L247.00 337.57 L247.50 337.21 L248.00 336.87 L248.50 336.52 L249.00 336.18 L249.50 335.85 L250.00 335.52 L250.50 335.20 L251.00 334.88 L251.50 334.56 L252.00 334.25 L252.50 333.95 L253.00 333.65 L253.50 333.35 L254.00 333.06 L254.50 332.77 L255.00 332.48 L255.50 332.19 L256.00 331.91 L256.50 331.63 L257.00 331.36 L257.50 331.08 L258.00 330.81 L258.50 330.54 L259.00 330.27 L259.50 330.00 L260.00 329.74 L260.50 329.47 L261.00 329.21 L261.50 328.95 L262.00 328.69 L262.50 328.43 L263.00 328.18 L263.50 327.93 L264.00 327.68 L264.50 327.44 L265.00 327.20 L265.50 326.96 L266.00 326.73 L266.50 326.50 L267.00 326.27 L267.50 326.04 L268.00 325.82 L268.50 325.60 L269.00 325.38 L269.50 325.16 L270.00 324.95 L270.50 324.73 L271.00 324.52 L271.50 324.31 L272.00 324.10 L272.50 323.90 L273.00 323.69 L273.50 323.49 L274.00 323.28 L274.50 323.08 L275.00 322.88 L275.50 322.68 L276.00 322.48 L276.50 322.28 L277.00 322.08 L277.50 321.88 L278.00 321.68 L278.50 321.48 L279.00 321.29 L279.50 321.09 L280.00 320.89 L280.50 320.70 L281.00 320.51 L281.50 320.32 L282.00 320.13 L282.50 319.94 L283.00 319.75 L283.50 319.57 L284.00 319.39 L284.50 319.21 L285.00 319.04 L285.50 318.87 L286.00 318.70 L286.50 318.53 L287.00 318.37 L287.50 318.22 L288.00 318.06 L288.50 317.92 L289.00 317.77 L289.50 317.63 L290.00 317.50 L290.50 317.37 L291.00 317.25 L291.50 317.13 L292.00 317.02 L292.50 316.92 L293.00 316.81 L293.50 316.72 L294.00 316.62 L294.50 316.53 L295.00 316.45 L295.50 316.36 L296.00 316.28 L296.50 316.20 L297.00 316.13 L297.50 316.05 L298.00 315.98 L298.50 315.90 L299.00 315.83 L299.50 315.76 L300.00 315.69 L300.50 315.62 L301.00 315.55 L301.50 315.47 L302.00 315.40 L302.50 315.32 L303.00 315.25 L303.50 315.17 L304.00 315.08 L304.50 315.00 M304.50 315.00 L305.00 317.70 L305.50 320.49 L306.00 323.23 L306.50 325.78 L307.00 328.00 L307.50 329.87 L308.00 331.50 L308.50 332.89 L309.00 334.05 L309.50 335.00 L310.00 335.73 L310.50 336.26 L311.00 336.61 L311.50 336.83 L312.00 336.95 L312.50 336.99 L313.00 337.00 L313.50 337.00 L314.00 337.00 L314.50 337.00 L315.00 337.00 L315.50 337.00 L316.00 337.00 L316.50 337.00 L317.00 337.00 L317.50 337.00 L318.00 337.00 L318.50 337.00 L319.00 337.00 L319.50 337.00" fill="none" stroke="#f07070" stroke-width="0.45" stroke-opacity="0.60"/>
<line x1="304.70" y1="289.9" x2="304.70" y2="373.1" stroke="#f5aab6" stroke-width="0.8"/>
<text x="212.5" y="410.2" class="cap" textLength="105.9" lengthAdjust="spacingAndGlyphs">Sequence 8 (31 to 80)</text>
<path d="M357.7 286.3H536.5M357.7 286.3V396.0M357.7 396.0H536.5" fill="none" stroke="#dcdcdc" stroke-width="0.7"/>
<path d="M536.5 286.3V396.0" fill="none" stroke="#f3f3f3" stroke-width="0.7"/>
<rect x="388.8" y="300.80" width="131.7" height="10.80" fill="#f7f7f7"/>
<rect x="388.8" y="319.00" width="131.7" height="10.00" fill="#f7f7f7"/>
<rect x="388.8" y="337.80" width="131.7" height="9.20" fill="#f7f7f7"/>
<rect x="388.8" y="355.90" width="131.7" height="9.70" fill="#f7f7f7"/>
<line x1="418.43" y1="290.6" x2="418.43" y2="370.5" stroke="#f0f0f0" stroke-width="0.4"/>
<line x1="435.86" y1="290.6" x2="435.86" y2="370.5" stroke="#f0f0f0" stroke-width="0.4"/>
<line x1="453.29" y1="290.6" x2="453.29" y2="370.5" stroke="#f0f0f0" stroke-width="0.4"/>
<line x1="470.71" y1="290.6" x2="470.71" y2="370.5" stroke="#f0f0f0" stroke-width="0.4"/>
<line x1="488.14" y1="290.6" x2="488.14" y2="370.5" stroke="#f0f0f0" stroke-width="0.4"/>
<line x1="505.57" y1="290.6" x2="505.57" y2="370.5" stroke="#f0f0f0" stroke-width="0.4"/>
<line x1="523.00" y1="290.6" x2="523.00" y2="370.5" stroke="#f0f0f0" stroke-width="0.4"/>
<line x1="388.8" y1="370.50" x2="520.5" y2="370.50" stroke="#d9d9d9" stroke-width="0.5"/>
<text x="386.0" y="293.62" text-anchor="end" class="t">0.09</text>
<text x="386.0" y="306.82" text-anchor="end" class="t">0.075</text>
<text x="386.0" y="320.02" text-anchor="end" class="t">0.06</text>
<text x="386.0" y="333.22" text-anchor="end" class="t">0.045</text>
<text x="386.0" y="346.42" text-anchor="end" class="t">0.03</text>
<text x="386.0" y="359.62" text-anchor="end" class="t">0.015</text>
<text x="386.0" y="372.82" text-anchor="end" class="t">0</text>
<text x="401.00" y="380.52" text-anchor="middle" class="t">50</text>
<text x="418.43" y="380.52" text-anchor="middle" class="t">100</text>
<text x="435.86" y="380.52" text-anchor="middle" class="t">150</text>
<text x="453.29" y="380.52" text-anchor="middle" class="t">200</text>
<text x="470.71" y="380.52" text-anchor="middle" class="t">250</text>
<text x="488.14" y="380.52" text-anchor="middle" class="t">300</text>
<text x="505.57" y="380.52" text-anchor="middle" class="t">350</text>
<text x="523.00" y="380.52" text-anchor="middle" class="t">400</text>
<text x="451.25" y="389.67" class="ti" textLength="22.3" lengthAdjust="spacingAndGlyphs">Time (s)</text>
<text transform="translate(366.00 344.20) rotate(-90)" x="-26.3" y="2.27" class="ti" textLength="52.6" lengthAdjust="spacingAndGlyphs">Spectral Shift (nm)</text>
<path d="M389.10 352.16 L389.28 347.14 L389.46 341.08 L389.64 342.01 L389.82 337.77 L390.00 340.76 L390.18 340.56 L390.36 340.45 L390.54 337.51 L390.72 335.17 L390.90 333.73 L391.08 336.46 L391.26 335.50 L391.44 335.23 L391.62 332.60 L391.80 337.20 L391.98 334.81 L392.16 333.66 L392.34 334.54 L392.52 335.86 L392.70 334.37 L392.88 335.25 L393.06 333.57 L393.24 334.91 L393.42 331.51 L393.60 330.11 L393.78 331.27 L393.96 331.34 L394.14 331.49 L394.32 333.16 L394.50 331.75 L394.68 335.43 L394.86 329.02 L395.04 338.01 L395.22 331.43 L395.40 334.72 L395.58 331.73 L395.76 330.38 L395.94 329.92 L396.12 330.14 L396.30 326.82 L396.48 331.48 L396.66 331.17 L396.84 328.43 L397.02 327.59 L397.20 331.73 L397.38 330.32 L397.56 327.05 L397.74 334.42 L397.92 327.99 L398.10 328.16 L398.28 330.83 L398.46 329.93 L398.64 325.98 L398.82 328.89 L399.00 328.82 L399.18 330.87 L399.36 327.01 L399.54 329.05 L399.72 327.93 L399.90 327.67 L400.08 327.06 L400.26 328.70 L400.44 327.38 L400.62 331.00 L400.80 326.96 L400.98 325.15 L401.16 329.03 L401.34 324.87 L401.52 327.78 L401.70 326.46 L401.88 327.43 L402.06 323.37 L402.24 326.97 L402.42 327.01 L402.60 327.87 L402.78 326.98 L402.96 322.17 L403.14 326.17 L403.32 331.81 L403.50 323.01 L403.68 323.23 L403.86 326.89 L404.04 323.99 L404.22 325.49 L404.40 326.56 L404.58 326.13 L404.76 324.54 L404.94 326.75 L405.12 327.17 L405.30 325.68 L405.48 323.58 L405.66 326.27 L405.84 327.34 L406.02 325.26 L406.20 323.87 L406.38 330.14 L406.56 328.19 L406.74 325.73 L406.92 325.07 L407.10 324.71 L407.28 325.93 L407.46 325.71 L407.64 327.39 L407.82 325.04 L408.00 323.20 L408.18 323.62 L408.36 323.12 L408.54 324.12 L408.72 323.05 L408.90 322.92 L409.08 321.78 L409.26 321.11 L409.44 324.75 L409.62 325.47 L409.80 324.50 L409.98 322.13 L410.16 324.59 L410.34 322.87 L410.52 324.15 L410.70 320.25 L410.88 327.74 L411.06 319.82 L411.24 323.74 L411.42 322.93 L411.60 322.70 L411.78 325.66 L411.96 323.57 L412.14 322.19 L412.32 323.84 L412.50 323.30 L412.68 324.16 L412.86 322.71 L413.04 321.72 L413.22 320.52 L413.40 323.03 L413.58 319.52 L413.76 320.40 L413.94 318.15 L414.12 322.32 L414.30 322.44 L414.48 321.59 L414.66 315.56 L414.84 322.18 L415.02 321.88 L415.20 321.59 L415.38 318.95 L415.56 320.01 L415.74 318.14 L415.92 323.08 L416.10 319.04 L416.28 321.38 L416.46 318.11 L416.64 321.41 L416.82 319.07 L417.00 322.91 L417.18 317.96 L417.36 318.59 L417.54 318.04 L417.72 316.17 L417.90 320.79 L418.08 321.08 L418.26 317.74 L418.44 321.10 L418.62 321.18 L418.80 318.18 L418.98 317.69 L419.16 316.62 L419.34 317.19 L419.52 312.87 L419.70 318.83 L419.88 315.80 L420.06 319.17 L420.24 317.67 L420.42 316.02 L420.60 318.98 L420.78 317.33 L420.96 317.20 L421.14 316.55 L421.32 313.43 L421.50 314.21 L421.68 316.75 L421.86 316.43 L422.04 315.03 L422.22 318.91 L422.40 316.11 L422.58 317.24 L422.76 313.86 L422.94 314.88 L423.12 315.91 L423.30 317.30 L423.48 316.10 L423.66 315.92 L423.84 315.71 L424.02 315.50 L424.20 312.94 L424.38 314.59 L424.56 314.94 L424.74 311.80 L424.92 315.36 L425.10 313.72 L425.28 314.83 L425.46 314.67 L425.64 313.90 L425.82 313.68 L426.00 314.00 L426.18 315.18 L426.36 312.25 L426.54 314.10 L426.72 316.55 L426.90 315.80 L427.08 315.23 L427.26 313.05 L427.44 312.07 L427.62 312.11 L427.80 313.36 L427.98 311.95 L428.16 310.21 L428.34 314.28 L428.52 314.12 L428.70 311.94 L428.88 312.58 L429.06 313.31 L429.24 311.60 L429.42 312.14 L429.60 309.26 L429.78 312.97 L429.96 315.21 L430.14 310.75 L430.32 311.86 L430.50 309.25 L430.68 313.11 L430.86 311.48 L431.04 312.34 L431.22 310.76 L431.40 309.58 L431.58 310.80 L431.76 313.60 L431.94 310.71 L432.12 310.71 L432.30 306.39 L432.48 308.98 L432.66 309.94 L432.84 311.56 L433.02 309.83 L433.20 308.31 L433.38 311.42 L433.56 308.06 L433.74 309.73 L433.92 312.12 L434.10 310.07 L434.28 308.04 L434.46 308.16 L434.64 310.60 L434.82 307.45 L435.00 307.27 L435.18 308.05 L435.36 306.16 L435.54 309.01 L435.72 312.71 L435.90 306.04 L436.08 307.44 L436.26 312.90 L436.44 309.27 L436.62 310.43 L436.80 306.55 L436.98 304.57 L437.16 308.05 L437.34 309.47 L437.52 306.54 L437.70 304.45 L437.88 306.50 L438.06 308.36 L438.24 306.00 L438.42 302.66 L438.60 304.43 L438.78 305.70 L438.96 308.17 L439.14 305.58 L439.32 304.98 L439.50 305.30 L439.68 306.50 L439.86 305.26 L440.04 305.42 L440.22 302.51 L440.40 306.17 L440.58 303.72 L440.76 303.88 L440.94 304.43 L441.12 306.46 L441.30 300.52 L441.48 302.78 L441.66 303.47 L441.84 301.39 L442.02 303.61 L442.20 300.92 L442.38 304.64 L442.56 302.15 L442.74 302.36 L442.92 303.67 L443.10 303.40 L443.28 299.96 L443.46 300.31 L443.64 303.66 L443.82 302.22 L444.00 302.30 L444.18 300.85 L444.36 305.35 L444.54 302.68 L444.72 302.78 L444.90 302.85 L445.08 298.02 L445.26 302.71 L445.44 302.69 L445.62 300.60 L445.80 299.64 L445.98 302.38 L446.16 302.61 L446.34 300.48 L446.52 298.52 L446.70 301.69 L446.88 301.88 L447.06 299.01 L447.24 300.67 L447.42 298.78 L447.60 299.87 L447.78 299.50 L447.96 300.18 L448.14 302.71 L448.32 299.72 L448.50 297.39 L448.68 299.59 L448.86 299.57 L449.04 297.60 L449.22 299.21 L449.40 297.90 L449.58 294.24 L449.76 299.21 L449.94 297.85 L450.12 300.13 L450.30 298.92 L450.48 296.45 L450.66 297.33 L450.84 298.16 L451.02 297.17 L451.20 298.43 L451.38 295.87 L451.56 298.74 L451.74 295.74 L451.92 296.18 L452.10 297.52 L452.28 296.88 L452.46 294.52 L452.64 295.87 L452.82 294.27 L453.00 294.61 L453.18 298.21 L453.36 295.29 L453.54 295.27 L453.72 296.46 L453.90 296.95 L454.08 292.70 L454.26 295.67 L454.44 296.05 M454.50 291.82 L454.68 296.96 L454.86 301.75 L455.04 305.44 L455.22 310.68 L455.40 309.45 L455.58 312.24 L455.76 317.75 L455.94 317.36 L456.12 315.40 L456.30 317.99 L456.48 318.51 L456.66 319.16 L456.84 320.93 L457.02 324.85 L457.20 323.50 L457.38 323.22 L457.56 322.56 L457.74 323.33 L457.92 322.72 L458.10 324.27 L458.28 326.53 L458.46 323.90 L458.64 323.80 L458.82 325.61 L459.00 326.30 L459.18 327.01 L459.36 324.59 L459.54 325.00 L459.72 328.73 L459.90 322.97 L460.08 327.55 L460.26 323.61 L460.44 326.34 L460.62 326.54 L460.80 324.45 L460.98 319.86 L461.16 324.81 L461.34 328.19 L461.52 325.99 L461.70 324.79 L461.88 324.09 L462.06 325.05 L462.24 323.83 L462.42 327.35 L462.60 324.95 L462.78 326.95 L462.96 323.61 L463.14 326.42 L463.32 324.71 L463.50 325.35 L463.68 325.79 L463.86 328.59 L464.04 325.80 L464.22 323.61 L464.40 324.97 L464.58 325.81 L464.76 327.56 L464.94 325.41 L465.12 325.64 L465.30 327.39 L465.48 326.80 L465.66 324.29 L465.84 327.80 L466.02 323.92 L466.20 324.83 L466.38 324.32 L466.56 322.96 L466.74 324.73 L466.92 326.68 L467.10 326.33 L467.28 326.96 L467.46 321.17 L467.64 328.24 L467.82 323.74 L468.00 327.11 L468.18 323.98 L468.36 325.64 L468.54 331.30 L468.72 326.67 L468.90 327.13 L469.08 325.25 L469.26 330.55 L469.44 326.65 L469.62 328.48 L469.80 323.88 L469.98 327.60 L470.16 325.12 L470.34 326.28 L470.52 323.44 L470.70 325.74 L470.88 327.91 L471.06 323.24 L471.24 326.77 L471.42 323.87 L471.60 326.06 L471.78 326.59 L471.96 328.37 L472.14 325.61 L472.32 326.32 L472.50 323.85 L472.68 324.98 L472.86 326.77 L473.04 327.32 L473.22 327.19 L473.40 324.82 L473.58 327.03 L473.76 329.80 L473.94 325.35 L474.12 327.43 L474.30 327.64 L474.48 325.96 L474.66 325.30 L474.84 324.54 L475.02 326.68 L475.20 330.14 L475.38 329.93 L475.56 330.04 L475.74 331.04 L475.92 327.66 L476.10 333.09 L476.28 324.11 L476.46 327.49 L476.64 327.66 L476.82 330.72 L477.00 326.78 L477.18 330.04 L477.36 330.27 L477.54 329.63 L477.72 329.16 L477.90 325.22 L478.08 326.65 L478.26 326.77 L478.44 330.12 L478.62 330.29 L478.80 320.90 L478.98 323.16 L479.16 328.56 L479.34 329.19 L479.52 331.91 L479.70 329.94 L479.88 330.51 L480.06 323.16 L480.24 324.51 L480.42 332.03 L480.60 327.33 L480.78 327.63 L480.96 329.26 L481.14 335.36 L481.32 328.26 L481.50 327.24 L481.68 325.97 L481.86 329.97 L482.04 328.06 L482.22 330.32 L482.40 330.85 L482.58 335.15 L482.76 326.05 L482.94 329.59 L483.12 326.79 L483.30 330.69 L483.48 330.74 L483.66 328.98 L483.84 328.57 L484.02 330.65 L484.20 325.47 L484.38 326.21 L484.56 330.09 L484.74 323.13 L484.92 330.12 L485.10 328.22 L485.28 328.12 L485.46 335.18 L485.64 329.16 L485.82 326.91 L486.00 331.20 L486.18 335.87 L486.36 325.31 L486.54 327.29 L486.72 328.67 L486.90 329.97 L487.08 328.29 L487.26 329.83 L487.44 327.15 L487.62 331.27 L487.80 326.90 L487.98 329.60 L488.16 331.56 L488.34 324.90 L488.52 332.14 L488.70 330.09 L488.88 327.89 L489.06 328.33 L489.24 329.87 L489.42 330.28 L489.60 330.41 L489.78 333.68 L489.96 323.63 L490.14 332.49 L490.32 331.15 L490.50 330.33 L490.68 327.29 L490.86 330.54 L491.04 333.41 L491.22 328.83 L491.40 330.47 L491.58 329.19 L491.76 333.03 L491.94 332.34 L492.12 329.39 L492.30 329.46 L492.48 331.13 L492.66 329.45 L492.84 332.12 L493.02 330.39 L493.20 329.50 L493.38 325.66 L493.56 332.76 L493.74 334.14 L493.92 330.66 L494.10 331.40 L494.28 332.35 L494.46 333.01 L494.64 332.68 L494.82 329.81 L495.00 333.75 L495.18 330.88 L495.36 332.00 L495.54 331.88 L495.72 330.58 L495.90 330.02 L496.08 333.39 L496.26 329.62 L496.44 333.94 L496.62 330.84 L496.80 331.37 L496.98 332.91 L497.16 333.80 L497.34 328.98 L497.52 331.85 L497.70 331.91 L497.88 332.11 L498.06 330.47 L498.24 333.20 L498.42 332.90 L498.60 328.27 L498.78 330.97 L498.96 332.21 L499.14 336.13 L499.32 331.74 L499.50 334.67 L499.68 334.21 L499.86 333.36 L500.04 334.68 L500.22 333.58 L500.40 330.36 L500.58 332.35 L500.76 330.74 L500.94 330.47 L501.12 332.46 L501.30 331.93 L501.48 333.33 L501.66 328.90 L501.84 330.85 L502.02 336.36 L502.20 330.88 L502.38 337.68 L502.56 329.81 L502.74 333.97 L502.92 334.48 L503.10 333.88 L503.28 332.97 L503.46 333.05 L503.64 331.56 L503.82 329.38 L504.00 327.47 L504.18 334.77 L504.36 333.21 L504.54 332.21 L504.72 331.14 L504.90 331.85 L505.08 335.08 L505.26 331.84 L505.44 334.88 L505.62 332.43 L505.80 330.79 L505.98 331.97 L506.16 331.50 L506.34 334.47 L506.52 331.04 L506.70 333.65 L506.88 331.48 L507.06 336.62 L507.24 330.47 L507.42 332.05 L507.60 330.01 L507.78 333.93 L507.96 329.71 L508.14 331.68 L508.32 332.88 L508.50 334.11 L508.68 333.42 L508.86 332.37 L509.04 332.78 L509.22 328.76 L509.40 335.69 L509.58 334.16 L509.76 337.77 L509.94 331.44 L510.12 332.29 L510.30 332.51 L510.48 332.88 L510.66 335.85 L510.84 334.08 L511.02 334.06 L511.20 333.25 L511.38 335.22 L511.56 334.81 L511.74 332.95 L511.92 336.98 L512.10 333.78 L512.28 331.95 L512.46 335.73 L512.64 334.66 L512.82 333.87 L513.00 332.66 L513.18 332.16 L513.36 333.77 L513.54 334.95 L513.72 333.33 L513.90 335.07 L514.08 336.27 L514.26 336.73 L514.44 337.16 L514.62 337.26 L514.80 337.42 L514.98 337.32 L515.16 335.58 L515.34 335.26 L515.52 335.42 L515.70 336.93 L515.88 338.78 L516.06 335.29 L516.24 335.80 L516.42 332.71 L516.60 335.93 L516.78 334.78 L516.96 340.11 L517.14 339.50 L517.32 335.53 L517.50 336.59 L517.68 342.67 L517.86 335.27 L518.04 337.46 L518.22 337.88 L518.40 335.41 L518.58 338.75" fill="none" stroke="#4472c4" stroke-width="0.25" stroke-opacity="0.60" stroke-linejoin="round"/>
<path d="M389.10 368.00 L389.60 343.71 L390.10 339.72 L390.60 338.43 L391.10 337.86 L391.60 337.16 L392.10 336.42 L392.60 335.68 L393.10 334.94 L393.60 334.23 L394.10 333.55 L394.60 332.94 L395.10 332.40 L395.60 331.91 L396.10 331.47 L396.60 331.06 L397.10 330.68 L397.60 330.32 L398.10 329.99 L398.60 329.68 L399.10 329.39 L399.60 329.10 L400.10 328.83 L400.60 328.55 L401.10 328.28 L401.60 328.00 L402.10 327.73 L402.60 327.47 L403.10 327.23 L403.60 327.00 L404.10 326.78 L404.60 326.57 L405.10 326.36 L405.60 326.16 L406.10 325.96 L406.60 325.75 L407.10 325.55 L407.60 325.34 L408.10 325.12 L408.60 324.89 L409.10 324.65 L409.60 324.40 L410.10 324.14 L410.60 323.87 L411.10 323.60 L411.60 323.33 L412.10 323.05 L412.60 322.76 L413.10 322.48 L413.60 322.19 L414.10 321.89 L414.60 321.60 L415.10 321.30 L415.60 321.00 L416.10 320.70 L416.60 320.40 L417.10 320.09 L417.60 319.79 L418.10 319.48 L418.60 319.16 L419.10 318.84 L419.60 318.52 L420.10 318.20 L420.60 317.87 L421.10 317.55 L421.60 317.22 L422.10 316.89 L422.60 316.56 L423.10 316.23 L423.60 315.90 L424.10 315.58 L424.60 315.26 L425.10 314.94 L425.60 314.62 L426.10 314.30 L426.60 313.98 L427.10 313.67 L427.60 313.35 L428.10 313.03 L428.60 312.72 L429.10 312.40 L429.60 312.09 L430.10 311.77 L430.60 311.46 L431.10 311.14 L431.60 310.83 L432.10 310.51 L432.60 310.19 L433.10 309.87 L433.60 309.56 L434.10 309.24 L434.60 308.92 L435.10 308.61 L435.60 308.29 L436.10 307.98 L436.60 307.66 L437.10 307.34 L437.60 307.03 L438.10 306.71 L438.60 306.38 L439.10 306.06 L439.60 305.73 L440.10 305.40 L440.60 305.07 L441.10 304.73 L441.60 304.38 L442.10 304.02 L442.60 303.66 L443.10 303.29 L443.60 302.92 L444.10 302.55 L444.60 302.18 L445.10 301.81 L445.60 301.45 L446.10 301.09 L446.60 300.74 L447.10 300.40 L447.60 300.07 L448.10 299.75 L448.60 299.44 L449.10 299.15 L449.60 298.87 L450.10 298.61 L450.60 298.36 L451.10 298.11 L451.60 297.88 L452.10 297.64 L452.60 297.41 L453.10 297.17 L453.60 296.94 L454.10 296.70 M454.50 296.50 L455.00 303.18 L455.50 310.07 L456.00 315.89 L456.50 319.61 L457.00 322.00 L457.50 323.51 L458.00 324.39 L458.50 324.86 L459.00 325.19 L459.50 325.59 L460.00 326.01 L460.50 326.35 L461.00 326.62 L461.50 326.82 L462.00 326.98 L462.50 327.09 L463.00 327.16 L463.50 327.21 L464.00 327.25 L464.50 327.27 L465.00 327.30 L465.50 327.33 L466.00 327.36 L466.50 327.39 L467.00 327.41 L467.50 327.44 L468.00 327.46 L468.50 327.48 L469.00 327.50 L469.50 327.52 L470.00 327.54 L470.50 327.56 L471.00 327.57 L471.50 327.59 L472.00 327.60 L472.50 327.62 L473.00 327.63 L473.50 327.64 L474.00 327.65 L474.50 327.66 L475.00 327.67 L475.50 327.68 L476.00 327.69 L476.50 327.70 L477.00 327.70 L477.50 327.71 L478.00 327.72 L478.50 327.72 L479.00 327.73 L479.50 327.73 L480.00 327.74 L480.50 327.74 L481.00 327.74 L481.50 327.75 L482.00 327.75 L482.50 327.75 L483.00 327.76 L483.50 327.76 L484.00 327.76 L484.50 327.77 L485.00 327.77 L485.50 327.77 L486.00 327.78 L486.50 327.78 L487.00 327.78 L487.50 327.79 L488.00 327.79 L488.50 327.80 L489.00 327.80" fill="none" stroke="#f07070" stroke-width="0.45" stroke-opacity="0.60"/>
<line x1="455.00" y1="290.6" x2="455.00" y2="370.5" stroke="#f5aab6" stroke-width="0.8"/>
<text x="397.3" y="409.4" class="cap" textLength="100.7" lengthAdjust="spacingAndGlyphs">Sequence 9 (1 to 50)</text>
<path d="M102.6 420.7H275.0M102.6 420.7V530.8M102.6 530.8H275.0" fill="none" stroke="#dcdcdc" stroke-width="0.7"/>
<path d="M275.0 420.7V530.8" fill="none" stroke="#f3f3f3" stroke-width="0.7"/>
<rect x="137.7" y="436.48" width="131.3" height="9.98" fill="#f7f7f7"/>
<rect x="137.7" y="456.45" width="131.3" height="9.98" fill="#f7f7f7"/>
<rect x="137.7" y="476.42" width="131.3" height="9.98" fill="#f7f7f7"/>
<rect x="137.7" y="496.38" width="131.3" height="11.72" fill="#f7f7f7"/>
<line x1="158.92" y1="424.5" x2="158.92" y2="508.1" stroke="#f0f0f0" stroke-width="0.4"/>
<line x1="172.64" y1="424.5" x2="172.64" y2="508.1" stroke="#f0f0f0" stroke-width="0.4"/>
<line x1="186.37" y1="424.5" x2="186.37" y2="508.1" stroke="#f0f0f0" stroke-width="0.4"/>
<line x1="200.09" y1="424.5" x2="200.09" y2="508.1" stroke="#f0f0f0" stroke-width="0.4"/>
<line x1="213.81" y1="424.5" x2="213.81" y2="508.1" stroke="#f0f0f0" stroke-width="0.4"/>
<line x1="227.53" y1="424.5" x2="227.53" y2="508.1" stroke="#f0f0f0" stroke-width="0.4"/>
<line x1="241.26" y1="424.5" x2="241.26" y2="508.1" stroke="#f0f0f0" stroke-width="0.4"/>
<line x1="254.98" y1="424.5" x2="254.98" y2="508.1" stroke="#f0f0f0" stroke-width="0.4"/>
<line x1="268.70" y1="424.5" x2="268.70" y2="508.1" stroke="#f0f0f0" stroke-width="0.4"/>
<line x1="137.7" y1="508.10" x2="269.0" y2="508.10" stroke="#d9d9d9" stroke-width="0.5"/>
<text x="132.5" y="428.52" text-anchor="end" class="t">0.014</text>
<text x="132.5" y="448.48" text-anchor="end" class="t">0.01</text>
<text x="132.5" y="468.45" text-anchor="end" class="t">0.006</text>
<text x="132.5" y="488.42" text-anchor="end" class="t">0.002</text>
<text x="132.5" y="508.38" text-anchor="end" class="t">-0.002</text>
<text x="145.20" y="516.22" text-anchor="middle" class="t">0</text>
<text x="158.92" y="516.22" text-anchor="middle" class="t">100</text>
<text x="172.64" y="516.22" text-anchor="middle" class="t">200</text>
<text x="186.37" y="516.22" text-anchor="middle" class="t">300</text>
<text x="200.09" y="516.22" text-anchor="middle" class="t">400</text>
<text x="213.81" y="516.22" text-anchor="middle" class="t">500</text>
<text x="227.53" y="516.22" text-anchor="middle" class="t">600</text>
<text x="241.26" y="516.22" text-anchor="middle" class="t">700</text>
<text x="254.98" y="516.22" text-anchor="middle" class="t">800</text>
<text x="268.70" y="516.22" text-anchor="middle" class="t">900</text>
<text x="196.15" y="525.57" class="ti" textLength="22.3" lengthAdjust="spacingAndGlyphs">Time (s)</text>
<text transform="translate(111.50 472.00) rotate(-90)" x="-26.3" y="2.27" class="ti" textLength="52.6" lengthAdjust="spacingAndGlyphs">Spectral Shift (nm)</text>
<path d="M138.40 453.44 L138.55 460.02 L138.70 451.28 L138.85 455.13 L139.00 461.87 L139.15 454.07 L139.30 455.31 L139.45 455.70 L139.60 461.83 L139.75 460.27 L139.90 438.15 L140.05 450.16 L140.20 465.41 L140.35 450.15 L140.50 460.40 L140.65 452.51 L140.80 458.93 L140.95 452.00 L141.10 451.58 L141.25 450.05 L141.40 477.19 L141.55 459.42 L141.70 446.83 L141.85 472.66 L142.00 456.25 L142.15 453.72 L142.30 457.68 L142.45 448.60 L142.60 443.23 L142.75 447.87 L142.90 464.98 L143.05 452.97 L143.20 450.41 L143.35 444.07 L143.50 454.87 L143.65 460.85 L143.80 456.31 L143.95 445.28 L144.10 445.81 L144.25 464.35 L144.40 450.48 L144.55 452.58 L144.70 464.18 L144.85 454.39 L145.00 447.39 L145.15 459.47 L145.30 458.43 L145.45 447.81 L145.60 445.29 L145.75 461.53 L145.90 446.57 L146.05 444.47 L146.20 441.71 L146.35 454.45 L146.50 453.32 L146.65 449.37 L146.80 455.92 L146.95 452.94 L147.10 449.18 L147.25 452.58 L147.40 447.52 L147.55 455.11 L147.70 459.19 L147.85 459.54 L148.00 438.57 L148.15 442.75 L148.30 432.29 L148.45 459.23 L148.60 443.80 L148.75 450.36 L148.90 443.24 L149.05 461.38 L149.20 445.38 L149.35 450.60 L149.50 458.70 L149.65 452.68 L149.80 465.19 L149.95 448.88 L150.10 461.49 L150.25 447.75 L150.40 439.53 L150.55 454.75 L150.70 459.48 L150.85 457.34 L151.00 453.23 L151.15 456.49 L151.30 462.19 L151.45 455.09 L151.60 450.98 L151.75 451.65 L151.90 448.99 L152.05 457.35 L152.20 464.81 L152.35 461.06 L152.50 445.64 L152.65 448.03 L152.80 454.44 L152.95 449.78 L153.10 453.42 L153.25 451.40 L153.40 453.36 L153.55 449.02 L153.70 470.95 L153.85 450.29 L154.00 441.39 L154.15 458.39 L154.30 437.53 L154.45 455.53 L154.60 453.71 L154.75 464.38 L154.90 459.12 L155.05 465.28 L155.20 453.64 L155.35 455.04 L155.50 452.29 L155.65 441.31 L155.80 452.68 L155.95 444.15 L156.10 455.10 L156.25 459.93 L156.40 460.39 L156.55 470.05 L156.70 457.89 L156.85 458.46 L157.00 450.07 L157.15 460.84 L157.30 440.61 L157.45 449.13 L157.60 457.56 L157.75 453.25 L157.90 453.80 L158.05 445.58 L158.20 440.93 L158.35 449.84 L158.50 450.51 L158.65 449.69 L158.80 462.54 L158.95 448.50 L159.10 446.02 L159.25 453.47 L159.40 451.36 L159.55 444.59 L159.70 438.10 L159.85 455.16 L160.00 442.55 L160.15 450.57 L160.30 453.17 L160.45 447.99 L160.60 458.71 L160.75 460.41 L160.90 442.30 L161.05 451.03 L161.20 452.56 L161.35 451.74 L161.50 450.25 L161.65 436.94 L161.80 448.14 L161.95 444.19 L162.10 458.85 L162.25 452.08 L162.40 452.81 L162.55 454.77 L162.70 451.22 L162.85 442.04 L163.00 450.58 L163.15 439.18 L163.30 456.06 L163.45 453.28 L163.60 441.77 L163.75 454.49 L163.90 427.27 L164.05 437.53 L164.20 453.92 L164.35 435.65 L164.50 448.57 L164.65 452.14 L164.80 454.40 L164.95 438.41 L165.10 445.69 L165.25 452.02 L165.40 463.94 L165.55 449.12 L165.70 436.08 L165.85 438.45 L166.00 455.58 L166.15 443.96 L166.30 450.50 L166.45 444.12 L166.60 457.40 L166.75 451.93 L166.90 438.11 L167.05 453.29 L167.20 456.73 L167.35 441.50 L167.50 444.37 L167.65 450.28 L167.80 448.45 L167.95 446.27 L168.10 439.49 L168.25 448.77 L168.40 454.55 L168.55 463.27 L168.70 459.84 L168.85 463.42 L169.00 454.66 L169.15 450.86 L169.30 454.51 L169.45 447.41 L169.60 457.93 L169.75 454.80 L169.90 455.26 L170.05 446.45 L170.20 452.20 L170.35 442.27 L170.50 441.40 L170.65 454.09 L170.80 463.32 L170.95 448.61 L171.10 455.65 L171.25 450.19 L171.40 445.70 L171.55 449.56 L171.70 454.71 L171.85 437.64 L172.00 456.33 L172.15 437.77 L172.30 453.54 L172.45 456.46 L172.60 442.85 L172.75 444.60 L172.90 432.25 L173.05 445.39 L173.20 453.35 L173.35 454.24 L173.50 443.97 L173.65 449.84 L173.80 452.53 L173.95 442.77 L174.10 466.82 L174.25 447.11 L174.40 451.62 L174.55 433.81 L174.70 454.42 L174.85 431.40 L175.00 436.37 L175.15 449.69 L175.30 442.98 L175.45 448.21 L175.60 460.19 L175.75 446.95 L175.90 446.38 L176.05 450.51 L176.20 435.23 L176.35 447.17 L176.50 455.58 L176.65 453.43 L176.80 454.59 L176.95 456.53 L177.10 438.69 L177.25 458.77 L177.40 456.97 L177.55 446.36 L177.70 449.42 L177.85 444.98 L178.00 443.09 L178.15 452.58 L178.30 445.72 L178.45 449.02 L178.60 452.05 L178.75 449.31 L178.90 452.64 L179.05 448.90 L179.20 454.79 L179.35 448.13 L179.50 453.11 L179.65 465.52 L179.80 448.67 L179.95 433.58 L180.10 449.54 L180.25 441.83 L180.40 451.82 L180.55 449.76 L180.70 450.80 L180.85 455.15 L181.00 453.28 L181.15 444.83 L181.30 440.13 L181.45 443.15 L181.60 449.10 L181.75 443.78 L181.90 451.73 L182.05 453.53 L182.20 442.71 L182.35 447.60 L182.50 452.40 L182.65 434.51 L182.80 438.27 L182.95 460.60 L183.10 443.93 L183.25 432.90 L183.40 449.61 L183.55 448.94 L183.70 465.47 L183.85 444.41 L184.00 469.65 L184.15 434.91 L184.30 448.93 L184.45 444.29 L184.60 451.27 L184.75 437.06 L184.90 438.51 L185.05 455.18 L185.20 443.11 L185.35 437.78 L185.50 451.18 L185.65 435.23 L185.80 445.96 L185.95 440.66 L186.10 455.09 L186.25 448.00 L186.40 455.16 L186.55 447.36 L186.70 446.81 L186.85 437.70 L187.00 441.20 L187.15 439.51 L187.30 442.78 L187.45 444.77 L187.60 451.66 L187.75 445.66 L187.90 439.26 L188.05 441.13 L188.20 435.74 L188.35 447.47 L188.50 450.76 L188.65 444.66 L188.80 432.84 L188.95 444.99 L189.10 450.35 L189.25 443.53 L189.40 447.68 L189.55 441.44 L189.70 441.00 L189.85 447.84 L190.00 446.58 L190.15 431.41 L190.30 446.19 L190.45 439.09 L190.60 452.46 L190.75 441.61 L190.90 434.13 L191.05 442.41 L191.20 435.16 L191.35 451.24 L191.50 431.19 L191.65 448.76 L191.80 451.21 L191.95 446.32 L192.10 453.57 L192.25 448.26 L192.40 441.65 L192.55 450.45 L192.70 448.16 L192.85 452.71 L193.00 442.31 L193.15 443.75 L193.30 452.52 L193.45 465.39 L193.60 442.61 L193.75 436.07 L193.90 452.71 L194.05 448.93 L194.20 450.90 L194.35 450.36 L194.50 448.03 L194.65 449.41 L194.80 450.71 L194.95 452.21 L195.10 450.10 L195.25 444.70 L195.40 449.80 L195.55 450.55 L195.70 444.84 L195.85 444.83 L196.00 449.27 L196.15 460.39 L196.30 443.04 L196.45 448.84 L196.60 442.33 L196.75 472.10 L196.90 454.56 L197.05 450.71 L197.20 452.38 L197.35 442.82 L197.50 447.63 L197.65 447.35 L197.80 451.44 L197.95 446.14 L198.10 452.37 L198.25 452.28 L198.40 446.13 L198.55 446.98 L198.70 435.67 L198.85 449.82 L199.00 445.57 L199.15 444.25 L199.30 449.31 L199.45 448.51 L199.60 462.16 L199.75 440.30 L199.90 456.02 L200.05 449.13 L200.20 448.99 L200.35 435.73 L200.50 444.06 L200.65 451.54 L200.80 455.24 L200.95 430.20 L201.10 439.03 L201.25 442.41 L201.40 455.54 L201.55 441.11 L201.70 445.66 L201.85 449.89 L202.00 452.84 L202.15 461.23 L202.30 452.12 L202.45 451.42 L202.60 451.54 L202.75 460.02 L202.90 454.95 L203.05 438.77 L203.20 456.36 L203.35 443.45 L203.50 443.86 L203.65 453.47 L203.80 437.52 L203.95 454.94 L204.10 442.65 L204.25 447.10 L204.40 446.87 L204.55 437.58 L204.70 440.76 L204.85 447.53 L205.00 456.97 L205.15 447.47 L205.30 442.60 L205.45 437.90 L205.60 447.98 L205.75 447.11 L205.90 449.64 L206.05 438.68 L206.20 442.95 L206.35 442.25 L206.50 445.23 L206.65 443.86 L206.80 452.58 L206.95 439.45 L207.10 436.20 L207.25 440.04 L207.40 448.72 L207.55 448.25 L207.70 427.84 L207.85 446.06 L208.00 450.79 L208.15 433.82 L208.30 456.14 L208.45 447.94 L208.60 451.86 L208.75 455.15 L208.90 447.73 L209.05 443.49 L209.20 438.34 L209.35 437.36 L209.50 469.29 L209.65 458.71 L209.80 445.79 L209.95 449.42 L210.10 442.38 L210.25 458.12 L210.40 451.19 L210.55 450.99 L210.70 439.70 L210.85 454.73 L211.00 441.83 L211.15 435.54 L211.30 444.88 L211.45 449.95 L211.60 428.99 L211.75 444.45 L211.90 446.69 L212.05 434.50 L212.20 448.32 L212.35 442.92 L212.50 451.31 L212.65 444.87 L212.80 447.98 L212.95 456.43 L213.10 461.26 L213.25 452.94 L213.40 452.43 L213.55 440.91 L213.70 445.14 L213.85 455.34 L214.00 445.09 L214.15 445.03 L214.30 448.51 L214.45 442.09 L214.60 453.44 L214.75 451.23 L214.90 448.04 L215.05 444.50 L215.20 446.73 L215.35 455.79 L215.50 452.40 L215.65 452.84 L215.80 454.36 L215.95 443.22 L216.10 448.85 L216.25 464.05 L216.40 454.43 L216.55 456.54 L216.70 449.70 L216.85 449.00 L217.00 439.39 L217.15 450.52 L217.30 458.88 L217.45 456.26 L217.60 448.75 L217.75 433.37 L217.90 455.59 L218.05 445.21 L218.20 453.22 L218.35 452.11 L218.50 450.22 L218.65 448.36 L218.80 452.51 L218.95 458.15 L219.10 442.68 L219.25 447.20 L219.40 448.68 L219.55 449.31 L219.70 462.94 L219.85 443.06 L220.00 451.81 L220.15 460.34 L220.30 445.13 L220.45 440.08 L220.60 451.25 L220.75 449.08 L220.90 456.43 L221.05 448.50 L221.20 450.36 L221.35 450.55 L221.50 449.90 L221.65 452.82 L221.80 446.47 L221.95 442.35 L222.10 443.94 L222.25 453.99 L222.40 452.91 L222.55 458.30 L222.70 460.03 L222.85 461.09 L223.00 452.49 L223.15 456.09 L223.30 448.55 L223.45 450.66 L223.60 461.08 L223.75 442.13 L223.90 441.01 L224.05 448.75 L224.20 447.84 L224.35 455.22 L224.50 454.27 L224.65 441.15 L224.80 445.88 L224.95 472.24 L225.10 448.68 L225.25 444.48 M225.30 454.63 L225.45 456.39 L225.60 445.87 L225.75 448.85 L225.90 451.20 L226.05 457.78 L226.20 452.04 L226.35 462.27 L226.50 443.25 L226.65 450.80 L226.80 453.46 L226.95 446.53 L227.10 457.79 L227.25 451.50 L227.40 452.41 L227.55 462.07 L227.70 450.41 L227.85 446.95 L228.00 459.45 L228.15 456.24 L228.30 449.30 L228.45 452.56 L228.60 465.60 L228.75 454.95 L228.90 462.60 L229.05 462.49 L229.20 468.28 L229.35 470.61 L229.50 455.25 L229.65 464.15 L229.80 464.07 L229.95 462.39 L230.10 460.62 L230.25 462.51 L230.40 463.78 L230.55 449.78 L230.70 462.96 L230.85 461.68 L231.00 468.26 L231.15 468.86 L231.30 471.14 L231.45 465.09 L231.60 459.30 L231.75 482.37 L231.90 473.57 L232.05 472.28 L232.20 461.52 L232.35 466.86 L232.50 468.23 L232.65 471.46 L232.80 465.53 L232.95 472.24 L233.10 459.92 L233.25 466.30 L233.40 473.38 L233.55 468.27 L233.70 461.68 L233.85 466.19 L234.00 478.79 L234.15 472.36 L234.30 467.20 L234.45 478.72 L234.60 468.59 L234.75 481.35 L234.90 471.84 L235.05 469.01 L235.20 472.81 L235.35 459.81 L235.50 471.61 L235.65 466.25 L235.80 473.48 L235.95 468.43 L236.10 471.08 L236.25 452.05 L236.40 480.07 L236.55 471.92 L236.70 477.27 L236.85 491.66 L237.00 480.07 L237.15 474.60 L237.30 483.54 L237.45 469.05 L237.60 484.39 L237.75 467.66 L237.90 488.17 L238.05 476.31 L238.20 488.72 L238.35 480.55 L238.50 474.00 L238.65 472.91 L238.80 474.87 L238.95 475.16 L239.10 486.78 L239.25 481.13 L239.40 472.35 L239.55 474.17 L239.70 474.23 L239.85 470.95 L240.00 481.57 L240.15 477.33 L240.30 470.19 L240.45 478.14 L240.60 468.39 L240.75 449.08 L240.90 474.74 L241.05 478.33 L241.20 469.74 L241.35 466.76 L241.50 471.71 L241.65 482.02 L241.80 477.77 L241.95 476.65 L242.10 481.08 L242.25 486.72 L242.40 465.82 L242.55 484.89 L242.70 481.45 L242.85 487.46 L243.00 482.83 L243.15 482.25 L243.30 488.66 L243.45 473.38 L243.60 481.38 L243.75 488.94 L243.90 483.88 L244.05 474.23 L244.20 484.78 L244.35 479.46 L244.50 477.93 L244.65 480.44 L244.80 479.87 L244.95 483.09 L245.10 477.66 L245.25 492.97 L245.40 476.63 L245.55 478.08 L245.70 483.19 L245.85 491.23 L246.00 482.96 L246.15 477.26 L246.30 482.72 L246.45 480.15 L246.60 477.39 L246.75 484.39 L246.90 479.41 L247.05 484.25 L247.20 481.60 L247.35 470.96 L247.50 474.57 L247.65 472.47 L247.80 477.95 L247.95 481.50 L248.10 475.95 L248.25 465.49 L248.40 476.01 L248.55 482.29 L248.70 479.29 L248.85 484.95 L249.00 484.42 L249.15 484.04 L249.30 472.58 L249.45 486.45 L249.60 481.84 L249.75 482.54 L249.90 493.34 L250.05 479.63 L250.20 490.61 L250.35 479.82 L250.50 482.65 L250.65 483.83 L250.80 480.70 L250.95 486.44 L251.10 475.38 L251.25 484.45 L251.40 490.40 L251.55 484.57 L251.70 478.11 L251.85 490.83 L252.00 484.51 L252.15 488.77 L252.30 490.04 L252.45 476.87 L252.60 481.53 L252.75 482.76 L252.90 489.75 L253.05 463.31 L253.20 483.40 L253.35 487.93 L253.50 487.17 L253.65 484.52 L253.80 474.70 L253.95 485.13 L254.10 486.78 L254.25 480.66 L254.40 487.49 L254.55 480.81 L254.70 479.83 L254.85 485.59 L255.00 488.34 L255.15 482.53 L255.30 478.79 L255.45 476.99 L255.60 478.69 L255.75 482.00 L255.90 483.73 L256.05 483.20 L256.20 481.98 L256.35 492.32 L256.50 484.77 L256.65 489.83 L256.80 489.81 L256.95 481.22 L257.10 490.17 L257.25 477.08 L257.40 479.26 L257.55 482.16 L257.70 481.51 L257.85 498.06 L258.00 494.98 L258.15 482.09 L258.30 482.64 L258.45 484.44 L258.60 492.00 L258.75 474.89 L258.90 486.58 L259.05 480.87 L259.20 483.61 L259.35 471.99 L259.50 481.98 L259.65 493.94 L259.80 483.15 L259.95 487.60 L260.10 484.94 L260.25 484.27 L260.40 477.16 L260.55 477.38 L260.70 469.42 L260.85 486.63 L261.00 491.08 L261.15 481.60 L261.30 480.70 L261.45 485.51 L261.60 482.71 L261.75 470.60 L261.90 469.94 L262.05 493.37 L262.20 488.65 L262.35 486.99 L262.50 490.65 L262.65 482.57 L262.80 481.04 L262.95 463.42 L263.10 464.18 L263.25 485.04 L263.40 473.02 L263.55 472.24 L263.70 490.91 L263.85 477.82 L264.00 505.31 L264.15 481.32 L264.30 484.46 L264.45 471.55 L264.60 485.66 L264.75 469.15 L264.90 477.09 L265.05 480.87 L265.20 491.93 L265.35 483.72 L265.50 489.17 L265.65 478.73 L265.80 480.19 L265.95 483.49 L266.10 483.35 L266.25 475.13 L266.40 484.55 L266.55 477.38 L266.70 479.60 L266.85 472.78 L267.00 484.89 L267.15 486.69 L267.30 484.19 L267.45 490.77 L267.60 495.32 L267.75 488.79 L267.90 486.33 L268.05 490.87 L268.20 479.20 L268.35 488.38 L268.50 479.48 L268.65 486.30 L268.80 483.95" fill="none" stroke="#4472c4" stroke-width="0.25" stroke-opacity="0.55" stroke-linejoin="round"/>
<path d="M138.30 478.00 M138.40 457.00 L138.90 456.85 L139.40 456.69 L139.90 456.54 L140.40 456.39 L140.90 456.23 L141.40 456.08 L141.90 455.93 L142.40 455.77 L142.90 455.62 L143.40 455.47 L143.90 455.32 L144.40 455.17 L144.90 455.03 L145.40 454.88 L145.90 454.74 L146.40 454.59 L146.90 454.44 L147.40 454.29 L147.90 454.15 L148.40 454.00 L148.90 453.86 L149.40 453.72 L149.90 453.59 L150.40 453.46 L150.90 453.34 L151.40 453.23 L151.90 453.12 L152.40 453.02 L152.90 452.92 L153.40 452.83 L153.90 452.74 L154.40 452.65 L154.90 452.57 L155.40 452.49 L155.90 452.41 L156.40 452.33 L156.90 452.26 L157.40 452.18 L157.90 452.11 L158.40 452.05 L158.90 451.98 L159.40 451.92 L159.90 451.85 L160.40 451.79 L160.90 451.73 L161.40 451.68 L161.90 451.62 L162.40 451.56 L162.90 451.51 L163.40 451.46 L163.90 451.41 L164.40 451.35 L164.90 451.30 L165.40 451.25 L165.90 451.20 L166.40 451.16 L166.90 451.11 L167.40 451.06 L167.90 451.01 L168.40 450.96 L168.90 450.92 L169.40 450.87 L169.90 450.83 L170.40 450.79 L170.90 450.75 L171.40 450.71 L171.90 450.67 L172.40 450.63 L172.90 450.60 L173.40 450.57 L173.90 450.53 L174.40 450.50 L174.90 450.47 L175.40 450.44 L175.90 450.41 L176.40 450.38 L176.90 450.35 L177.40 450.33 L177.90 450.30 L178.40 450.28 L178.90 450.25 L179.40 450.22 L179.90 450.20 L180.40 450.18 L180.90 450.15 L181.40 450.13 L181.90 450.10 L182.40 450.08 L182.90 450.05 L183.40 450.03 L183.90 450.00 L184.40 449.98 L184.90 449.96 L185.40 449.93 L185.90 449.91 L186.40 449.88 L186.90 449.86 L187.40 449.84 L187.90 449.82 L188.40 449.79 L188.90 449.77 L189.40 449.75 L189.90 449.73 L190.40 449.71 L190.90 449.69 L191.40 449.67 L191.90 449.65 L192.40 449.63 L192.90 449.61 L193.40 449.59 L193.90 449.57 L194.40 449.55 L194.90 449.53 L195.40 449.51 L195.90 449.50 L196.40 449.48 L196.90 449.46 L197.40 449.44 L197.90 449.43 L198.40 449.41 L198.90 449.40 L199.40 449.38 L199.90 449.36 L200.40 449.35 L200.90 449.33 L201.40 449.32 L201.90 449.31 L202.40 449.29 L202.90 449.28 L203.40 449.26 L203.90 449.25 L204.40 449.24 L204.90 449.23 L205.40 449.21 L205.90 449.20 L206.40 449.19 L206.90 449.18 L207.40 449.17 L207.90 449.16 L208.40 449.15 L208.90 449.14 L209.40 449.13 L209.90 449.13 L210.40 449.12 L210.90 449.11 L211.40 449.11 L211.90 449.10 L212.40 449.10 L212.90 449.09 L213.40 449.09 L213.90 449.08 L214.40 449.08 L214.90 449.07 L215.40 449.07 L215.90 449.07 L216.40 449.06 L216.90 449.06 L217.40 449.06 L217.90 449.05 L218.40 449.05 L218.90 449.05 L219.40 449.04 L219.90 449.04 L220.40 449.04 L220.90 449.04 L221.40 449.03 L221.90 449.03 L222.40 449.03 L222.90 449.02 L223.40 449.02 L223.90 449.01 L224.40 449.01 L224.90 449.00 M225.30 449.00 L225.80 450.05 L226.30 451.12 L226.80 452.19 L227.30 453.28 L227.80 454.36 L228.30 455.44 L228.80 456.52 L229.30 457.58 L229.80 458.63 L230.30 459.67 L230.80 460.68 L231.30 461.67 L231.80 462.63 L232.30 463.56 L232.80 464.48 L233.30 465.39 L233.80 466.28 L234.30 467.17 L234.80 468.04 L235.30 468.90 L235.80 469.74 L236.30 470.57 L236.80 471.37 L237.30 472.16 L237.80 472.92 L238.30 473.67 L238.80 474.38 L239.30 475.08 L239.80 475.74 L240.30 476.38 L240.80 477.00 L241.30 477.59 L241.80 478.17 L242.30 478.72 L242.80 479.25 L243.30 479.76 L243.80 480.25 L244.30 480.71 L244.80 481.16 L245.30 481.58 L245.80 481.99 L246.30 482.37 L246.80 482.73 L247.30 483.06 L247.80 483.38 L248.30 483.67 L248.80 483.94 L249.30 484.18 L249.80 484.40 L250.30 484.59 L250.80 484.77 L251.30 484.92 L251.80 485.05 L252.30 485.16 L252.80 485.25 L253.30 485.33 L253.80 485.39 L254.30 485.44 L254.80 485.47 L255.30 485.49 L255.80 485.50 L256.30 485.50 L256.80 485.50 L257.30 485.50 L257.80 485.50 L258.30 485.50 L258.80 485.50 L259.30 485.50 L259.80 485.50 L260.30 485.50 L260.80 485.50 L261.30 485.50 L261.80 485.50 L262.30 485.50 L262.80 485.50 L263.30 485.50 L263.80 485.50 L264.30 485.50 L264.80 485.50 L265.30 485.50 L265.80 485.50" fill="none" stroke="#f07070" stroke-width="0.45" stroke-opacity="0.60"/>
<line x1="225.40" y1="424.5" x2="225.40" y2="508.1" stroke="#f5aab6" stroke-width="0.8"/>
<text x="136.6" y="544.4" class="cap" textLength="111.2" lengthAdjust="spacingAndGlyphs">Sequence 10 (31 to 50)</text>
<path d="M281.2 420.4H452.6M281.2 420.4V532.0M281.2 532.0H452.6" fill="none" stroke="#dcdcdc" stroke-width="0.7"/>
<path d="M452.6 420.4V532.0" fill="none" stroke="#f3f3f3" stroke-width="0.7"/>
<rect x="318.5" y="426.50" width="123.3" height="8.40" fill="#f7f7f7"/>
<rect x="318.5" y="442.70" width="123.3" height="8.90" fill="#f7f7f7"/>
<rect x="318.5" y="459.40" width="123.3" height="8.90" fill="#f7f7f7"/>
<rect x="318.5" y="476.10" width="123.3" height="8.90" fill="#f7f7f7"/>
<rect x="318.5" y="492.80" width="123.3" height="8.90" fill="#f7f7f7"/>
<line x1="334.30" y1="426.5" x2="334.30" y2="508.5" stroke="#f0f0f0" stroke-width="0.4"/>
<line x1="347.60" y1="426.5" x2="347.60" y2="508.5" stroke="#f0f0f0" stroke-width="0.4"/>
<line x1="360.90" y1="426.5" x2="360.90" y2="508.5" stroke="#f0f0f0" stroke-width="0.4"/>
<line x1="374.20" y1="426.5" x2="374.20" y2="508.5" stroke="#f0f0f0" stroke-width="0.4"/>
<line x1="387.50" y1="426.5" x2="387.50" y2="508.5" stroke="#f0f0f0" stroke-width="0.4"/>
<line x1="400.80" y1="426.5" x2="400.80" y2="508.5" stroke="#f0f0f0" stroke-width="0.4"/>
<line x1="414.10" y1="426.5" x2="414.10" y2="508.5" stroke="#f0f0f0" stroke-width="0.4"/>
<line x1="427.40" y1="426.5" x2="427.40" y2="508.5" stroke="#f0f0f0" stroke-width="0.4"/>
<line x1="440.70" y1="426.5" x2="440.70" y2="508.5" stroke="#f0f0f0" stroke-width="0.4"/>
<line x1="318.5" y1="508.50" x2="441.8" y2="508.50" stroke="#d9d9d9" stroke-width="0.5"/>
<text x="309.3" y="434.22" text-anchor="end" class="t">0.024</text>
<text x="309.3" y="446.65" text-anchor="end" class="t">0.02</text>
<text x="309.3" y="459.08" text-anchor="end" class="t">0.016</text>
<text x="309.3" y="471.52" text-anchor="end" class="t">0.012</text>
<text x="309.3" y="483.95" text-anchor="end" class="t">0.008</text>
<text x="309.3" y="496.38" text-anchor="end" class="t">0.004</text>
<text x="309.3" y="508.82" text-anchor="end" class="t">0</text>
<text x="321.00" y="516.92" text-anchor="middle" class="t">0</text>
<text x="334.30" y="516.92" text-anchor="middle" class="t">100</text>
<text x="347.60" y="516.92" text-anchor="middle" class="t">200</text>
<text x="360.90" y="516.92" text-anchor="middle" class="t">300</text>
<text x="374.20" y="516.92" text-anchor="middle" class="t">400</text>
<text x="387.50" y="516.92" text-anchor="middle" class="t">500</text>
<text x="400.80" y="516.92" text-anchor="middle" class="t">600</text>
<text x="414.10" y="516.92" text-anchor="middle" class="t">700</text>
<text x="427.40" y="516.92" text-anchor="middle" class="t">800</text>
<text x="440.70" y="516.92" text-anchor="middle" class="t">900</text>
<text x="370.15" y="525.57" class="ti" textLength="22.3" lengthAdjust="spacingAndGlyphs">Time (s)</text>
<text transform="translate(291.00 479.20) rotate(-90)" x="-26.3" y="2.27" class="ti" textLength="52.6" lengthAdjust="spacingAndGlyphs">Spectral Shift (nm)</text>
<path d="M318.60 480.43 L318.75 476.46 L318.90 477.13 L319.05 476.15 L319.20 472.99 L319.35 473.58 L319.50 470.91 L319.65 474.59 L319.80 474.17 L319.95 478.08 L320.10 473.88 L320.25 469.57 L320.40 473.67 L320.55 478.49 L320.70 468.44 L320.85 472.45 L321.00 471.34 L321.15 473.56 L321.30 466.21 L321.45 470.50 L321.60 475.06 L321.75 474.14 L321.90 466.48 L322.05 472.86 L322.20 465.95 L322.35 460.62 L322.50 469.27 L322.65 470.04 L322.80 469.27 L322.95 468.07 L323.10 469.97 L323.25 458.27 L323.40 465.06 L323.55 467.57 L323.70 467.28 L323.85 470.71 L324.00 466.87 L324.15 464.28 L324.30 463.04 L324.45 458.26 L324.60 468.69 L324.75 467.70 L324.90 480.44 L325.05 460.71 L325.20 467.24 L325.35 464.82 L325.50 479.25 L325.65 469.24 L325.80 466.04 L325.95 467.75 L326.10 470.12 L326.25 463.76 L326.40 467.85 L326.55 467.65 L326.70 471.62 L326.85 467.17 L327.00 462.43 L327.15 469.11 L327.30 474.04 L327.45 466.76 L327.60 463.26 L327.75 471.75 L327.90 465.20 L328.05 468.53 L328.20 465.59 L328.35 459.96 L328.50 463.37 L328.65 460.35 L328.80 466.04 L328.95 462.57 L329.10 471.34 L329.25 466.10 L329.40 472.32 L329.55 467.53 L329.70 464.17 L329.85 463.42 L330.00 467.25 L330.15 458.17 L330.30 461.37 L330.45 463.47 L330.60 464.71 L330.75 468.69 L330.90 464.63 L331.05 472.70 L331.20 464.00 L331.35 464.97 L331.50 460.35 L331.65 475.14 L331.80 468.43 L331.95 463.21 L332.10 458.88 L332.25 464.05 L332.40 466.50 L332.55 470.71 L332.70 464.45 L332.85 466.30 L333.00 467.37 L333.15 464.13 L333.30 469.32 L333.45 462.25 L333.60 465.38 L333.75 468.32 L333.90 459.96 L334.05 468.73 L334.20 468.32 L334.35 461.24 L334.50 467.78 L334.65 462.32 L334.80 455.80 L334.95 469.06 L335.10 467.65 L335.25 463.06 L335.40 462.43 L335.55 464.98 L335.70 467.47 L335.85 455.66 L336.00 459.80 L336.15 461.21 L336.30 465.21 L336.45 465.43 L336.60 457.29 L336.75 465.44 L336.90 468.79 L337.05 463.13 L337.20 463.62 L337.35 462.71 L337.50 462.01 L337.65 459.40 L337.80 465.61 L337.95 464.51 L338.10 463.14 L338.25 464.69 L338.40 463.03 L338.55 458.06 L338.70 462.85 L338.85 463.07 L339.00 463.04 L339.15 460.10 L339.30 464.29 L339.45 462.28 L339.60 462.46 L339.75 461.08 L339.90 465.68 L340.05 455.26 L340.20 462.31 L340.35 465.67 L340.50 460.77 L340.65 461.44 L340.80 467.86 L340.95 462.27 L341.10 466.76 L341.25 462.64 L341.40 460.71 L341.55 462.46 L341.70 462.64 L341.85 460.70 L342.00 463.20 L342.15 463.78 L342.30 459.68 L342.45 461.90 L342.60 466.90 L342.75 456.48 L342.90 462.18 L343.05 458.23 L343.20 463.46 L343.35 463.14 L343.50 459.85 L343.65 463.41 L343.80 458.48 L343.95 459.45 L344.10 452.57 L344.25 457.00 L344.40 463.89 L344.55 466.81 L344.70 463.92 L344.85 458.52 L345.00 461.34 L345.15 462.92 L345.30 457.53 L345.45 466.97 L345.60 457.09 L345.75 462.13 L345.90 456.66 L346.05 460.45 L346.20 462.37 L346.35 459.96 L346.50 458.60 L346.65 452.23 L346.80 464.12 L346.95 460.36 L347.10 462.97 L347.25 461.89 L347.40 467.12 L347.55 469.89 L347.70 460.55 L347.85 459.83 L348.00 459.01 L348.15 463.87 L348.30 462.81 L348.45 459.98 L348.60 456.27 L348.75 458.32 L348.90 461.07 L349.05 466.32 L349.20 463.98 L349.35 455.58 L349.50 461.32 L349.65 456.88 L349.80 468.56 L349.95 458.62 L350.10 462.21 L350.25 464.47 L350.40 463.86 L350.55 455.74 L350.70 461.94 L350.85 464.21 L351.00 452.59 L351.15 461.89 L351.30 464.65 L351.45 454.41 L351.60 463.15 L351.75 459.06 L351.90 459.49 L352.05 456.54 L352.20 457.65 L352.35 462.93 L352.50 460.45 L352.65 456.78 L352.80 458.86 L352.95 456.78 L353.10 459.34 L353.25 461.70 L353.40 463.41 L353.55 455.97 L353.70 457.81 L353.85 458.17 L354.00 463.45 L354.15 457.42 L354.30 459.77 L354.45 449.25 L354.60 460.26 L354.75 465.18 L354.90 464.05 L355.05 465.34 L355.20 459.09 L355.35 456.92 L355.50 460.06 L355.65 460.53 L355.80 460.02 L355.95 460.55 L356.10 461.94 L356.25 468.83 L356.40 460.64 L356.55 463.01 L356.70 456.61 L356.85 462.98 L357.00 459.10 L357.15 455.07 L357.30 454.90 L357.45 457.99 L357.60 456.20 L357.75 461.82 L357.90 459.68 L358.05 458.56 L358.20 457.57 L358.35 458.85 L358.50 462.66 L358.65 456.37 L358.80 461.94 L358.95 455.15 L359.10 450.85 L359.25 454.69 L359.40 461.40 L359.55 454.45 L359.70 456.70 L359.85 455.71 L360.00 461.60 L360.15 460.08 L360.30 459.95 L360.45 456.35 L360.60 461.51 L360.75 467.06 L360.90 454.81 L361.05 464.17 L361.20 457.88 L361.35 458.74 L361.50 456.59 L361.65 455.83 L361.80 456.69 L361.95 455.75 L362.10 455.74 L362.25 460.00 L362.40 463.14 L362.55 447.23 L362.70 459.20 L362.85 459.97 L363.00 454.95 L363.15 445.95 L363.30 452.67 L363.45 459.73 L363.60 464.67 L363.75 451.74 L363.90 452.31 L364.05 458.83 L364.20 458.84 L364.35 453.54 L364.50 460.11 L364.65 455.50 L364.80 456.10 L364.95 456.94 L365.10 455.87 L365.25 449.74 L365.40 450.59 L365.55 449.45 L365.70 457.63 L365.85 456.39 L366.00 454.64 L366.15 456.45 L366.30 457.44 L366.45 453.91 L366.60 455.73 L366.75 458.45 L366.90 454.64 L367.05 459.54 L367.20 454.43 L367.35 452.76 L367.50 454.80 L367.65 460.57 L367.80 454.82 L367.95 452.06 L368.10 455.35 L368.25 455.08 L368.40 454.18 L368.55 458.35 L368.70 456.47 L368.85 466.29 L369.00 452.92 L369.15 453.37 L369.30 450.83 L369.45 456.85 L369.60 455.50 L369.75 457.24 L369.90 460.93 L370.05 457.32 L370.20 450.72 L370.35 458.19 L370.50 458.14 L370.65 455.10 L370.80 453.94 L370.95 463.76 L371.10 460.01 L371.25 457.19 L371.40 442.54 L371.55 459.55 L371.70 457.80 L371.85 454.41 L372.00 445.38 L372.15 452.68 L372.30 454.96 L372.45 446.43 L372.60 449.41 L372.75 457.15 L372.90 455.76 L373.05 456.13 L373.20 461.40 L373.35 452.94 L373.50 450.34 L373.65 462.51 L373.80 458.79 L373.95 452.60 L374.10 451.04 L374.25 453.03 L374.40 447.47 L374.55 455.27 L374.70 450.47 L374.85 460.14 L375.00 447.85 L375.15 448.05 L375.30 457.91 L375.45 454.50 L375.60 454.49 L375.75 451.89 L375.90 454.81 L376.05 454.51 L376.20 448.08 L376.35 455.36 L376.50 456.52 L376.65 446.28 L376.80 448.00 L376.95 456.40 L377.10 451.08 L377.25 444.69 L377.40 450.77 L377.55 446.90 L377.70 453.45 L377.85 450.61 L378.00 454.99 L378.15 453.61 L378.30 451.04 L378.45 455.31 L378.60 447.58 L378.75 455.85 L378.90 451.82 L379.05 449.14 L379.20 447.69 L379.35 451.83 L379.50 450.59 L379.65 447.29 L379.80 452.31 L379.95 453.88 L380.10 449.32 L380.25 447.56 L380.40 452.74 L380.55 457.12 L380.70 451.56 L380.85 449.80 L381.00 452.66 L381.15 447.61 L381.30 446.46 L381.45 454.10 L381.60 453.94 L381.75 446.04 L381.90 450.79 L382.05 449.78 L382.20 442.86 L382.35 441.20 L382.50 454.54 L382.65 451.98 L382.80 450.94 L382.95 466.60 L383.10 451.80 L383.25 448.59 L383.40 447.22 L383.55 449.98 L383.70 448.66 L383.85 451.54 L384.00 445.78 L384.15 444.18 L384.30 450.08 L384.45 452.03 L384.60 447.59 L384.75 442.48 L384.90 449.47 L385.05 443.81 L385.20 452.30 L385.35 447.33 L385.50 442.24 L385.65 445.72 L385.80 441.98 L385.95 448.67 L386.10 450.79 L386.25 449.69 L386.40 441.41 L386.55 446.95 L386.70 444.47 L386.85 447.30 L387.00 448.75 L387.15 449.91 L387.30 446.55 L387.45 445.12 L387.60 449.74 L387.75 446.75 L387.90 450.26 L388.05 454.65 L388.20 448.53 L388.35 449.15 L388.50 447.57 L388.65 450.02 L388.80 448.45 L388.95 453.50 L389.10 443.59 L389.25 448.85 L389.40 446.75 L389.55 445.99 L389.70 448.98 L389.85 446.50 L390.00 439.53 L390.15 444.66 L390.30 448.93 L390.45 440.84 L390.60 441.11 L390.75 448.33 L390.90 446.57 L391.05 440.91 L391.20 445.80 L391.35 450.07 L391.50 444.77 L391.65 446.73 L391.80 444.11 L391.95 449.55 L392.10 445.43 L392.25 447.68 L392.40 446.25 L392.55 440.34 L392.70 446.59 L392.85 447.18 L393.00 449.00 L393.15 447.71 L393.30 441.19 L393.45 444.21 L393.60 445.96 L393.75 439.54 L393.90 446.43 L394.05 445.98 L394.20 444.61 L394.35 445.78 L394.50 445.35 L394.65 442.86 L394.80 446.70 L394.95 440.45 L395.10 449.28 L395.25 445.55 L395.40 446.30 L395.55 447.07 L395.70 444.15 L395.85 445.34 L396.00 447.69 L396.15 450.10 L396.30 448.83 L396.45 448.64 L396.60 444.90 L396.75 447.21 L396.90 444.49 L397.05 441.16 L397.20 444.18 L397.35 452.30 L397.50 443.44 L397.65 443.41 L397.80 444.30 L397.95 446.38 L398.10 445.27 L398.25 455.56 L398.40 444.03 L398.55 444.30 L398.70 446.23 L398.85 444.40 L399.00 437.82 L399.15 438.99 L399.30 445.90 L399.45 444.92 L399.60 445.43 L399.75 445.99 L399.90 433.69 L400.05 442.53 L400.20 441.13 L400.35 448.29 L400.50 440.63 M400.50 436.49 L400.65 441.96 L400.80 437.79 L400.95 442.72 L401.10 433.54 L401.25 436.47 L401.40 436.80 L401.55 434.84 L401.70 431.47 L401.85 433.97 L402.00 437.31 L402.15 437.75 L402.30 437.90 L402.45 430.95 L402.60 431.31 L402.75 435.40 L402.90 434.46 L403.05 435.79 L403.20 440.94 L403.35 440.44 L403.50 440.61 L403.65 450.74 L403.80 442.73 L403.95 440.32 L404.10 443.34 L404.25 432.31 L404.40 438.94 L404.55 442.11 L404.70 444.56 L404.85 442.81 L405.00 444.60 L405.15 439.67 L405.30 441.03 L405.45 437.38 L405.60 444.97 L405.75 451.06 L405.90 444.84 L406.05 446.80 L406.20 441.33 L406.35 443.72 L406.50 447.46 L406.65 449.49 L406.80 446.23 L406.95 441.29 L407.10 446.91 L407.25 449.05 L407.40 441.82 L407.55 450.98 L407.70 449.67 L407.85 449.41 L408.00 447.96 L408.15 444.76 L408.30 447.29 L408.45 452.20 L408.60 451.16 L408.75 445.90 L408.90 454.42 L409.05 446.59 L409.20 448.00 L409.35 451.74 L409.50 448.65 L409.65 459.57 L409.80 440.43 L409.95 443.84 L410.10 449.95 L410.25 442.71 L410.40 456.06 L410.55 446.48 L410.70 451.66 L410.85 445.42 L411.00 448.90 L411.15 453.15 L411.30 448.36 L411.45 444.91 L411.60 451.45 L411.75 453.60 L411.90 448.10 L412.05 451.44 L412.20 453.32 L412.35 453.85 L412.50 455.42 L412.65 457.55 L412.80 454.04 L412.95 455.87 L413.10 450.98 L413.25 451.02 L413.40 458.12 L413.55 452.99 L413.70 445.68 L413.85 454.77 L414.00 452.13 L414.15 449.14 L414.30 452.50 L414.45 460.46 L414.60 455.30 L414.75 452.05 L414.90 455.26 L415.05 453.55 L415.20 463.20 L415.35 451.97 L415.50 453.77 L415.65 456.12 L415.80 454.81 L415.95 444.22 L416.10 459.43 L416.25 455.23 L416.40 455.33 L416.55 452.41 L416.70 458.74 L416.85 458.36 L417.00 457.51 L417.15 455.96 L417.30 455.04 L417.45 458.95 L417.60 456.09 L417.75 460.80 L417.90 458.68 L418.05 456.75 L418.20 459.80 L418.35 457.80 L418.50 458.36 L418.65 454.48 L418.80 454.56 L418.95 462.99 L419.10 461.63 L419.25 462.39 L419.40 461.97 L419.55 457.06 L419.70 459.16 L419.85 457.20 L420.00 459.49 L420.15 454.88 L420.30 460.53 L420.45 460.85 L420.60 456.61 L420.75 457.00 L420.90 457.12 L421.05 462.26 L421.20 452.50 L421.35 455.89 L421.50 461.29 L421.65 458.04 L421.80 458.60 L421.95 462.62 L422.10 459.44 L422.25 455.24 L422.40 453.91 L422.55 453.96 L422.70 453.55 L422.85 464.09 L423.00 460.55 L423.15 458.07 L423.30 460.37 L423.45 462.24 L423.60 457.86 L423.75 459.92 L423.90 456.73 L424.05 458.92 L424.20 461.06 L424.35 459.09 L424.50 458.10 L424.65 458.92 L424.80 458.73 L424.95 453.48 L425.10 454.61 L425.25 461.21 L425.40 459.93 L425.55 460.46 L425.70 458.80 L425.85 454.96 L426.00 472.60 L426.15 460.86 L426.30 461.99 L426.45 459.29 L426.60 462.14 L426.75 455.20 L426.90 465.06 L427.05 457.16 L427.20 459.57 L427.35 456.65 L427.50 457.27 L427.65 458.88 L427.80 463.32 L427.95 460.69 L428.10 458.94 L428.25 457.67 L428.40 458.38 L428.55 460.06 L428.70 459.96 L428.85 457.49 L429.00 455.18 L429.15 459.38 L429.30 459.70 L429.45 457.31 L429.60 468.37 L429.75 460.64 L429.90 456.75 L430.05 461.03 L430.20 463.04 L430.35 460.02 L430.50 460.60 L430.65 459.53 L430.80 465.61 L430.95 461.70 L431.10 452.57 L431.25 455.79 L431.40 460.35 L431.55 459.96 L431.70 462.57 L431.85 462.40 L432.00 465.42 L432.15 454.94 L432.30 460.66 L432.45 458.53 L432.60 461.51 L432.75 463.36 L432.90 471.05 L433.05 460.48 L433.20 461.58 L433.35 459.78 L433.50 460.09 L433.65 460.52 L433.80 451.25 L433.95 462.05 L434.10 459.25 L434.25 464.07 L434.40 459.23 L434.55 456.62 L434.70 457.73 L434.85 464.78 L435.00 463.21 L435.15 459.73 L435.30 463.49 L435.45 462.23 L435.60 462.83 L435.75 460.44 L435.90 458.88 L436.05 458.28 L436.20 466.06 L436.35 465.01 L436.50 458.40 L436.65 466.70 L436.80 461.54 L436.95 466.50 L437.10 462.36 L437.25 465.39 L437.40 457.49 L437.55 461.87 L437.70 454.67 L437.85 464.25 L438.00 460.48 L438.15 457.25 L438.30 460.37 L438.45 462.11 L438.60 462.26 L438.75 466.49 L438.90 456.14 L439.05 460.91 L439.20 464.59 L439.35 458.65 L439.50 463.83 L439.65 464.75 L439.80 462.41 L439.95 462.22 L440.10 468.20 L440.25 462.58 L440.40 463.48 L440.55 464.65 L440.70 459.17 L440.85 463.17 L441.00 464.60 L441.15 460.44 L441.30 465.82 L441.45 465.68 L441.60 470.85" fill="none" stroke="#4472c4" stroke-width="0.25" stroke-opacity="0.55" stroke-linejoin="round"/>
<path d="M318.40 491.00 L318.90 476.19 L319.40 474.09 L319.90 472.89 L320.40 472.31 L320.90 472.09 L321.40 471.96 L321.90 471.78 L322.40 471.57 L322.90 471.33 L323.40 471.07 L323.90 470.78 L324.40 470.47 L324.90 470.14 L325.40 469.81 L325.90 469.46 L326.40 469.11 L326.90 468.76 L327.40 468.41 L327.90 468.07 L328.40 467.74 L328.90 467.42 L329.40 467.12 L329.90 466.85 L330.40 466.59 L330.90 466.37 L331.40 466.15 L331.90 465.94 L332.40 465.73 L332.90 465.54 L333.40 465.35 L333.90 465.16 L334.40 464.98 L334.90 464.81 L335.40 464.64 L335.90 464.48 L336.40 464.32 L336.90 464.16 L337.40 464.01 L337.90 463.86 L338.40 463.71 L338.90 463.57 L339.40 463.43 L339.90 463.29 L340.40 463.15 L340.90 463.01 L341.40 462.87 L341.90 462.74 L342.40 462.60 L342.90 462.46 L343.40 462.32 L343.90 462.18 L344.40 462.04 L344.90 461.90 L345.40 461.75 L345.90 461.61 L346.40 461.45 L346.90 461.30 L347.40 461.15 L347.90 461.01 L348.40 460.86 L348.90 460.71 L349.40 460.57 L349.90 460.42 L350.40 460.28 L350.90 460.13 L351.40 459.99 L351.90 459.85 L352.40 459.71 L352.90 459.56 L353.40 459.42 L353.90 459.28 L354.40 459.14 L354.90 459.00 L355.40 458.86 L355.90 458.72 L356.40 458.58 L356.90 458.44 L357.40 458.29 L357.90 458.15 L358.40 458.01 L358.90 457.87 L359.40 457.73 L359.90 457.58 L360.40 457.44 L360.90 457.29 L361.40 457.15 L361.90 457.00 L362.40 456.85 L362.90 456.71 L363.40 456.56 L363.90 456.41 L364.40 456.27 L364.90 456.12 L365.40 455.98 L365.90 455.83 L366.40 455.68 L366.90 455.54 L367.40 455.39 L367.90 455.24 L368.40 455.10 L368.90 454.95 L369.40 454.80 L369.90 454.65 L370.40 454.51 L370.90 454.36 L371.40 454.21 L371.90 454.06 L372.40 453.90 L372.90 453.75 L373.40 453.60 L373.90 453.44 L374.40 453.29 L374.90 453.13 L375.40 452.98 L375.90 452.82 L376.40 452.66 L376.90 452.50 L377.40 452.33 L377.90 452.17 L378.40 452.00 L378.90 451.83 L379.40 451.66 L379.90 451.49 L380.40 451.32 L380.90 451.14 L381.40 450.96 L381.90 450.78 L382.40 450.60 L382.90 450.42 L383.40 450.24 L383.90 450.06 L384.40 449.88 L384.90 449.70 L385.40 449.51 L385.90 449.33 L386.40 449.15 L386.90 448.97 L387.40 448.79 L387.90 448.61 L388.40 448.43 L388.90 448.25 L389.40 448.07 L389.90 447.89 L390.40 447.72 L390.90 447.54 L391.40 447.37 L391.90 447.20 L392.40 447.03 L392.90 446.87 L393.40 446.70 L393.90 446.54 L394.40 446.38 L394.90 446.23 L395.40 446.07 L395.90 445.91 L396.40 445.76 L396.90 445.61 L397.40 445.45 L397.90 445.30 L398.40 445.15 L398.90 444.99 L399.40 444.84 L399.90 444.69 L400.40 444.53 M400.50 442.00 L401.00 442.21 L401.50 442.39 L402.00 442.57 L402.50 442.74 L403.00 442.93 L403.50 443.13 L404.00 443.38 L404.50 443.66 L405.00 444.00 L405.50 444.40 L406.00 444.84 L406.50 445.33 L407.00 445.85 L407.50 446.39 L408.00 446.95 L408.50 447.53 L409.00 448.10 L409.50 448.67 L410.00 449.22 L410.50 449.75 L411.00 450.26 L411.50 450.74 L412.00 451.21 L412.50 451.68 L413.00 452.15 L413.50 452.62 L414.00 453.09 L414.50 453.54 L415.00 453.99 L415.50 454.43 L416.00 454.85 L416.50 455.26 L417.00 455.65 L417.50 456.02 L418.00 456.37 L418.50 456.70 L419.00 457.00 L419.50 457.28 L420.00 457.52 L420.50 457.75 L421.00 457.95 L421.50 458.14 L422.00 458.30 L422.50 458.46 L423.00 458.60 L423.50 458.73 L424.00 458.85 L424.50 458.96 L425.00 459.07 L425.50 459.18 L426.00 459.29 L426.50 459.41 L427.00 459.52 L427.50 459.64 L428.00 459.74 L428.50 459.83 L429.00 459.91 L429.50 459.99 L430.00 460.07 L430.50 460.14 L431.00 460.21 L431.50 460.28 L432.00 460.35 L432.50 460.42 L433.00 460.50" fill="none" stroke="#f07070" stroke-width="0.45" stroke-opacity="0.60"/>
<line x1="400.90" y1="426.5" x2="400.90" y2="508.5" stroke="#f5aab6" stroke-width="0.8"/>
<text x="311.6" y="544.4" class="cap" textLength="111.2" lengthAdjust="spacingAndGlyphs">Sequence 11 (41 to 80)</text>
</svg>
</body></html>
